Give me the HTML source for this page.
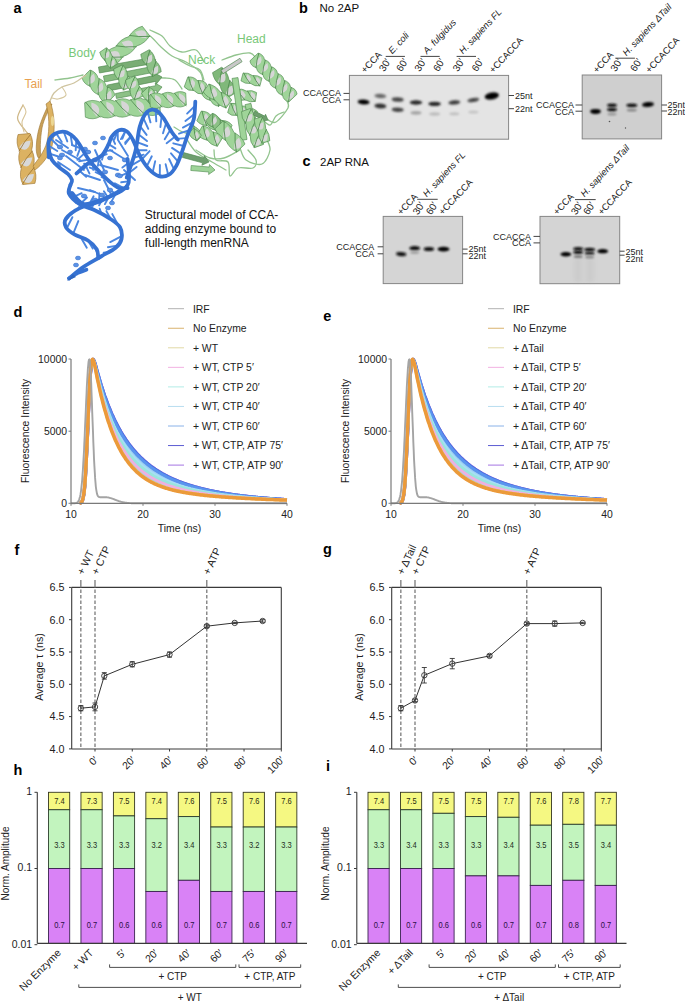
<!DOCTYPE html>
<html><head><meta charset="utf-8"><style>
html,body{margin:0;padding:0;background:#fff;width:685px;height:1001px;overflow:hidden}
svg{display:block;font-family:"Liberation Sans",sans-serif}
</style></head><body>
<svg width="685" height="1001" viewBox="0 0 685 1001">
<rect width="685" height="1001" fill="#fff"/>
<text x="13.50" y="12.70" font-size="14.5" text-anchor="start" fill="#000" font-weight="bold">a</text>
<text x="299.00" y="12.70" font-size="14.5" text-anchor="start" fill="#000" font-weight="bold">b</text>
<text x="302.50" y="166.40" font-size="14.5" text-anchor="start" fill="#000" font-weight="bold">c</text>
<text x="13.50" y="317.00" font-size="14.5" text-anchor="start" fill="#000" font-weight="bold">d</text>
<text x="323.20" y="321.00" font-size="14.5" text-anchor="start" fill="#000" font-weight="bold">e</text>
<text x="14.50" y="555.00" font-size="14.5" text-anchor="start" fill="#000" font-weight="bold">f</text>
<text x="323.00" y="554.40" font-size="14.5" text-anchor="start" fill="#000" font-weight="bold">g</text>
<text x="13.50" y="774.60" font-size="14.5" text-anchor="start" fill="#000" font-weight="bold">h</text>
<text x="326.00" y="771.40" font-size="14.5" text-anchor="start" fill="#000" font-weight="bold">i</text>
<g id="protein"><path d="M140.0,34.0 C141.7,34.3 146.7,34.0 150.0,36.0 C153.3,38.0 156.3,42.7 160.0,46.0 C163.7,49.3 167.7,53.3 172.0,56.0 C176.3,58.7 181.3,59.3 186.0,62.0 C190.7,64.7 197.2,68.7 200.0,72.0 C202.8,75.3 202.5,80.3 203.0,82.0" fill="none" stroke="#92c48e" stroke-width="1.3" stroke-linecap="round" stroke-linejoin="round"/>
<path d="M150.0,30.0 C152.0,31.0 158.7,33.3 162.0,36.0 C165.3,38.7 166.7,43.3 170.0,46.0 C173.3,48.7 177.7,51.3 182.0,52.0 C186.3,52.7 192.3,48.3 196.0,50.0 C199.7,51.7 202.7,60.0 204.0,62.0" fill="none" stroke="#92c48e" stroke-width="1.3" stroke-linecap="round" stroke-linejoin="round"/>
<path d="M150.0,78.0 C152.5,78.0 160.8,77.7 165.0,78.0 C169.2,78.3 172.2,78.2 175.0,80.0 C177.8,81.8 180.8,87.5 182.0,89.0" fill="none" stroke="#92c48e" stroke-width="1.3" stroke-linecap="round" stroke-linejoin="round"/>
<path d="M179.0,60.0 C180.8,61.0 186.5,64.3 190.0,66.0 C193.5,67.7 197.7,67.7 200.0,70.0 C202.3,72.3 203.3,78.3 204.0,80.0" fill="none" stroke="#92c48e" stroke-width="1.3" stroke-linecap="round" stroke-linejoin="round"/>
<path d="M287.0,101.0 C287.2,102.2 289.8,104.5 288.0,108.0 C286.2,111.5 279.3,120.0 276.0,122.0 C272.7,124.0 269.3,120.3 268.0,120.0" fill="none" stroke="#92c48e" stroke-width="1.3" stroke-linecap="round" stroke-linejoin="round"/>
<path d="M214.0,150.0 C214.3,151.7 213.7,158.0 216.0,160.0 C218.3,162.0 225.7,159.3 228.0,162.0 C230.3,164.7 228.3,175.0 230.0,176.0 C231.7,177.0 234.2,169.3 238.0,168.0 C241.8,166.7 250.0,169.3 253.0,168.0 C256.0,166.7 256.8,163.0 256.0,160.0 C255.2,157.0 249.3,151.7 248.0,150.0" fill="none" stroke="#92c48e" stroke-width="1.3" stroke-linecap="round" stroke-linejoin="round"/>
<path d="M196.0,150.0 C198.3,151.3 205.3,156.7 210.0,158.0 C214.7,159.3 219.0,159.3 224.0,158.0 C229.0,156.7 237.3,151.3 240.0,150.0" fill="none" stroke="#92c48e" stroke-width="1.3" stroke-linecap="round" stroke-linejoin="round"/>
<path d="M262.0,119.0 C263.3,120.0 267.7,125.5 270.0,125.0 C272.3,124.5 273.7,118.2 276.0,116.0 C278.3,113.8 282.7,112.7 284.0,112.0" fill="none" stroke="#92c48e" stroke-width="1.3" stroke-linecap="round" stroke-linejoin="round"/>
<path d="M186.0,138.0 C187.7,140.3 191.7,148.0 196.0,152.0 C200.3,156.0 207.0,159.0 212.0,162.0 C217.0,165.0 223.7,168.7 226.0,170.0" fill="none" stroke="#92c48e" stroke-width="1.3" stroke-linecap="round" stroke-linejoin="round"/>
<path d="M222.0,60.0 C224.3,59.2 231.3,56.2 236.0,55.0 C240.7,53.8 246.7,52.5 250.0,53.0 C253.3,53.5 255.0,57.2 256.0,58.0" fill="none" stroke="#92c48e" stroke-width="1.3" stroke-linecap="round" stroke-linejoin="round"/>
<path d="M174.0,127.0 C176.0,128.0 182.3,132.8 186.0,133.0 C189.7,133.2 194.3,128.8 196.0,128.0" fill="none" stroke="#92c48e" stroke-width="1.3" stroke-linecap="round" stroke-linejoin="round"/>
<path d="M55.0,80.0 C57.5,79.7 65.3,78.8 70.0,78.0 C74.7,77.2 80.8,75.5 83.0,75.0" fill="none" stroke="#92c48e" stroke-width="1.3" stroke-linecap="round" stroke-linejoin="round"/>
<path d="M240.0,148.0 C241.0,150.0 242.3,157.3 246.0,160.0 C249.7,162.7 258.0,165.7 262.0,164.0 C266.0,162.3 269.3,154.3 270.0,150.0 C270.7,145.7 266.7,140.0 266.0,138.0" fill="none" stroke="#92c48e" stroke-width="1.3" stroke-linecap="round" stroke-linejoin="round"/>
<g transform="translate(99.0,70.0) rotate(-10.0)">
<path d="M0,-3.0 H50.7 V-6.0 L57.9,0 L50.7,6.0 V3.0 H0 Z" fill="#79ad74" stroke="#4f8a4f" stroke-width="0.6"/>
</g>
<g transform="translate(104.0,79.0) rotate(-11.1)">
<path d="M0,-3.0 H49.9 V-6.0 L57.1,0 L49.9,6.0 V3.0 H0 Z" fill="#86bb80" stroke="#4f8a4f" stroke-width="0.6"/>
</g>
<g transform="translate(108.0,88.0) rotate(-11.5)">
<path d="M0,-3.0 H47.9 V-6.0 L55.1,0 L47.9,6.0 V3.0 H0 Z" fill="#79ad74" stroke="#4f8a4f" stroke-width="0.6"/>
</g>
<g transform="translate(116.0,96.0) rotate(-11.1)">
<path d="M0,-2.5 H40.9 V-5.0 L46.9,0 L40.9,5.0 V2.5 H0 Z" fill="#8cc086" stroke="#4f8a4f" stroke-width="0.6"/>
</g>
<g transform="translate(106.0,62.0) rotate(-37.8)">
<path d="M0,-6.0 Q8.4,-9.4 16.9,-6.0 Q25.3,-9.4 33.7,-6.0 Q42.2,-9.4 50.6,-6.0 L50.6,6.0 Q42.2,9.4 33.7,6.0 Q25.3,9.4 16.9,6.0 Q8.4,9.4 0.0,6.0 Z" fill="#9fd499" stroke="#4f8a4f" stroke-width="0.6"/>
<path d="M7.6,-6.0 Q21.1,-2.2 12.7,6.0 Q5.9,0.0 7.6,-6.0 Z" fill="#d6d6d6"/>
<path d="M0.8,-6.8 Q6.7,0.0 16.9,6.8" fill="none" stroke="#4f8a4f" stroke-width="0.8"/>
<path d="M24.5,-6.0 Q38.0,-2.2 29.5,6.0 Q22.8,0.0 24.5,-6.0 Z" fill="#d6d6d6"/>
<path d="M17.7,-6.8 Q23.6,0.0 33.7,6.8" fill="none" stroke="#4f8a4f" stroke-width="0.8"/>
<path d="M41.3,-6.0 Q54.8,-2.2 46.4,6.0 Q39.6,0.0 41.3,-6.0 Z" fill="#d6d6d6"/>
<path d="M34.6,-6.8 Q40.5,0.0 50.6,6.8" fill="none" stroke="#4f8a4f" stroke-width="0.8"/>
</g>
<g transform="translate(103.0,50.0) rotate(55.5)">
<path d="M0,-4.0 Q4.9,-6.2 9.7,-4.0 Q14.6,-6.2 19.4,-4.0 L19.4,4.0 Q14.6,6.2 9.7,4.0 Q4.9,6.2 0.0,4.0 Z" fill="#9fd499" stroke="#4f8a4f" stroke-width="0.6"/>
<path d="M4.4,-4.0 Q12.1,-1.5 7.3,4.0 Q3.4,0.0 4.4,-4.0 Z" fill="#d6d6d6"/>
<path d="M0.5,-4.5 Q3.9,0.0 9.7,4.5" fill="none" stroke="#4f8a4f" stroke-width="0.8"/>
<path d="M14.1,-4.0 Q21.8,-1.5 17.0,4.0 Q13.1,0.0 14.1,-4.0 Z" fill="#d6d6d6"/>
<path d="M10.2,-4.5 Q13.6,0.0 19.4,4.5" fill="none" stroke="#4f8a4f" stroke-width="0.8"/>
</g>
<g transform="translate(86.0,74.0) rotate(45.0)">
<path d="M0,-5.6 Q5.9,-8.8 11.8,-5.6 Q17.7,-8.8 23.6,-5.6 Q29.5,-8.8 35.4,-5.6 L35.4,5.6 Q29.5,8.8 23.6,5.6 Q17.7,8.8 11.8,5.6 Q5.9,8.8 0.0,5.6 Z" fill="#9fd499" stroke="#4f8a4f" stroke-width="0.6"/>
<path d="M5.3,-5.6 Q14.7,-2.1 8.8,5.6 Q4.1,0.0 5.3,-5.6 Z" fill="#d6d6d6"/>
<path d="M0.6,-6.3 Q4.7,0.0 11.8,6.3" fill="none" stroke="#4f8a4f" stroke-width="0.8"/>
<path d="M17.1,-5.6 Q26.5,-2.1 20.6,5.6 Q15.9,0.0 17.1,-5.6 Z" fill="#d6d6d6"/>
<path d="M12.4,-6.3 Q16.5,0.0 23.6,6.3" fill="none" stroke="#4f8a4f" stroke-width="0.8"/>
<path d="M28.9,-5.6 Q38.3,-2.1 32.4,5.6 Q27.7,0.0 28.9,-5.6 Z" fill="#d6d6d6"/>
<path d="M24.2,-6.3 Q28.3,0.0 35.4,6.3" fill="none" stroke="#4f8a4f" stroke-width="0.8"/>
</g>
<g transform="translate(85.0,110.0) rotate(-3.1)">
<path d="M0,-7.2 Q7.5,-11.2 15.0,-7.2 Q22.5,-11.2 30.0,-7.2 Q37.6,-11.2 45.1,-7.2 Q52.6,-11.2 60.1,-7.2 Q67.6,-11.2 75.1,-7.2 L75.1,7.2 Q67.6,11.2 60.1,7.2 Q52.6,11.2 45.1,7.2 Q37.6,11.2 30.0,7.2 Q22.5,11.2 15.0,7.2 Q7.5,11.2 0.0,7.2 Z" fill="#9fd499" stroke="#4f8a4f" stroke-width="0.6"/>
<path d="M6.8,-7.2 Q18.8,-2.7 11.3,7.2 Q5.3,0.0 6.8,-7.2 Z" fill="#d6d6d6"/>
<path d="M0.8,-8.1 Q6.0,0.0 15.0,8.1" fill="none" stroke="#4f8a4f" stroke-width="0.8"/>
<path d="M21.8,-7.2 Q33.8,-2.7 26.3,7.2 Q20.3,0.0 21.8,-7.2 Z" fill="#d6d6d6"/>
<path d="M15.8,-8.1 Q21.0,0.0 30.0,8.1" fill="none" stroke="#4f8a4f" stroke-width="0.8"/>
<path d="M36.8,-7.2 Q48.8,-2.7 41.3,7.2 Q35.3,0.0 36.8,-7.2 Z" fill="#d6d6d6"/>
<path d="M30.8,-8.1 Q36.1,0.0 45.1,8.1" fill="none" stroke="#4f8a4f" stroke-width="0.8"/>
<path d="M51.8,-7.2 Q63.8,-2.7 56.3,7.2 Q50.3,0.0 51.8,-7.2 Z" fill="#d6d6d6"/>
<path d="M45.8,-8.1 Q51.1,0.0 60.1,8.1" fill="none" stroke="#4f8a4f" stroke-width="0.8"/>
<path d="M66.8,-7.2 Q78.9,-2.7 71.4,7.2 Q65.3,0.0 66.8,-7.2 Z" fill="#d6d6d6"/>
<path d="M60.8,-8.1 Q66.1,0.0 75.1,8.1" fill="none" stroke="#4f8a4f" stroke-width="0.8"/>
</g>
<g transform="translate(118.0,67.0) rotate(64.5)">
<path d="M0,-4.8 Q5.8,-7.5 11.6,-4.8 Q17.4,-7.5 23.3,-4.8 L23.3,4.8 Q17.4,7.5 11.6,4.8 Q5.8,7.5 0.0,4.8 Z" fill="#9fd499" stroke="#4f8a4f" stroke-width="0.6"/>
<path d="M5.2,-4.8 Q14.5,-1.8 8.7,4.8 Q4.1,0.0 5.2,-4.8 Z" fill="#d6d6d6"/>
<path d="M0.6,-5.4 Q4.7,0.0 11.6,5.4" fill="none" stroke="#4f8a4f" stroke-width="0.8"/>
<path d="M16.9,-4.8 Q26.2,-1.8 20.4,4.8 Q15.7,0.0 16.9,-4.8 Z" fill="#d6d6d6"/>
<path d="M12.2,-5.4 Q16.3,0.0 23.3,5.4" fill="none" stroke="#4f8a4f" stroke-width="0.8"/>
</g>
<g transform="translate(130.0,78.0) rotate(65.8)">
<path d="M0,-4.8 Q5.5,-7.5 11.0,-4.8 Q16.4,-7.5 21.9,-4.8 L21.9,4.8 Q16.4,7.5 11.0,4.8 Q5.5,7.5 0.0,4.8 Z" fill="#9fd499" stroke="#4f8a4f" stroke-width="0.6"/>
<path d="M4.9,-4.8 Q13.7,-1.8 8.2,4.8 Q3.8,0.0 4.9,-4.8 Z" fill="#d6d6d6"/>
<path d="M0.5,-5.4 Q4.4,0.0 11.0,5.4" fill="none" stroke="#4f8a4f" stroke-width="0.8"/>
<path d="M15.9,-4.8 Q24.7,-1.8 19.2,4.8 Q14.8,0.0 15.9,-4.8 Z" fill="#d6d6d6"/>
<path d="M11.5,-5.4 Q15.4,0.0 21.9,5.4" fill="none" stroke="#4f8a4f" stroke-width="0.8"/>
</g>
<g transform="translate(145.0,52.0) rotate(61.4)">
<path d="M0,-4.8 Q6.3,-7.5 12.5,-4.8 Q18.8,-7.5 25.1,-4.8 L25.1,4.8 Q18.8,7.5 12.5,4.8 Q6.3,7.5 0.0,4.8 Z" fill="#8cc086" stroke="#4f8a4f" stroke-width="0.6"/>
<path d="M5.6,-4.8 Q15.7,-1.8 9.4,4.8 Q4.4,0.0 5.6,-4.8 Z" fill="#d6d6d6"/>
<path d="M0.6,-5.4 Q5.0,0.0 12.5,5.4" fill="none" stroke="#4f8a4f" stroke-width="0.8"/>
<path d="M18.2,-4.8 Q28.2,-1.8 21.9,4.8 Q16.9,0.0 18.2,-4.8 Z" fill="#d6d6d6"/>
<path d="M13.2,-5.4 Q17.5,0.0 25.1,5.4" fill="none" stroke="#4f8a4f" stroke-width="0.8"/>
</g>
<g transform="translate(145.0,90.0) rotate(46.8)">
<path d="M0,-4.8 Q5.5,-7.5 11.0,-4.8 Q16.4,-7.5 21.9,-4.8 L21.9,4.8 Q16.4,7.5 11.0,4.8 Q5.5,7.5 0.0,4.8 Z" fill="#9fd499" stroke="#4f8a4f" stroke-width="0.6"/>
<path d="M4.9,-4.8 Q13.7,-1.8 8.2,4.8 Q3.8,0.0 4.9,-4.8 Z" fill="#d6d6d6"/>
<path d="M0.5,-5.4 Q4.4,0.0 11.0,5.4" fill="none" stroke="#4f8a4f" stroke-width="0.8"/>
<path d="M15.9,-4.8 Q24.7,-1.8 19.2,4.8 Q14.8,0.0 15.9,-4.8 Z" fill="#d6d6d6"/>
<path d="M11.5,-5.4 Q15.4,0.0 21.9,5.4" fill="none" stroke="#4f8a4f" stroke-width="0.8"/>
</g>
<g transform="translate(150.0,101.0) rotate(-3.2)">
<path d="M0,-6.0 Q6.0,-9.4 12.0,-6.0 Q18.0,-9.4 24.0,-6.0 Q30.0,-9.4 36.1,-6.0 L36.1,6.0 Q30.0,9.4 24.0,6.0 Q18.0,9.4 12.0,6.0 Q6.0,9.4 0.0,6.0 Z" fill="#9fd499" stroke="#4f8a4f" stroke-width="0.6"/>
<path d="M5.4,-6.0 Q15.0,-2.2 9.0,6.0 Q4.2,0.0 5.4,-6.0 Z" fill="#d6d6d6"/>
<path d="M0.6,-6.8 Q4.8,0.0 12.0,6.8" fill="none" stroke="#4f8a4f" stroke-width="0.8"/>
<path d="M17.4,-6.0 Q27.0,-2.2 21.0,6.0 Q16.2,0.0 17.4,-6.0 Z" fill="#d6d6d6"/>
<path d="M12.6,-6.8 Q16.8,0.0 24.0,6.8" fill="none" stroke="#4f8a4f" stroke-width="0.8"/>
<path d="M29.4,-6.0 Q39.1,-2.2 33.1,6.0 Q28.2,0.0 29.4,-6.0 Z" fill="#d6d6d6"/>
<path d="M24.6,-6.8 Q28.8,0.0 36.1,6.8" fill="none" stroke="#4f8a4f" stroke-width="0.8"/>
</g>
<g transform="translate(186.0,82.0) rotate(20.2)">
<path d="M0,-5.2 Q5.1,-8.1 10.1,-5.2 Q15.2,-8.1 20.2,-5.2 L20.2,5.2 Q15.2,8.1 10.1,5.2 Q5.1,8.1 0.0,5.2 Z" fill="#9fd499" stroke="#4f8a4f" stroke-width="0.6"/>
<path d="M4.6,-5.2 Q12.7,-1.9 7.6,5.2 Q3.5,0.0 4.6,-5.2 Z" fill="#d6d6d6"/>
<path d="M0.5,-5.9 Q4.0,0.0 10.1,5.9" fill="none" stroke="#4f8a4f" stroke-width="0.8"/>
<path d="M14.7,-5.2 Q22.8,-1.9 17.7,5.2 Q13.7,0.0 14.7,-5.2 Z" fill="#d6d6d6"/>
<path d="M10.6,-5.9 Q14.2,0.0 20.2,5.9" fill="none" stroke="#4f8a4f" stroke-width="0.8"/>
</g>
<g transform="translate(205.0,90.0) rotate(35.2)">
<path d="M0,-5.2 Q5.2,-8.1 10.4,-5.2 Q15.6,-8.1 20.8,-5.2 L20.8,5.2 Q15.6,8.1 10.4,5.2 Q5.2,8.1 0.0,5.2 Z" fill="#9fd499" stroke="#4f8a4f" stroke-width="0.6"/>
<path d="M4.7,-5.2 Q13.0,-1.9 7.8,5.2 Q3.6,0.0 4.7,-5.2 Z" fill="#d6d6d6"/>
<path d="M0.5,-5.9 Q4.2,0.0 10.4,5.9" fill="none" stroke="#4f8a4f" stroke-width="0.8"/>
<path d="M15.1,-5.2 Q23.4,-1.9 18.2,5.2 Q14.0,0.0 15.1,-5.2 Z" fill="#d6d6d6"/>
<path d="M10.9,-5.9 Q14.6,0.0 20.8,5.9" fill="none" stroke="#4f8a4f" stroke-width="0.8"/>
</g>
<g transform="translate(217.0,70.0) rotate(59.0)">
<path d="M0,-5.2 Q7.3,-8.1 14.6,-5.2 Q21.9,-8.1 29.2,-5.2 L29.2,5.2 Q21.9,8.1 14.6,5.2 Q7.3,8.1 0.0,5.2 Z" fill="#80b87a" stroke="#4f8a4f" stroke-width="0.6"/>
<path d="M6.6,-5.2 Q18.2,-1.9 10.9,5.2 Q5.1,0.0 6.6,-5.2 Z" fill="#d6d6d6"/>
<path d="M0.7,-5.9 Q5.8,0.0 14.6,5.9" fill="none" stroke="#4f8a4f" stroke-width="0.8"/>
<path d="M21.1,-5.2 Q32.8,-1.9 25.5,5.2 Q19.7,0.0 21.1,-5.2 Z" fill="#d6d6d6"/>
<path d="M15.3,-5.9 Q20.4,0.0 29.2,5.9" fill="none" stroke="#4f8a4f" stroke-width="0.8"/>
</g>
<g transform="translate(199.0,116.0) rotate(24.3)">
<path d="M0,-5.2 Q5.7,-8.1 11.3,-5.2 Q17.0,-8.1 22.7,-5.2 Q28.3,-8.1 34.0,-5.2 L34.0,5.2 Q28.3,8.1 22.7,5.2 Q17.0,8.1 11.3,5.2 Q5.7,8.1 0.0,5.2 Z" fill="#9fd499" stroke="#4f8a4f" stroke-width="0.6"/>
<path d="M5.1,-5.2 Q14.2,-1.9 8.5,5.2 Q4.0,0.0 5.1,-5.2 Z" fill="#d6d6d6"/>
<path d="M0.6,-5.9 Q4.5,0.0 11.3,5.9" fill="none" stroke="#4f8a4f" stroke-width="0.8"/>
<path d="M16.4,-5.2 Q25.5,-1.9 19.8,5.2 Q15.3,0.0 16.4,-5.2 Z" fill="#d6d6d6"/>
<path d="M11.9,-5.9 Q15.9,0.0 22.7,5.9" fill="none" stroke="#4f8a4f" stroke-width="0.8"/>
<path d="M27.8,-5.2 Q36.8,-1.9 31.2,5.2 Q26.6,0.0 27.8,-5.2 Z" fill="#d6d6d6"/>
<path d="M23.2,-5.9 Q27.2,0.0 34.0,5.9" fill="none" stroke="#4f8a4f" stroke-width="0.8"/>
</g>
<g transform="translate(190.0,128.0) rotate(45.0)">
<path d="M0,-4.0 Q7.1,-6.2 14.1,-4.0 L14.1,4.0 Q7.1,6.2 0.0,4.0 Z" fill="#9fd499" stroke="#4f8a4f" stroke-width="0.6"/>
<path d="M6.4,-4.0 Q17.7,-1.5 10.6,4.0 Q4.9,0.0 6.4,-4.0 Z" fill="#d6d6d6"/>
<path d="M0.7,-4.5 Q5.7,0.0 14.1,4.5" fill="none" stroke="#4f8a4f" stroke-width="0.8"/>
</g>
<g transform="translate(222.0,72.0) rotate(-32.3)">
<rect x="0" y="-2.0" width="22.5" height="4" fill="#c8c8c8" stroke="#4f8a4f" stroke-width="0.6"/>
</g>
<g transform="translate(242.0,77.0) rotate(14.7)">
<path d="M0,-4.0 Q4.9,-6.2 9.8,-4.0 Q14.7,-6.2 19.6,-4.0 L19.6,4.0 Q14.7,6.2 9.8,4.0 Q4.9,6.2 0.0,4.0 Z" fill="#9fd499" stroke="#4f8a4f" stroke-width="0.6"/>
<path d="M4.4,-4.0 Q12.3,-1.5 7.4,4.0 Q3.4,0.0 4.4,-4.0 Z" fill="#d6d6d6"/>
<path d="M0.5,-4.5 Q3.9,0.0 9.8,4.5" fill="none" stroke="#4f8a4f" stroke-width="0.8"/>
<path d="M14.2,-4.0 Q22.1,-1.5 17.2,4.0 Q13.3,0.0 14.2,-4.0 Z" fill="#d6d6d6"/>
<path d="M10.3,-4.5 Q13.8,0.0 19.6,4.5" fill="none" stroke="#4f8a4f" stroke-width="0.8"/>
</g>
<g transform="translate(236.0,94.0) rotate(8.5)">
<path d="M0,-4.4 Q5.1,-6.9 10.1,-4.4 Q15.2,-6.9 20.2,-4.4 L20.2,4.4 Q15.2,6.9 10.1,4.4 Q5.1,6.9 0.0,4.4 Z" fill="#9fd499" stroke="#4f8a4f" stroke-width="0.6"/>
<path d="M4.6,-4.4 Q12.6,-1.6 7.6,4.4 Q3.5,0.0 4.6,-4.4 Z" fill="#d6d6d6"/>
<path d="M0.5,-5.0 Q4.0,0.0 10.1,5.0" fill="none" stroke="#4f8a4f" stroke-width="0.8"/>
<path d="M14.7,-4.4 Q22.8,-1.6 17.7,4.4 Q13.7,0.0 14.7,-4.4 Z" fill="#d6d6d6"/>
<path d="M10.6,-5.0 Q14.2,0.0 20.2,5.0" fill="none" stroke="#4f8a4f" stroke-width="0.8"/>
</g>
<g transform="translate(229.0,108.0) rotate(16.5)">
<path d="M0,-4.8 Q4.7,-7.5 9.4,-4.8 Q14.1,-7.5 18.8,-4.8 Q23.5,-7.5 28.2,-4.8 L28.2,4.8 Q23.5,7.5 18.8,4.8 Q14.1,7.5 9.4,4.8 Q4.7,7.5 0.0,4.8 Z" fill="#9fd499" stroke="#4f8a4f" stroke-width="0.6"/>
<path d="M4.2,-4.8 Q11.7,-1.8 7.0,4.8 Q3.3,0.0 4.2,-4.8 Z" fill="#d6d6d6"/>
<path d="M0.5,-5.4 Q3.8,0.0 9.4,5.4" fill="none" stroke="#4f8a4f" stroke-width="0.8"/>
<path d="M13.6,-4.8 Q21.1,-1.8 16.4,4.8 Q12.7,0.0 13.6,-4.8 Z" fill="#d6d6d6"/>
<path d="M9.9,-5.4 Q13.1,0.0 18.8,5.4" fill="none" stroke="#4f8a4f" stroke-width="0.8"/>
<path d="M23.0,-4.8 Q30.5,-1.8 25.8,4.8 Q22.1,0.0 23.0,-4.8 Z" fill="#d6d6d6"/>
<path d="M19.2,-5.4 Q22.5,0.0 28.2,5.4" fill="none" stroke="#4f8a4f" stroke-width="0.8"/>
</g>
<g transform="translate(206.0,88.0) rotate(34.8)">
<path d="M0,-4.8 Q7.0,-7.5 14.0,-4.8 Q21.0,-7.5 28.0,-4.8 L28.0,4.8 Q21.0,7.5 14.0,4.8 Q7.0,7.5 0.0,4.8 Z" fill="#9fd499" stroke="#4f8a4f" stroke-width="0.6"/>
<path d="M6.3,-4.8 Q17.5,-1.8 10.5,4.8 Q4.9,0.0 6.3,-4.8 Z" fill="#d6d6d6"/>
<path d="M0.7,-5.4 Q5.6,0.0 14.0,5.4" fill="none" stroke="#4f8a4f" stroke-width="0.8"/>
<path d="M20.3,-4.8 Q31.5,-1.8 24.5,4.8 Q18.9,0.0 20.3,-4.8 Z" fill="#d6d6d6"/>
<path d="M14.7,-5.4 Q19.6,0.0 28.0,5.4" fill="none" stroke="#4f8a4f" stroke-width="0.8"/>
</g>
<g transform="translate(235.0,78.0) rotate(81.7)">
<rect x="0" y="-3.0" width="62.6" height="6" fill="#9fd499" stroke="#4f8a4f" stroke-width="0.6"/>
</g>
<g transform="translate(248.0,104.0) rotate(77.5)">
<rect x="0" y="-3.0" width="36.9" height="6" fill="#9fd499" stroke="#4f8a4f" stroke-width="0.6"/>
</g>
<g transform="translate(209.0,117.0) rotate(40.9)">
<path d="M0,-4.8 Q5.0,-7.5 9.9,-4.8 Q14.9,-7.5 19.8,-4.8 L19.8,4.8 Q14.9,7.5 9.9,4.8 Q5.0,7.5 0.0,4.8 Z" fill="#8cc086" stroke="#4f8a4f" stroke-width="0.6"/>
<path d="M4.5,-4.8 Q12.4,-1.8 7.4,4.8 Q3.5,0.0 4.5,-4.8 Z" fill="#d6d6d6"/>
<path d="M0.5,-5.4 Q4.0,0.0 9.9,5.4" fill="none" stroke="#4f8a4f" stroke-width="0.8"/>
<path d="M14.4,-4.8 Q22.3,-1.8 17.4,4.8 Q13.4,0.0 14.4,-4.8 Z" fill="#d6d6d6"/>
<path d="M10.4,-5.4 Q13.9,0.0 19.8,5.4" fill="none" stroke="#4f8a4f" stroke-width="0.8"/>
</g>
<g transform="translate(219.0,125.0) rotate(46.3)">
<path d="M0,-5.6 Q8.0,-8.8 15.9,-5.6 Q23.9,-8.8 31.8,-5.6 L31.8,5.6 Q23.9,8.8 15.9,5.6 Q8.0,8.8 0.0,5.6 Z" fill="#9fd499" stroke="#4f8a4f" stroke-width="0.6"/>
<path d="M7.2,-5.6 Q19.9,-2.1 11.9,5.6 Q5.6,0.0 7.2,-5.6 Z" fill="#d6d6d6"/>
<path d="M0.8,-6.3 Q6.4,0.0 15.9,6.3" fill="none" stroke="#4f8a4f" stroke-width="0.8"/>
<path d="M23.1,-5.6 Q35.8,-2.1 27.8,5.6 Q21.5,0.0 23.1,-5.6 Z" fill="#d6d6d6"/>
<path d="M16.7,-6.3 Q22.3,0.0 31.8,6.3" fill="none" stroke="#4f8a4f" stroke-width="0.8"/>
</g>
<g transform="translate(246.0,110.0) rotate(70.1)">
<path d="M0,-4.8 Q6.4,-7.5 12.8,-4.8 Q19.1,-7.5 25.5,-4.8 Q31.9,-7.5 38.3,-4.8 L38.3,4.8 Q31.9,7.5 25.5,4.8 Q19.1,7.5 12.8,4.8 Q6.4,7.5 0.0,4.8 Z" fill="#9fd499" stroke="#4f8a4f" stroke-width="0.6"/>
<path d="M5.7,-4.8 Q15.9,-1.8 9.6,4.8 Q4.5,0.0 5.7,-4.8 Z" fill="#d6d6d6"/>
<path d="M0.6,-5.4 Q5.1,0.0 12.8,5.4" fill="none" stroke="#4f8a4f" stroke-width="0.8"/>
<path d="M18.5,-4.8 Q28.7,-1.8 22.3,4.8 Q17.2,0.0 18.5,-4.8 Z" fill="#d6d6d6"/>
<path d="M13.4,-5.4 Q17.9,0.0 25.5,5.4" fill="none" stroke="#4f8a4f" stroke-width="0.8"/>
<path d="M31.3,-4.8 Q41.5,-1.8 35.1,4.8 Q30.0,0.0 31.3,-4.8 Z" fill="#d6d6d6"/>
<path d="M26.2,-5.4 Q30.6,0.0 38.3,5.4" fill="none" stroke="#4f8a4f" stroke-width="0.8"/>
</g>
<g transform="translate(254.0,113.0) rotate(26.6)">
<path d="M0,-2.0 H10.9 V-4.0 L15.7,0 L10.9,4.0 V2.0 H0 Z" fill="#6e9e6e" stroke="#4f8a4f" stroke-width="0.6"/>
</g>
<g transform="translate(183.0,155.0) rotate(15.1)">
<path d="M0,-2.5 H20.9 V-5.0 L26.9,0 L20.9,5.0 V2.5 H0 Z" fill="#6e9e6e" stroke="#4f8a4f" stroke-width="0.6"/>
</g>
<g transform="translate(191.0,168.0) rotate(4.8)">
<path d="M0,-2.5 H18.1 V-5.0 L24.1,0 L18.1,5.0 V2.5 H0 Z" fill="#9fd499" stroke="#4f8a4f" stroke-width="0.6"/>
</g>
<g transform="translate(254.0,57.0) rotate(46.4)">
<path d="M0,-5.6 Q4.7,-8.8 9.4,-5.6 Q14.1,-8.8 18.9,-5.6 Q23.6,-8.8 28.3,-5.6 Q33.0,-8.8 37.7,-5.6 Q42.4,-8.8 47.2,-5.6 Q51.9,-8.8 56.6,-5.6 L56.6,5.6 Q51.9,8.8 47.2,5.6 Q42.4,8.8 37.7,5.6 Q33.0,8.8 28.3,5.6 Q23.6,8.8 18.9,5.6 Q14.1,8.8 9.4,5.6 Q4.7,8.8 0.0,5.6 Z" fill="#9fd499" stroke="#4f8a4f" stroke-width="0.6"/>
<path d="M4.2,-5.6 Q11.8,-2.1 7.1,5.6 Q3.3,0.0 4.2,-5.6 Z" fill="#d6d6d6"/>
<path d="M0.5,-6.3 Q3.8,0.0 9.4,6.3" fill="none" stroke="#4f8a4f" stroke-width="0.8"/>
<path d="M13.7,-5.6 Q21.2,-2.1 16.5,5.6 Q12.7,0.0 13.7,-5.6 Z" fill="#d6d6d6"/>
<path d="M9.9,-6.3 Q13.2,0.0 18.9,6.3" fill="none" stroke="#4f8a4f" stroke-width="0.8"/>
<path d="M23.1,-5.6 Q30.7,-2.1 25.9,5.6 Q22.2,0.0 23.1,-5.6 Z" fill="#d6d6d6"/>
<path d="M19.3,-6.3 Q22.6,0.0 28.3,6.3" fill="none" stroke="#4f8a4f" stroke-width="0.8"/>
<path d="M32.5,-5.6 Q40.1,-2.1 35.4,5.6 Q31.6,0.0 32.5,-5.6 Z" fill="#d6d6d6"/>
<path d="M28.8,-6.3 Q32.1,0.0 37.7,6.3" fill="none" stroke="#4f8a4f" stroke-width="0.8"/>
<path d="M42.0,-5.6 Q49.5,-2.1 44.8,5.6 Q41.0,0.0 42.0,-5.6 Z" fill="#d6d6d6"/>
<path d="M38.2,-6.3 Q41.5,0.0 47.2,6.3" fill="none" stroke="#4f8a4f" stroke-width="0.8"/>
<path d="M51.4,-5.6 Q58.9,-2.1 54.2,5.6 Q50.5,0.0 51.4,-5.6 Z" fill="#d6d6d6"/>
<path d="M47.6,-6.3 Q50.9,0.0 56.6,6.3" fill="none" stroke="#4f8a4f" stroke-width="0.8"/>
</g>
<g transform="translate(200.0,130.0) rotate(31.0)">
<path d="M0,-4.8 Q5.8,-7.5 11.7,-4.8 Q17.5,-7.5 23.3,-4.8 L23.3,4.8 Q17.5,7.5 11.7,4.8 Q5.8,7.5 0.0,4.8 Z" fill="#9fd499" stroke="#4f8a4f" stroke-width="0.6"/>
<path d="M5.2,-4.8 Q14.6,-1.8 8.7,4.8 Q4.1,0.0 5.2,-4.8 Z" fill="#d6d6d6"/>
<path d="M0.6,-5.4 Q4.7,0.0 11.7,5.4" fill="none" stroke="#4f8a4f" stroke-width="0.8"/>
<path d="M16.9,-4.8 Q26.2,-1.8 20.4,4.8 Q15.7,0.0 16.9,-4.8 Z" fill="#d6d6d6"/>
<path d="M12.2,-5.4 Q16.3,0.0 23.3,5.4" fill="none" stroke="#4f8a4f" stroke-width="0.8"/>
</g>
<g transform="translate(258.0,118.0) rotate(71.6)">
<path d="M0,-4.0 Q6.3,-6.2 12.6,-4.0 Q19.0,-6.2 25.3,-4.0 L25.3,4.0 Q19.0,6.2 12.6,4.0 Q6.3,6.2 0.0,4.0 Z" fill="#9fd499" stroke="#4f8a4f" stroke-width="0.6"/>
<path d="M5.7,-4.0 Q15.8,-1.5 9.5,4.0 Q4.4,0.0 5.7,-4.0 Z" fill="#d6d6d6"/>
<path d="M0.6,-4.5 Q5.1,0.0 12.6,4.5" fill="none" stroke="#4f8a4f" stroke-width="0.8"/>
<path d="M18.3,-4.0 Q28.5,-1.5 22.1,4.0 Q17.1,0.0 18.3,-4.0 Z" fill="#d6d6d6"/>
<path d="M13.3,-4.5 Q17.7,0.0 25.3,4.5" fill="none" stroke="#4f8a4f" stroke-width="0.8"/>
</g>
<g transform="translate(191.0,131.0) rotate(41.2)">
<path d="M0,-3.6 Q5.3,-5.6 10.6,-3.6 L10.6,3.6 Q5.3,5.6 0.0,3.6 Z" fill="#9fd499" stroke="#4f8a4f" stroke-width="0.6"/>
<path d="M4.8,-3.6 Q13.3,-1.3 8.0,3.6 Q3.7,0.0 4.8,-3.6 Z" fill="#d6d6d6"/>
<path d="M0.5,-4.0 Q4.3,0.0 10.6,4.0" fill="none" stroke="#4f8a4f" stroke-width="0.8"/>
</g><path d="M86.0,75.0 C84.0,76.3 78.0,81.0 74.0,83.0 C70.0,85.0 65.3,85.3 62.0,87.0 C58.7,88.7 56.0,90.7 54.0,93.0 C52.0,95.3 50.7,99.7 50.0,101.0" fill="none" stroke="#cfc4a0" stroke-width="1.3" stroke-linecap="round" stroke-linejoin="round"/>
<path d="M62.0,87.0 C62.7,88.3 66.7,93.0 66.0,95.0 C65.3,97.0 60.3,98.5 58.0,99.0 C55.7,99.5 53.0,98.2 52.0,98.0" fill="none" stroke="#d6c8a0" stroke-width="1.1" stroke-linecap="round" stroke-linejoin="round"/>
<path d="M23.0,105.0 C22.1,107.2 17.2,114.2 17.6,118.5 C18.0,122.8 23.5,127.9 25.3,130.5 C27.1,133.1 28.1,133.4 28.6,134.0" fill="none" stroke="#cfb888" stroke-width="1.3" stroke-linecap="round" stroke-linejoin="round"/>
<path d="M23.0,105.0 C23.5,106.2 26.2,109.2 26.0,112.0 C25.8,114.8 22.3,118.7 22.0,122.0 C21.7,125.3 23.7,130.3 24.0,132.0" fill="none" stroke="#d8c498" stroke-width="1.1" stroke-linecap="round" stroke-linejoin="round"/>
<path d="M48.4,105 C42,118 37,130 36.3,146 C36,152 37,156 38.5,158 L41,157 C40,150 40,140 42,128 C44,118 49,110 52,104 Z" fill="#c9a058" stroke="#9c7430" stroke-width="0.6"/>
<path d="M50,101 C54,112 56,128 52,146 C49,156 42,165 35,170 L32,167 C38,160 44,152 47,142 C50,128 49,114 46,104 Z" fill="#dcb262" stroke="#9c7430" stroke-width="0.6"/>
<ellipse cx="52.5" cy="121" rx="1.6" ry="5" fill="#f0e0a0" opacity="0.8"/>
<g transform="translate(24.0,134.0) rotate(84.3)">
<path d="M0,-6.0 Q8.4,-9.4 16.7,-6.0 Q25.1,-9.4 33.5,-6.0 Q41.9,-9.4 50.2,-6.0 L50.2,6.0 Q41.9,9.4 33.5,6.0 Q25.1,9.4 16.7,6.0 Q8.4,9.4 0.0,6.0 Z" fill="#dcb262" stroke="#9c7430" stroke-width="0.6"/>
<path d="M7.5,-6.0 Q20.9,-2.2 12.6,6.0 Q5.9,0.0 7.5,-6.0 Z" fill="#d8d8d8"/>
<path d="M0.8,-6.8 Q6.7,0.0 16.7,6.8" fill="none" stroke="#9c7430" stroke-width="0.8"/>
<path d="M24.3,-6.0 Q37.7,-2.2 29.3,6.0 Q22.6,0.0 24.3,-6.0 Z" fill="#d8d8d8"/>
<path d="M17.6,-6.8 Q23.4,0.0 33.5,6.8" fill="none" stroke="#9c7430" stroke-width="0.8"/>
<path d="M41.0,-6.0 Q54.4,-2.2 46.1,6.0 Q39.4,0.0 41.0,-6.0 Z" fill="#d8d8d8"/>
<path d="M34.3,-6.8 Q40.2,0.0 50.2,6.8" fill="none" stroke="#9c7430" stroke-width="0.8"/>
</g><line x1="116.3" y1="192.8" x2="110.7" y2="202.9" stroke="#4a86e0" stroke-width="1.9" stroke-linecap="round"/>
<line x1="108.9" y1="196.7" x2="104.9" y2="204.1" stroke="#4a86e0" stroke-width="1.9" stroke-linecap="round"/>
<line x1="101.6" y1="200.7" x2="99.1" y2="205.3" stroke="#4a86e0" stroke-width="1.9" stroke-linecap="round"/>
<line x1="93.7" y1="203.5" x2="92.8" y2="205.9" stroke="#4a86e0" stroke-width="1.9" stroke-linecap="round"/>
<line x1="85.8" y1="206.2" x2="85.8" y2="206.4" stroke="#4a86e0" stroke-width="1.9" stroke-linecap="round"/>
<line x1="78.1" y1="209.3" x2="79.0" y2="207.1" stroke="#4a86e0" stroke-width="1.9" stroke-linecap="round"/>
<line x1="71.5" y1="214.4" x2="74.9" y2="209.7" stroke="#4a86e0" stroke-width="1.9" stroke-linecap="round"/>
<line x1="66.0" y1="220.1" x2="71.9" y2="212.8" stroke="#4a86e0" stroke-width="1.9" stroke-linecap="round"/>
<line x1="66.9" y1="228.0" x2="72.4" y2="217.2" stroke="#4a86e0" stroke-width="1.9" stroke-linecap="round"/>
<line x1="73.3" y1="233.4" x2="78.3" y2="221.1" stroke="#4a86e0" stroke-width="1.9" stroke-linecap="round"/>
<line x1="80.7" y1="237.2" x2="86.8" y2="247.7" stroke="#4a86e0" stroke-width="1.9" stroke-linecap="round"/>
<line x1="88.2" y1="240.7" x2="92.8" y2="248.5" stroke="#4a86e0" stroke-width="1.9" stroke-linecap="round"/>
<line x1="94.1" y1="246.6" x2="96.8" y2="251.3" stroke="#4a86e0" stroke-width="1.9" stroke-linecap="round"/>
<line x1="97.5" y1="253.9" x2="98.4" y2="255.5" stroke="#4a86e0" stroke-width="1.9" stroke-linecap="round"/>
<line x1="69.6" y1="190.3" x2="73.9" y2="198.4" stroke="#4a86e0" stroke-width="1.9" stroke-linecap="round"/>
<line x1="74.0" y1="198.8" x2="76.3" y2="203.1" stroke="#4a86e0" stroke-width="1.9" stroke-linecap="round"/>
<line x1="82.2" y1="205.2" x2="82.6" y2="206.1" stroke="#4a86e0" stroke-width="1.9" stroke-linecap="round"/>
<line x1="92.1" y1="209.1" x2="91.4" y2="207.1" stroke="#4a86e0" stroke-width="1.9" stroke-linecap="round"/>
<line x1="101.6" y1="214.0" x2="99.7" y2="208.7" stroke="#4a86e0" stroke-width="1.9" stroke-linecap="round"/>
<line x1="110.8" y1="219.3" x2="106.4" y2="211.1" stroke="#4a86e0" stroke-width="1.9" stroke-linecap="round"/>
<line x1="118.8" y1="226.3" x2="112.3" y2="214.1" stroke="#4a86e0" stroke-width="1.9" stroke-linecap="round"/>
<line x1="121.2" y1="236.3" x2="110.2" y2="242.1" stroke="#4a86e0" stroke-width="1.9" stroke-linecap="round"/>
<line x1="117.1" y1="245.6" x2="107.9" y2="247.2" stroke="#4a86e0" stroke-width="1.9" stroke-linecap="round"/>
<line x1="108.8" y1="251.9" x2="103.7" y2="252.8" stroke="#4a86e0" stroke-width="1.9" stroke-linecap="round"/>
<line x1="99.6" y1="257.3" x2="98.9" y2="257.4" stroke="#4a86e0" stroke-width="1.9" stroke-linecap="round"/>
<line x1="90.5" y1="262.7" x2="93.9" y2="260.5" stroke="#4a86e0" stroke-width="1.9" stroke-linecap="round"/>
<line x1="81.5" y1="268.5" x2="89.0" y2="263.7" stroke="#4a86e0" stroke-width="1.9" stroke-linecap="round"/>
<line x1="73.2" y1="275.1" x2="84.4" y2="267.3" stroke="#4a86e0" stroke-width="1.9" stroke-linecap="round"/>
<line x1="48.8" y1="153.4" x2="58.3" y2="156.5" stroke="#4a86e0" stroke-width="1.9" stroke-linecap="round"/>
<line x1="48.8" y1="145.7" x2="57.3" y2="151.0" stroke="#4a86e0" stroke-width="1.9" stroke-linecap="round"/>
<line x1="50.9" y1="138.7" x2="58.1" y2="145.7" stroke="#4a86e0" stroke-width="1.9" stroke-linecap="round"/>
<line x1="56.3" y1="133.6" x2="61.8" y2="142.0" stroke="#4a86e0" stroke-width="1.9" stroke-linecap="round"/>
<line x1="63.8" y1="132.0" x2="67.3" y2="141.4" stroke="#4a86e0" stroke-width="1.9" stroke-linecap="round"/>
<line x1="70.6" y1="135.2" x2="72.2" y2="145.0" stroke="#4a86e0" stroke-width="1.9" stroke-linecap="round"/>
<line x1="76.3" y1="140.3" x2="75.7" y2="150.2" stroke="#4a86e0" stroke-width="1.9" stroke-linecap="round"/>
<line x1="80.8" y1="146.5" x2="77.3" y2="155.9" stroke="#4a86e0" stroke-width="1.9" stroke-linecap="round"/>
<line x1="84.8" y1="153.1" x2="77.4" y2="159.8" stroke="#4a86e0" stroke-width="1.9" stroke-linecap="round"/>
<line x1="88.9" y1="159.6" x2="79.1" y2="161.3" stroke="#4a86e0" stroke-width="1.9" stroke-linecap="round"/>
<line x1="94.0" y1="165.4" x2="84.1" y2="163.7" stroke="#4a86e0" stroke-width="1.9" stroke-linecap="round"/>
<line x1="99.1" y1="171.2" x2="89.8" y2="167.6" stroke="#4a86e0" stroke-width="1.9" stroke-linecap="round"/>
<line x1="104.6" y1="176.7" x2="95.6" y2="172.2" stroke="#4a86e0" stroke-width="1.9" stroke-linecap="round"/>
<line x1="110.3" y1="181.9" x2="101.5" y2="177.0" stroke="#4a86e0" stroke-width="1.9" stroke-linecap="round"/>
<line x1="116.5" y1="186.4" x2="107.9" y2="181.3" stroke="#4a86e0" stroke-width="1.9" stroke-linecap="round"/>
<line x1="123.7" y1="188.0" x2="114.9" y2="183.3" stroke="#4a86e0" stroke-width="1.9" stroke-linecap="round"/>
<line x1="79.5" y1="170.7" x2="86.2" y2="176.8" stroke="#4a86e0" stroke-width="1.9" stroke-linecap="round"/>
<line x1="85.6" y1="165.4" x2="89.5" y2="173.6" stroke="#4a86e0" stroke-width="1.9" stroke-linecap="round"/>
<line x1="92.3" y1="160.9" x2="93.3" y2="169.9" stroke="#4a86e0" stroke-width="1.9" stroke-linecap="round"/>
<line x1="99.3" y1="157.0" x2="97.9" y2="165.9" stroke="#4a86e0" stroke-width="1.9" stroke-linecap="round"/>
<line x1="104.4" y1="151.0" x2="102.0" y2="159.7" stroke="#4a86e0" stroke-width="1.9" stroke-linecap="round"/>
<line x1="108.6" y1="144.1" x2="105.8" y2="152.7" stroke="#4a86e0" stroke-width="1.9" stroke-linecap="round"/>
<line x1="111.7" y1="136.7" x2="108.8" y2="145.2" stroke="#4a86e0" stroke-width="1.9" stroke-linecap="round"/>
<line x1="117.7" y1="131.3" x2="114.2" y2="139.6" stroke="#4a86e0" stroke-width="1.9" stroke-linecap="round"/>
<line x1="125.3" y1="131.3" x2="120.9" y2="139.1" stroke="#4a86e0" stroke-width="1.9" stroke-linecap="round"/>
<line x1="130.7" y1="136.7" x2="125.3" y2="143.9" stroke="#4a86e0" stroke-width="1.9" stroke-linecap="round"/>
<line x1="79.5" y1="170.7" x2="86.6" y2="167.0" stroke="#4a86e0" stroke-width="1.9" stroke-linecap="round"/>
<line x1="85.6" y1="165.4" x2="92.8" y2="162.0" stroke="#4a86e0" stroke-width="1.9" stroke-linecap="round"/>
<line x1="92.3" y1="160.9" x2="99.6" y2="157.8" stroke="#4a86e0" stroke-width="1.9" stroke-linecap="round"/>
<line x1="99.3" y1="157.0" x2="106.8" y2="154.2" stroke="#4a86e0" stroke-width="1.9" stroke-linecap="round"/>
<line x1="104.4" y1="151.0" x2="112.3" y2="150.4" stroke="#4a86e0" stroke-width="1.9" stroke-linecap="round"/>
<line x1="108.6" y1="144.1" x2="115.4" y2="148.4" stroke="#4a86e0" stroke-width="1.9" stroke-linecap="round"/>
<line x1="111.7" y1="136.7" x2="115.1" y2="143.9" stroke="#4a86e0" stroke-width="1.9" stroke-linecap="round"/>
<line x1="117.7" y1="131.3" x2="117.8" y2="139.3" stroke="#4a86e0" stroke-width="1.9" stroke-linecap="round"/>
<line x1="125.3" y1="131.3" x2="122.4" y2="138.7" stroke="#4a86e0" stroke-width="1.9" stroke-linecap="round"/>
<line x1="130.7" y1="136.7" x2="125.2" y2="142.5" stroke="#4a86e0" stroke-width="1.9" stroke-linecap="round"/>
<line x1="128.0" y1="173.7" x2="136.6" y2="166.9" stroke="#4a86e0" stroke-width="1.9" stroke-linecap="round"/>
<line x1="130.6" y1="165.9" x2="140.1" y2="160.4" stroke="#4a86e0" stroke-width="1.9" stroke-linecap="round"/>
<line x1="133.1" y1="158.1" x2="143.6" y2="154.7" stroke="#4a86e0" stroke-width="1.9" stroke-linecap="round"/>
<line x1="135.6" y1="150.3" x2="146.6" y2="150.2" stroke="#4a86e0" stroke-width="1.9" stroke-linecap="round"/>
<line x1="137.0" y1="142.2" x2="147.3" y2="146.0" stroke="#4a86e0" stroke-width="1.9" stroke-linecap="round"/>
<line x1="138.4" y1="134.2" x2="147.0" y2="141.1" stroke="#4a86e0" stroke-width="1.9" stroke-linecap="round"/>
<line x1="140.0" y1="126.1" x2="146.6" y2="134.9" stroke="#4a86e0" stroke-width="1.9" stroke-linecap="round"/>
<line x1="143.7" y1="118.8" x2="148.3" y2="128.8" stroke="#4a86e0" stroke-width="1.9" stroke-linecap="round"/>
<line x1="147.6" y1="111.8" x2="150.5" y2="122.4" stroke="#4a86e0" stroke-width="1.9" stroke-linecap="round"/>
<line x1="155.7" y1="110.4" x2="156.3" y2="121.4" stroke="#4a86e0" stroke-width="1.9" stroke-linecap="round"/>
<line x1="161.6" y1="116.1" x2="160.4" y2="127.0" stroke="#4a86e0" stroke-width="1.9" stroke-linecap="round"/>
<line x1="166.2" y1="122.7" x2="163.0" y2="133.3" stroke="#4a86e0" stroke-width="1.9" stroke-linecap="round"/>
<line x1="170.4" y1="129.8" x2="164.7" y2="139.2" stroke="#4a86e0" stroke-width="1.9" stroke-linecap="round"/>
<line x1="175.2" y1="136.4" x2="166.6" y2="143.2" stroke="#4a86e0" stroke-width="1.9" stroke-linecap="round"/>
<line x1="142.1" y1="159.2" x2="149.6" y2="151.1" stroke="#4a86e0" stroke-width="1.9" stroke-linecap="round"/>
<line x1="146.8" y1="166.2" x2="151.8" y2="156.3" stroke="#4a86e0" stroke-width="1.9" stroke-linecap="round"/>
<line x1="152.8" y1="171.8" x2="155.2" y2="161.1" stroke="#4a86e0" stroke-width="1.9" stroke-linecap="round"/>
<line x1="159.8" y1="176.0" x2="159.9" y2="165.0" stroke="#4a86e0" stroke-width="1.9" stroke-linecap="round"/>
<line x1="168.2" y1="174.8" x2="165.6" y2="164.1" stroke="#4a86e0" stroke-width="1.9" stroke-linecap="round"/>
<line x1="173.8" y1="168.9" x2="169.1" y2="159.0" stroke="#4a86e0" stroke-width="1.9" stroke-linecap="round"/>
<line x1="178.0" y1="161.7" x2="171.0" y2="153.3" stroke="#4a86e0" stroke-width="1.9" stroke-linecap="round"/>
<line x1="181.1" y1="153.9" x2="172.0" y2="147.9" stroke="#4a86e0" stroke-width="1.9" stroke-linecap="round"/>
<line x1="183.9" y1="146.0" x2="173.3" y2="143.3" stroke="#4a86e0" stroke-width="1.9" stroke-linecap="round"/>
<line x1="186.6" y1="138.1" x2="175.6" y2="138.9" stroke="#4a86e0" stroke-width="1.9" stroke-linecap="round"/>
<line x1="189.4" y1="130.2" x2="179.0" y2="133.7" stroke="#4a86e0" stroke-width="1.9" stroke-linecap="round"/>
<line x1="192.5" y1="122.4" x2="182.9" y2="127.6" stroke="#4a86e0" stroke-width="1.9" stroke-linecap="round"/>
<line x1="194.2" y1="114.2" x2="185.4" y2="120.9" stroke="#4a86e0" stroke-width="1.9" stroke-linecap="round"/>
<line x1="194.9" y1="105.9" x2="187.1" y2="113.6" stroke="#4a86e0" stroke-width="1.9" stroke-linecap="round"/>
<line x1="75.3" y1="196.1" x2="81.7" y2="193.2" stroke="#4a86e0" stroke-width="1.9" stroke-linecap="round"/>
<line x1="82.0" y1="202.3" x2="87.0" y2="197.5" stroke="#4a86e0" stroke-width="1.9" stroke-linecap="round"/>
<line x1="90.2" y1="202.4" x2="93.6" y2="196.3" stroke="#4a86e0" stroke-width="1.9" stroke-linecap="round"/>
<line x1="99.1" y1="200.3" x2="99.5" y2="193.3" stroke="#4a86e0" stroke-width="1.9" stroke-linecap="round"/>
<line x1="107.6" y1="197.1" x2="103.9" y2="191.2" stroke="#4a86e0" stroke-width="1.9" stroke-linecap="round"/>
<line x1="116.0" y1="193.6" x2="109.8" y2="190.3" stroke="#4a86e0" stroke-width="1.9" stroke-linecap="round"/>
<line x1="123.4" y1="188.5" x2="116.5" y2="187.5" stroke="#4a86e0" stroke-width="1.9" stroke-linecap="round"/>
<line x1="128.2" y1="181.4" x2="121.2" y2="182.3" stroke="#4a86e0" stroke-width="1.9" stroke-linecap="round"/>
<line x1="128.7" y1="172.4" x2="122.3" y2="175.2" stroke="#4a86e0" stroke-width="1.9" stroke-linecap="round"/>
<line x1="128.0" y1="163.3" x2="122.4" y2="167.6" stroke="#4a86e0" stroke-width="1.9" stroke-linecap="round"/>
<line x1="62.0" y1="150.0" x2="80.0" y2="160.0" stroke="#4a86e0" stroke-width="1.9" stroke-linecap="round"/>
<line x1="66.0" y1="156.0" x2="84.0" y2="170.0" stroke="#4a86e0" stroke-width="1.9" stroke-linecap="round"/>
<line x1="72.0" y1="145.0" x2="90.0" y2="152.0" stroke="#4a86e0" stroke-width="1.9" stroke-linecap="round"/>
<line x1="95.0" y1="150.0" x2="104.0" y2="170.0" stroke="#4a86e0" stroke-width="1.9" stroke-linecap="round"/>
<line x1="100.0" y1="165.0" x2="118.0" y2="170.0" stroke="#4a86e0" stroke-width="1.9" stroke-linecap="round"/>
<line x1="85.0" y1="175.0" x2="100.0" y2="180.0" stroke="#4a86e0" stroke-width="1.9" stroke-linecap="round"/>
<line x1="104.0" y1="180.0" x2="112.0" y2="196.0" stroke="#4a86e0" stroke-width="1.9" stroke-linecap="round"/>
<line x1="110.0" y1="150.0" x2="126.0" y2="160.0" stroke="#4a86e0" stroke-width="1.9" stroke-linecap="round"/>
<line x1="118.0" y1="140.0" x2="128.0" y2="156.0" stroke="#4a86e0" stroke-width="1.9" stroke-linecap="round"/>
<line x1="124.0" y1="170.0" x2="135.0" y2="180.0" stroke="#4a86e0" stroke-width="1.9" stroke-linecap="round"/>
<line x1="78.0" y1="188.0" x2="95.0" y2="192.0" stroke="#4a86e0" stroke-width="1.9" stroke-linecap="round"/>
<line x1="90.0" y1="190.0" x2="104.0" y2="196.0" stroke="#4a86e0" stroke-width="1.9" stroke-linecap="round"/>
<line x1="56.0" y1="140.0" x2="68.0" y2="148.0" stroke="#4a86e0" stroke-width="1.9" stroke-linecap="round"/>
<line x1="58.0" y1="162.0" x2="70.0" y2="170.0" stroke="#4a86e0" stroke-width="1.9" stroke-linecap="round"/>
<ellipse cx="60" cy="147" rx="2.8" ry="2" fill="#5a92e6" stroke="#3a70c8" stroke-width="0.5"/>
<ellipse cx="62" cy="155" rx="2.8" ry="2" fill="#5a92e6" stroke="#3a70c8" stroke-width="0.5"/>
<ellipse cx="88" cy="152" rx="2.8" ry="2" fill="#5a92e6" stroke="#3a70c8" stroke-width="0.5"/>
<ellipse cx="95" cy="160" rx="2.8" ry="2" fill="#5a92e6" stroke="#3a70c8" stroke-width="0.5"/>
<ellipse cx="105" cy="172" rx="2.8" ry="2" fill="#5a92e6" stroke="#3a70c8" stroke-width="0.5"/>
<ellipse cx="118" cy="175" rx="2.8" ry="2" fill="#5a92e6" stroke="#3a70c8" stroke-width="0.5"/>
<ellipse cx="125" cy="160" rx="2.8" ry="2" fill="#5a92e6" stroke="#3a70c8" stroke-width="0.5"/>
<ellipse cx="110" cy="190" rx="2.8" ry="2" fill="#5a92e6" stroke="#3a70c8" stroke-width="0.5"/>
<ellipse cx="95" cy="200" rx="2.8" ry="2" fill="#5a92e6" stroke="#3a70c8" stroke-width="0.5"/>
<ellipse cx="84" cy="196" rx="2.8" ry="2" fill="#5a92e6" stroke="#3a70c8" stroke-width="0.5"/>
<ellipse cx="60" cy="158" rx="2.6" ry="1.9" fill="#5a92e6" stroke="#3a70c8" stroke-width="0.5"/>
<ellipse cx="58" cy="165" rx="2.6" ry="1.9" fill="#5a92e6" stroke="#3a70c8" stroke-width="0.5"/>
<ellipse cx="70" cy="152" rx="2.6" ry="1.9" fill="#5a92e6" stroke="#3a70c8" stroke-width="0.5"/>
<ellipse cx="85" cy="149" rx="2.6" ry="1.9" fill="#5a92e6" stroke="#3a70c8" stroke-width="0.5"/>
<ellipse cx="95" cy="143" rx="2.6" ry="1.9" fill="#5a92e6" stroke="#3a70c8" stroke-width="0.5"/>
<ellipse cx="103" cy="138" rx="2.6" ry="1.9" fill="#5a92e6" stroke="#3a70c8" stroke-width="0.5"/>
<ellipse cx="110" cy="158" rx="2.6" ry="1.9" fill="#5a92e6" stroke="#3a70c8" stroke-width="0.5"/>
<ellipse cx="120" cy="176" rx="2.6" ry="1.9" fill="#5a92e6" stroke="#3a70c8" stroke-width="0.5"/>
<ellipse cx="102" cy="195" rx="2.6" ry="1.9" fill="#5a92e6" stroke="#3a70c8" stroke-width="0.5"/>
<ellipse cx="90" cy="206" rx="2.6" ry="1.9" fill="#5a92e6" stroke="#3a70c8" stroke-width="0.5"/>
<ellipse cx="78" cy="258" rx="2.6" ry="1.9" fill="#5a92e6" stroke="#3a70c8" stroke-width="0.5"/>
<ellipse cx="76" cy="265" rx="2.6" ry="1.9" fill="#5a92e6" stroke="#3a70c8" stroke-width="0.5"/>
<ellipse cx="108" cy="208" rx="2.6" ry="1.9" fill="#5a92e6" stroke="#3a70c8" stroke-width="0.5"/>
<ellipse cx="112" cy="203" rx="2.6" ry="1.9" fill="#5a92e6" stroke="#3a70c8" stroke-width="0.5"/>
<path d="M48.8,157.3 C48.8,154.6 47.8,145.2 48.8,141.3 C49.8,137.4 51.9,135.6 54.6,134.0 C57.3,132.4 61.6,131.3 64.8,131.8 C68.0,132.3 71.2,134.8 73.6,136.9 C76.0,139.0 77.0,140.5 79.4,144.2 C81.8,147.8 85.0,154.4 88.2,158.8 C91.4,163.2 95.0,166.8 98.4,170.5 C101.8,174.2 105.2,177.8 108.6,180.7 C112.0,183.6 115.6,186.8 118.8,188.0 C122.0,189.2 126.1,188.0 127.6,188.0" fill="none" stroke="#3672d2" stroke-width="3.8" stroke-linecap="round" stroke-linejoin="round"/>
<path d="M48.8,150.0 C49.3,151.7 50.1,157.0 52.0,160.0 C53.9,163.0 57.3,165.7 60.0,168.0 C62.7,170.3 66.0,172.0 68.0,174.0 C70.0,176.0 71.6,178.2 72.0,180.0 C72.4,181.8 70.7,184.2 70.4,185.0" fill="none" stroke="#3672d2" stroke-width="3.8" stroke-linecap="round" stroke-linejoin="round"/>
<path d="M76.5,173.4 C78.5,171.7 84.1,166.1 88.2,163.2 C92.3,160.3 97.9,159.1 101.3,155.9 C104.7,152.7 106.9,147.4 108.6,144.2 C110.3,141.0 109.8,139.2 111.5,136.9 C113.2,134.6 116.2,131.2 118.8,130.3 C121.4,129.4 124.6,129.9 127.0,131.5 C129.4,133.1 130.9,136.0 133.0,140.0 C135.1,144.0 137.2,150.9 139.8,155.7 C142.4,160.5 145.4,165.4 148.6,168.8 C151.8,172.2 155.4,175.1 158.8,176.1 C162.2,177.1 166.1,176.4 169.0,174.7 C171.9,173.0 174.1,169.8 176.3,165.9 C178.5,162.0 180.2,156.7 182.2,151.3 C184.1,146.0 186.1,139.2 188.0,133.8 C189.9,128.5 192.6,124.6 193.8,119.2 C195.0,113.8 195.1,104.6 195.3,101.7" fill="none" stroke="#3672d2" stroke-width="3.8" stroke-linecap="round" stroke-linejoin="round"/>
<path d="M126.7,177.6 C128.2,173.2 133.2,159.8 135.4,151.3 C137.6,142.8 137.9,133.1 139.8,126.5 C141.8,119.9 144.4,114.6 147.1,111.9 C149.8,109.2 153.2,109.4 155.9,110.4 C158.6,111.4 160.5,114.0 163.2,117.7 C165.9,121.4 169.5,128.7 171.9,132.3 C174.3,136.0 176.8,138.4 177.8,139.6" fill="none" stroke="#3672d2" stroke-width="3.8" stroke-linecap="round" stroke-linejoin="round"/>
<path d="M72.0,193.0 C74.0,194.8 78.9,202.9 83.8,204.0 C88.7,205.1 95.5,201.6 101.3,199.7 C107.1,197.8 114.4,194.8 118.8,192.4 C123.2,190.0 125.9,187.7 127.6,185.0 C129.3,182.3 129.0,180.7 129.0,176.3 C129.0,171.9 127.8,161.7 127.6,158.8" fill="none" stroke="#3672d2" stroke-width="3.8" stroke-linecap="round" stroke-linejoin="round"/>
<path d="M120.0,190.8 C116.8,192.5 107.8,198.1 101.0,201.0 C94.2,203.9 85.0,205.5 79.2,208.4 C73.4,211.3 68.2,215.4 66.0,218.6 C63.8,221.8 64.5,224.6 66.0,227.3 C67.5,230.0 71.1,232.4 74.8,234.6 C78.5,236.8 84.3,238.1 88.0,240.5 C91.7,242.9 95.0,246.3 96.7,249.2 C98.4,252.1 98.0,256.5 98.2,258.0" fill="none" stroke="#3672d2" stroke-width="3.8" stroke-linecap="round" stroke-linejoin="round"/>
<path d="M70.4,185.0 C70.2,186.5 67.5,190.6 69.0,193.8 C70.5,197.0 75.1,201.3 79.2,204.0 C83.3,206.7 88.7,207.4 93.8,209.8 C98.9,212.2 105.5,215.7 109.9,218.6 C114.3,221.5 118.1,223.9 120.0,227.3 C121.9,230.7 122.2,235.6 121.5,239.0 C120.8,242.4 119.1,244.9 115.7,247.8 C112.3,250.7 106.3,253.3 101.0,256.5 C95.7,259.7 88.9,263.2 83.6,266.8 C78.3,270.4 71.4,276.5 69.0,278.4" fill="none" stroke="#3672d2" stroke-width="3.8" stroke-linecap="round" stroke-linejoin="round"/>
<path d="M69.0,278.4 C70.5,277.5 75.1,274.4 78.0,273.0 C80.9,271.6 85.1,270.2 86.5,269.7" fill="none" stroke="#3672d2" stroke-width="3.6" stroke-linecap="round" stroke-linejoin="round"/>
<path d="M67,281 L73,274 L76,277 Z" fill="#2e66c0"/></g>
<text x="68.50" y="57.00" font-size="12" text-anchor="start" fill="#78c878">Body</text>
<text x="188.00" y="63.50" font-size="12" text-anchor="start" fill="#78c878">Neck</text>
<text x="237.00" y="43.00" font-size="12" text-anchor="start" fill="#78c878">Head</text>
<text x="24.50" y="88.00" font-size="12" text-anchor="start" fill="#e8a050">Tail</text>
<text x="144.80" y="218.70" font-size="12" text-anchor="start" fill="#111">Structural model of CCA-</text>
<text x="144.80" y="232.90" font-size="12" text-anchor="start" fill="#111">adding enzyme bound to</text>
<text x="144.80" y="247.10" font-size="12" text-anchor="start" fill="#111">full-length menRNA</text>
<text x="319.50" y="11.80" font-size="11.5" text-anchor="start" fill="#111">No 2AP</text>
<text x="320.00" y="166.40" font-size="11.5" text-anchor="start" fill="#111">2AP RNA</text>
<g id="gels"><defs><filter id="bl" x="-50%" y="-50%" width="200%" height="200%"><feGaussianBlur stdDeviation="1.1"/></filter><filter id="bl2" x="-50%" y="-50%" width="200%" height="200%"><feGaussianBlur stdDeviation="2.2"/></filter></defs>
<rect x="349.4" y="75.4" width="159.20000000000005" height="63.79999999999998" fill="#e4e4e4" stroke="#858585" stroke-width="1"/>
<ellipse cx="363.6" cy="102" rx="6.0" ry="2.6" fill="#050505" opacity="1" transform="rotate(4 363.6 102)" filter="url(#bl)"/>
<ellipse cx="380.4" cy="96" rx="6.0" ry="2.2" fill="#6a6a6a" opacity="1" transform="rotate(4 380.4 96)" filter="url(#bl)"/>
<ellipse cx="380.4" cy="106" rx="6.0" ry="2.5" fill="#333" opacity="1" transform="rotate(4 380.4 106)" filter="url(#bl)"/>
<ellipse cx="397.7" cy="99.5" rx="6.0" ry="2.3" fill="#4a4a4a" opacity="1" transform="rotate(3 397.7 99.5)" filter="url(#bl)"/>
<ellipse cx="397.7" cy="109.7" rx="6.0" ry="2.3" fill="#444" opacity="1" transform="rotate(3 397.7 109.7)" filter="url(#bl)"/>
<ellipse cx="416" cy="102.5" rx="6.25" ry="2.2" fill="#2a2a2a" opacity="1" transform="rotate(0 416 102.5)" filter="url(#bl)"/>
<ellipse cx="416" cy="112.8" rx="5.5" ry="1.9" fill="#a4a4a4" opacity="1" transform="rotate(0 416 112.8)" filter="url(#bl)"/>
<ellipse cx="434.6" cy="103.9" rx="6.25" ry="2.2" fill="#262626" opacity="1" transform="rotate(0 434.6 103.9)" filter="url(#bl)"/>
<ellipse cx="434.6" cy="114" rx="5.5" ry="1.7" fill="#bcbcbc" opacity="1" transform="rotate(0 434.6 114)" filter="url(#bl)"/>
<ellipse cx="454.3" cy="102.4" rx="6.0" ry="2.1" fill="#3a3a3a" opacity="1" transform="rotate(-5 454.3 102.4)" filter="url(#bl)"/>
<ellipse cx="454.3" cy="113.8" rx="5.0" ry="1.5" fill="#c0c0c0" opacity="1" transform="rotate(0 454.3 113.8)" filter="url(#bl)"/>
<ellipse cx="473.3" cy="100" rx="6.0" ry="2.1" fill="#444" opacity="1" transform="rotate(-9 473.3 100)" filter="url(#bl)"/>
<ellipse cx="473.3" cy="112" rx="5.0" ry="1.5" fill="#c4c4c4" opacity="1" transform="rotate(0 473.3 112)" filter="url(#bl)"/>
<ellipse cx="491.8" cy="96" rx="7.25" ry="3.5" fill="#000" opacity="1" transform="rotate(-10 491.8 96)" filter="url(#bl)"/>
<text x="365.1" y="73.5" font-size="9.3" fill="#222" transform="rotate(-47 365.1 73.5)">+CCA</text>
<text x="384.2" y="72.3" font-size="10" fill="#222" transform="rotate(-58 384.2 72.3)">30′</text>
<text x="401.5" y="72.3" font-size="10" fill="#222" transform="rotate(-58 401.5 72.3)">60′</text>
<text x="419.8" y="72.3" font-size="10" fill="#222" transform="rotate(-58 419.8 72.3)">30′</text>
<text x="438.4" y="72.3" font-size="10" fill="#222" transform="rotate(-58 438.4 72.3)">60′</text>
<text x="458.1" y="72.3" font-size="10" fill="#222" transform="rotate(-58 458.1 72.3)">30′</text>
<text x="477.1" y="72.3" font-size="10" fill="#222" transform="rotate(-58 477.1 72.3)">60′</text>
<text x="493.3" y="73.5" font-size="9.3" fill="#222" transform="rotate(-47 493.3 73.5)">+CCACCA</text>
<line x1="385.7" y1="56.4" x2="404.9" y2="56.4" stroke="#444" stroke-width="1"/>
<text x="392.2" y="54.5" font-size="9.3" fill="#222" font-style="italic" transform="rotate(-47 392.2 54.5)">E. coli</text>
<line x1="420.5" y1="56.4" x2="439.7" y2="56.4" stroke="#444" stroke-width="1"/>
<text x="427.0" y="54.5" font-size="9.3" fill="#222" font-style="italic" transform="rotate(-47 427.0 54.5)">A. fulgidus</text>
<line x1="456.6" y1="56.4" x2="476" y2="56.4" stroke="#444" stroke-width="1"/>
<text x="463.1" y="54.5" font-size="9.3" fill="#222" font-style="italic" transform="rotate(-47 463.1 54.5)">H. sapiens FL</text>
<text x="341.0" y="95.8" font-size="9.0" fill="#222" text-anchor="end">CCACCA</text>
<text x="341.0" y="102.8" font-size="9.0" fill="#222" text-anchor="end">CCA</text>
<line x1="343.5" y1="93.4" x2="349.4" y2="93.4" stroke="#444" stroke-width="1"/>
<line x1="343.5" y1="99.8" x2="349.4" y2="99.8" stroke="#444" stroke-width="1"/>
<line x1="508.6" y1="95.5" x2="514" y2="95.5" stroke="#444" stroke-width="1"/>
<line x1="508.6" y1="108.7" x2="514" y2="108.7" stroke="#444" stroke-width="1"/>
<text x="515.0" y="98.8" font-size="9.0" fill="#222" text-anchor="start">25nt</text>
<text x="515.0" y="112.0" font-size="9.0" fill="#222" text-anchor="start">22nt</text>
<rect x="582.2" y="75" width="79.39999999999998" height="63.900000000000006" fill="#cfcfcf" stroke="#858585" stroke-width="1"/>
<ellipse cx="595.5" cy="111.5" rx="5.25" ry="2.4" fill="#000" opacity="1" transform="rotate(0 595.5 111.5)" filter="url(#bl)"/>
<ellipse cx="612" cy="105.3" rx="5.0" ry="1.8" fill="#111" opacity="1" transform="rotate(0 612 105.3)" filter="url(#bl)"/>
<ellipse cx="612" cy="109.6" rx="5.0" ry="1.8" fill="#111" opacity="1" transform="rotate(0 612 109.6)" filter="url(#bl)"/>
<ellipse cx="612" cy="114" rx="4.5" ry="1.5" fill="#999" opacity="1" transform="rotate(0 612 114)" filter="url(#bl)"/>
<ellipse cx="631.8" cy="105.3" rx="5.5" ry="1.9" fill="#111" opacity="1" transform="rotate(0 631.8 105.3)" filter="url(#bl)"/>
<ellipse cx="631.8" cy="110" rx="5.0" ry="1.5" fill="#888" opacity="1" transform="rotate(0 631.8 110)" filter="url(#bl)"/>
<ellipse cx="648" cy="104.5" rx="6.0" ry="2.5" fill="#000" opacity="1" transform="rotate(-5 648 104.5)" filter="url(#bl)"/>
<circle cx="609.5" cy="121.5" r="0.8" fill="#555"/><circle cx="625.5" cy="128" r="0.7" fill="#555"/>
<text x="597.0" y="73.5" font-size="9.3" fill="#222" transform="rotate(-47 597.0 73.5)">+CCA</text>
<text x="615.8" y="72.3" font-size="10" fill="#222" transform="rotate(-58 615.8 72.3)">30′</text>
<text x="635.6" y="72.3" font-size="10" fill="#222" transform="rotate(-58 635.6 72.3)">60′</text>
<text x="649.5" y="73.5" font-size="9.3" fill="#222" transform="rotate(-47 649.5 73.5)">+CCACCA</text>
<line x1="615.3" y1="58.2" x2="634.9" y2="58.2" stroke="#444" stroke-width="1"/>
<text x="626.5" y="56.5" font-size="9.3" fill="#222" font-style="italic" transform="rotate(-47 626.5 56.5)">H. sapiens ΔTail</text>
<text x="574.0" y="107.8" font-size="9.0" fill="#222" text-anchor="end">CCACCA</text>
<text x="574.0" y="114.8" font-size="9.0" fill="#222" text-anchor="end">CCA</text>
<line x1="575.5" y1="105" x2="582.2" y2="105" stroke="#444" stroke-width="1"/>
<line x1="575.5" y1="111.2" x2="582.2" y2="111.2" stroke="#444" stroke-width="1"/>
<line x1="661.6" y1="105" x2="667" y2="105" stroke="#444" stroke-width="1"/>
<line x1="661.6" y1="111" x2="667" y2="111" stroke="#444" stroke-width="1"/>
<text x="667.5" y="107.8" font-size="9.0" fill="#222" text-anchor="start">25nt</text>
<text x="667.5" y="114.8" font-size="9.0" fill="#222" text-anchor="start">22nt</text>
<rect x="383.2" y="216.4" width="79.40000000000003" height="67.20000000000002" fill="#d5d5d5" stroke="#858585" stroke-width="1"/>
<ellipse cx="401.2" cy="254.1" rx="5.25" ry="2.1" fill="#111" opacity="1" transform="rotate(5 401.2 254.1)" filter="url(#bl)"/>
<ellipse cx="414.7" cy="248.2" rx="5.5" ry="2.1" fill="#111" opacity="1" transform="rotate(0 414.7 248.2)" filter="url(#bl)"/>
<ellipse cx="414.7" cy="252.5" rx="4.5" ry="1.3" fill="#999" opacity="1" transform="rotate(0 414.7 252.5)" filter="url(#bl)"/>
<ellipse cx="428.9" cy="249" rx="5.25" ry="2.0" fill="#111" opacity="1" transform="rotate(0 428.9 249)" filter="url(#bl)"/>
<ellipse cx="443.5" cy="249.1" rx="6.0" ry="2.4" fill="#000" opacity="1" transform="rotate(0 443.5 249.1)" filter="url(#bl)"/>
<text x="401.2" y="215.5" font-size="9.3" fill="#222" transform="rotate(-47 401.2 215.5)">+CCA</text>
<text x="418.1" y="215.6" font-size="10" fill="#222" transform="rotate(-58 418.1 215.6)">30′</text>
<text x="431.2" y="215.6" font-size="10" fill="#222" transform="rotate(-58 431.2 215.6)">60′</text>
<text x="442.8" y="215.5" font-size="9.3" fill="#222" transform="rotate(-47 442.8 215.5)">+CCACCA</text>
<line x1="417.2" y1="199.3" x2="437.7" y2="199.3" stroke="#444" stroke-width="1"/>
<text x="426.8" y="197.5" font-size="9.3" fill="#222" font-style="italic" transform="rotate(-47 426.8 197.5)">H. sapiens FL</text>
<text x="374.2" y="249.6" font-size="9.0" fill="#222" text-anchor="end">CCACCA</text>
<text x="374.2" y="256.9" font-size="9.0" fill="#222" text-anchor="end">CCA</text>
<line x1="377.6" y1="246.8" x2="383.2" y2="246.8" stroke="#444" stroke-width="1"/>
<line x1="377.6" y1="253.8" x2="383.2" y2="253.8" stroke="#444" stroke-width="1"/>
<line x1="462.6" y1="249.1" x2="467.6" y2="249.1" stroke="#444" stroke-width="1"/>
<line x1="462.6" y1="253.8" x2="467.6" y2="253.8" stroke="#444" stroke-width="1"/>
<text x="468.5" y="252.4" font-size="9.0" fill="#222" text-anchor="start">25nt</text>
<text x="468.5" y="259.0" font-size="9.0" fill="#222" text-anchor="start">22nt</text>
<rect x="540" y="216.4" width="79.70000000000005" height="67.29999999999998" fill="#d4d4d4" stroke="#858585" stroke-width="1"/>
<ellipse cx="565.9" cy="254.3" rx="5.5" ry="2.2" fill="#000" opacity="1" transform="rotate(0 565.9 254.3)" filter="url(#bl)"/>
<ellipse cx="578.2" cy="248.7" rx="5.0" ry="1.8" fill="#111" opacity="1" transform="rotate(0 578.2 248.7)" filter="url(#bl)"/>
<ellipse cx="578.2" cy="252.2" rx="5.0" ry="1.8" fill="#111" opacity="1" transform="rotate(0 578.2 252.2)" filter="url(#bl)"/>
<ellipse cx="578.2" cy="256.5" rx="4.5" ry="1.5" fill="#777" opacity="1" transform="rotate(0 578.2 256.5)" filter="url(#bl)"/>
<ellipse cx="589.6" cy="249.6" rx="5.5" ry="1.8" fill="#111" opacity="1" transform="rotate(0 589.6 249.6)" filter="url(#bl)"/>
<ellipse cx="589.6" cy="253.2" rx="5.0" ry="1.6" fill="#222" opacity="1" transform="rotate(0 589.6 253.2)" filter="url(#bl)"/>
<ellipse cx="589.6" cy="257" rx="4.5" ry="1.5" fill="#888" opacity="1" transform="rotate(0 589.6 257)" filter="url(#bl)"/>
<ellipse cx="602.7" cy="251.2" rx="5.5" ry="2.1" fill="#000" opacity="1" transform="rotate(0 602.7 251.2)" filter="url(#bl)"/>
<g filter="url(#bl2)" opacity="0.2"><rect x="574" y="258" width="8" height="24" fill="#aaa"/><rect x="586" y="258" width="8" height="24" fill="#aaa"/></g>
<text x="557.3" y="215.5" font-size="9.3" fill="#222" transform="rotate(-47 557.3 215.5)">+CCA</text>
<text x="576.2" y="215.6" font-size="10" fill="#222" transform="rotate(-58 576.2 215.6)">30′</text>
<text x="588.5" y="215.6" font-size="10" fill="#222" transform="rotate(-58 588.5 215.6)">60′</text>
<text x="601.9" y="215.5" font-size="9.3" fill="#222" transform="rotate(-47 601.9 215.5)">+CCACCA</text>
<line x1="575" y1="199.6" x2="595.7" y2="199.6" stroke="#444" stroke-width="1"/>
<text x="584.4" y="197.5" font-size="9.3" fill="#222" font-style="italic" transform="rotate(-47 584.4 197.5)">H. sapiens ΔTail</text>
<text x="531.0" y="239.6" font-size="9.0" fill="#222" text-anchor="end">CCACCA</text>
<text x="531.0" y="246.0" font-size="9.0" fill="#222" text-anchor="end">CCA</text>
<line x1="533.5" y1="236.4" x2="540" y2="236.4" stroke="#444" stroke-width="1"/>
<line x1="533.5" y1="242.9" x2="540" y2="242.9" stroke="#444" stroke-width="1"/>
<line x1="619.7" y1="251.2" x2="624.6" y2="251.2" stroke="#444" stroke-width="1"/>
<line x1="619.7" y1="255.2" x2="624.6" y2="255.2" stroke="#444" stroke-width="1"/>
<text x="625.5" y="254.5" font-size="9.0" fill="#222" text-anchor="start">25nt</text>
<text x="625.5" y="261.5" font-size="9.0" fill="#222" text-anchor="start">22nt</text></g>
<line x1="168.00" y1="308.70" x2="184.00" y2="308.70" stroke="#b2b2b2" stroke-width="1.0"/>
<text x="192.90" y="312.50" font-size="10.4" text-anchor="start" fill="#222">IRF</text>
<line x1="168.00" y1="328.25" x2="184.00" y2="328.25" stroke="#d9b26e" stroke-width="1.0"/>
<text x="192.90" y="332.05" font-size="10.4" text-anchor="start" fill="#222">No Enzyme</text>
<line x1="168.00" y1="347.80" x2="184.00" y2="347.80" stroke="#e2d9a6" stroke-width="1.0"/>
<text x="192.90" y="351.60" font-size="10.4" text-anchor="start" fill="#222">+ WT</text>
<line x1="168.00" y1="367.35" x2="184.00" y2="367.35" stroke="#f2b2e2" stroke-width="1.0"/>
<text x="192.90" y="371.15" font-size="10.4" text-anchor="start" fill="#222">+ WT, CTP 5′</text>
<line x1="168.00" y1="386.90" x2="184.00" y2="386.90" stroke="#b2ece6" stroke-width="1.0"/>
<text x="192.90" y="390.70" font-size="10.4" text-anchor="start" fill="#222">+ WT, CTP 20′</text>
<line x1="168.00" y1="406.45" x2="184.00" y2="406.45" stroke="#b8def0" stroke-width="1.0"/>
<text x="192.90" y="410.25" font-size="10.4" text-anchor="start" fill="#222">+ WT, CTP 40′</text>
<line x1="168.00" y1="426.00" x2="184.00" y2="426.00" stroke="#8ab2e8" stroke-width="1.0"/>
<text x="192.90" y="429.80" font-size="10.4" text-anchor="start" fill="#222">+ WT, CTP 60′</text>
<line x1="168.00" y1="445.55" x2="184.00" y2="445.55" stroke="#5c5cd2" stroke-width="1.0"/>
<text x="192.90" y="449.35" font-size="10.4" text-anchor="start" fill="#222">+ WT, CTP, ATP 75′</text>
<line x1="168.00" y1="465.10" x2="184.00" y2="465.10" stroke="#a474e2" stroke-width="1.0"/>
<text x="192.90" y="468.90" font-size="10.4" text-anchor="start" fill="#222">+ WT, CTP, ATP 90′</text>
<polygon points="92.6,359.6 93.3,359.4 94.0,360.6 94.8,362.6 95.5,364.9 96.2,367.5 96.9,370.1 97.6,372.8 98.4,375.3 99.1,377.9 99.8,380.3 100.5,382.7 101.2,385.1 102.0,387.4 102.7,389.6 103.4,391.8 104.1,393.9 104.8,396.0 105.6,398.0 106.3,400.0 107.0,401.9 107.7,403.8 108.4,405.6 109.2,407.4 109.9,409.2 110.6,410.9 111.3,412.6 112.0,414.2 112.8,415.8 113.5,417.4 114.2,418.9 114.9,420.4 115.6,421.9 116.4,423.3 117.1,424.7 117.8,426.1 118.5,427.4 119.2,428.7 120.0,430.0 120.7,431.3 121.4,432.5 122.1,433.7 122.8,434.9 123.6,436.0 124.3,437.1 125.0,438.2 125.7,439.3 126.4,440.4 127.2,441.4 127.9,442.4 128.6,443.4 129.3,444.4 130.0,445.3 130.8,446.3 131.5,447.2 132.2,448.1 132.9,448.9 133.6,449.8 134.4,450.6 135.1,451.4 135.8,452.3 136.5,453.0 137.2,453.8 138.0,454.6 138.7,455.3 139.4,456.1 140.1,456.8 140.8,457.5 141.6,458.2 142.3,458.8 143.0,459.5 143.7,460.2 144.4,460.8 145.2,461.4 145.9,462.0 146.6,462.7 147.3,463.2 148.0,463.8 148.8,464.4 149.5,465.0 150.2,465.5 150.9,466.1 151.6,466.6 152.4,467.1 153.1,467.6 153.8,468.1 154.5,468.6 155.2,469.1 156.0,469.6 156.7,470.1 157.4,470.5 158.1,471.0 158.8,471.4 159.6,471.9 160.3,472.3 161.0,472.7 161.7,473.1 162.4,473.6 163.2,474.0 163.9,474.4 164.6,474.7 165.3,475.1 166.0,475.5 166.8,475.9 167.5,476.3 168.2,476.6 168.9,477.0 169.6,477.3 170.4,477.7 171.1,478.0 171.8,478.3 172.5,478.7 173.2,479.0 174.0,479.3 174.7,479.6 175.4,479.9 176.1,480.2 176.8,480.5 177.6,480.8 178.3,481.1 179.0,481.4 179.7,481.7 180.4,481.9 181.2,482.2 181.9,482.5 182.6,482.8 183.3,483.0 184.0,483.3 184.8,483.5 185.5,483.8 186.2,484.0 186.9,484.3 187.6,484.5 188.4,484.7 189.1,485.0 189.8,485.2 190.5,485.4 191.2,485.6 192.0,485.9 192.7,486.1 193.4,486.3 194.1,486.5 194.8,486.7 195.6,486.9 196.3,487.1 197.0,487.3 197.7,487.5 198.4,487.7 199.2,487.9 199.9,488.1 200.6,488.3 201.3,488.5 202.0,488.6 202.8,488.8 203.5,489.0 204.2,489.2 204.9,489.3 205.6,489.5 206.4,489.7 207.1,489.8 207.8,490.0 208.5,490.2 209.2,490.3 210.0,490.5 210.7,490.6 211.4,490.8 212.1,490.9 212.8,491.1 213.6,491.2 214.3,491.4 215.0,491.5 215.7,491.6 216.4,491.8 217.2,491.9 217.9,492.1 218.6,492.2 219.3,492.3 220.0,492.5 220.8,492.6 221.5,492.7 222.2,492.8 222.9,493.0 223.6,493.1 224.4,493.2 225.1,493.3 225.8,493.4 226.5,493.6 227.2,493.7 228.0,493.8 228.7,493.9 229.4,494.0 230.1,494.1 230.8,494.2 231.6,494.3 232.3,494.4 233.0,494.5 233.7,494.6 234.4,494.7 235.2,494.8 235.9,494.9 236.6,495.0 237.3,495.1 238.0,495.2 238.8,495.3 239.5,495.4 240.2,495.5 240.9,495.6 241.6,495.7 242.4,495.8 243.1,495.9 243.8,495.9 244.5,496.0 245.2,496.1 246.0,496.2 246.7,496.3 247.4,496.4 248.1,496.4 248.8,496.5 249.6,496.6 250.3,496.7 251.0,496.8 251.7,496.8 252.4,496.9 253.2,497.0 253.9,497.1 254.6,497.1 255.3,497.2 256.0,497.3 256.8,497.3 257.5,497.4 258.2,497.5 258.9,497.5 259.6,497.6 260.4,497.7 261.1,497.7 261.8,497.8 262.5,497.9 263.2,497.9 264.0,498.0 264.7,498.0 265.4,498.1 266.1,498.2 266.8,498.2 267.6,498.3 268.3,498.3 269.0,498.4 269.7,498.5 270.4,498.5 271.2,498.6 271.9,498.6 272.6,498.7 273.3,498.7 274.0,498.8 274.8,498.8 275.5,498.9 276.2,498.9 276.9,499.0 277.6,499.0 278.4,499.1 279.1,499.1 279.8,499.2 280.5,499.2 281.2,499.3 282.0,499.3 282.7,499.4 283.4,499.4 284.1,499.5 284.8,499.5 285.6,499.5 286.3,499.6 287.0,499.6 287.0,500.1 286.3,500.1 285.6,500.1 284.8,500.0 284.1,500.0 283.4,500.0 282.7,500.0 282.0,499.9 281.2,499.9 280.5,499.9 279.8,499.9 279.1,499.8 278.4,499.8 277.6,499.8 276.9,499.8 276.2,499.7 275.5,499.7 274.8,499.7 274.0,499.7 273.3,499.6 272.6,499.6 271.9,499.6 271.2,499.6 270.4,499.5 269.7,499.5 269.0,499.5 268.3,499.4 267.6,499.4 266.8,499.4 266.1,499.4 265.4,499.3 264.7,499.3 264.0,499.3 263.2,499.2 262.5,499.2 261.8,499.2 261.1,499.1 260.4,499.1 259.6,499.1 258.9,499.0 258.2,499.0 257.5,499.0 256.8,498.9 256.0,498.9 255.3,498.9 254.6,498.8 253.9,498.8 253.2,498.8 252.4,498.7 251.7,498.7 251.0,498.7 250.3,498.6 249.6,498.6 248.8,498.6 248.1,498.5 247.4,498.5 246.7,498.5 246.0,498.4 245.2,498.4 244.5,498.3 243.8,498.3 243.1,498.3 242.4,498.2 241.6,498.2 240.9,498.1 240.2,498.1 239.5,498.1 238.8,498.0 238.0,498.0 237.3,497.9 236.6,497.9 235.9,497.8 235.2,497.8 234.4,497.8 233.7,497.7 233.0,497.7 232.3,497.6 231.6,497.6 230.8,497.5 230.1,497.5 229.4,497.4 228.7,497.4 228.0,497.3 227.2,497.3 226.5,497.2 225.8,497.2 225.1,497.1 224.4,497.1 223.6,497.0 222.9,497.0 222.2,496.9 221.5,496.9 220.8,496.8 220.0,496.7 219.3,496.7 218.6,496.6 217.9,496.6 217.2,496.5 216.4,496.4 215.7,496.4 215.0,496.3 214.3,496.3 213.6,496.2 212.8,496.1 212.1,496.1 211.4,496.0 210.7,495.9 210.0,495.9 209.2,495.8 208.5,495.7 207.8,495.7 207.1,495.6 206.4,495.5 205.6,495.4 204.9,495.4 204.2,495.3 203.5,495.2 202.8,495.1 202.0,495.0 201.3,495.0 200.6,494.9 199.9,494.8 199.2,494.7 198.4,494.6 197.7,494.5 197.0,494.4 196.3,494.3 195.6,494.2 194.8,494.1 194.1,494.0 193.4,493.9 192.7,493.8 192.0,493.7 191.2,493.6 190.5,493.5 189.8,493.4 189.1,493.3 188.4,493.2 187.6,493.1 186.9,493.0 186.2,492.8 185.5,492.7 184.8,492.6 184.0,492.5 183.3,492.3 182.6,492.2 181.9,492.1 181.2,491.9 180.4,491.8 179.7,491.6 179.0,491.5 178.3,491.3 177.6,491.2 176.8,491.0 176.1,490.9 175.4,490.7 174.7,490.5 174.0,490.4 173.2,490.2 172.5,490.0 171.8,489.8 171.1,489.6 170.4,489.4 169.6,489.3 168.9,489.0 168.2,488.8 167.5,488.6 166.8,488.4 166.0,488.2 165.3,488.0 164.6,487.7 163.9,487.5 163.2,487.2 162.4,487.0 161.7,486.7 161.0,486.5 160.3,486.2 159.6,485.9 158.8,485.6 158.1,485.4 157.4,485.1 156.7,484.7 156.0,484.4 155.2,484.1 154.5,483.8 153.8,483.4 153.1,483.1 152.4,482.7 151.6,482.4 150.9,482.0 150.2,481.6 149.5,481.2 148.8,480.8 148.0,480.3 147.3,479.9 146.6,479.5 145.9,479.0 145.2,478.5 144.4,478.0 143.7,477.5 143.0,477.0 142.3,476.5 141.6,476.0 140.8,475.4 140.1,474.8 139.4,474.2 138.7,473.6 138.0,473.0 137.2,472.4 136.5,471.7 135.8,471.0 135.1,470.3 134.4,469.6 133.6,468.8 132.9,468.1 132.2,467.3 131.5,466.5 130.8,465.6 130.0,464.8 129.3,463.9 128.6,463.0 127.9,462.0 127.2,461.0 126.4,460.0 125.7,459.0 125.0,457.9 124.3,456.8 123.6,455.7 122.8,454.5 122.1,453.3 121.4,452.1 120.7,450.8 120.0,449.5 119.2,448.2 118.5,446.8 117.8,445.3 117.1,443.8 116.4,442.3 115.6,440.7 114.9,439.1 114.2,437.4 113.5,435.7 112.8,433.9 112.0,432.0 111.3,430.1 110.6,428.2 109.9,426.1 109.2,424.0 108.4,421.9 107.7,419.7 107.0,417.4 106.3,415.0 105.6,412.6 104.8,410.0 104.1,407.4 103.4,404.7 102.7,402.0 102.0,399.1 101.2,396.2 100.5,393.1 99.8,390.0 99.1,386.7 98.4,383.4 97.6,379.9 96.9,376.4 96.2,372.8 95.5,369.2 94.8,365.7 94.0,362.7 93.3,360.3 92.6,359.3" fill="#9fd0f2"/>
<polyline points="79.6,503.2 80.4,503.0 81.1,502.7 81.8,501.9 82.5,500.5 83.2,497.9 84.0,493.6 84.7,487.0 85.4,477.7 86.1,465.4 86.8,450.5 87.6,433.8 88.3,416.5 89.0,400.1 89.7,385.8 90.4,374.5 91.2,366.5 91.9,361.7 92.6,359.6 93.3,359.4 94.0,360.6 94.8,362.6 95.5,364.9 96.2,367.5 96.9,370.1 97.6,372.8 98.4,375.3 99.1,377.9 99.8,380.3 100.5,382.7 101.2,385.1 102.0,387.4 102.7,389.6 103.4,391.8 104.1,393.9 104.8,396.0 105.6,398.0 106.3,400.0 107.0,401.9 107.7,403.8 108.4,405.6 109.2,407.4 109.9,409.2 110.6,410.9 111.3,412.6 112.0,414.2 112.8,415.8 113.5,417.4 114.2,418.9 114.9,420.4 115.6,421.9 116.4,423.3 117.1,424.7 117.8,426.1 118.5,427.4 119.2,428.7 120.0,430.0 120.7,431.3 121.4,432.5 122.1,433.7 122.8,434.9 123.6,436.0 124.3,437.1 125.0,438.2 125.7,439.3 126.4,440.4 127.2,441.4 127.9,442.4 128.6,443.4 129.3,444.4 130.0,445.3 130.8,446.3 131.5,447.2 132.2,448.1 132.9,448.9 133.6,449.8 134.4,450.6 135.1,451.4 135.8,452.3 136.5,453.0 137.2,453.8 138.0,454.6 138.7,455.3 139.4,456.1 140.1,456.8 140.8,457.5 141.6,458.2 142.3,458.8 143.0,459.5 143.7,460.2 144.4,460.8 145.2,461.4 145.9,462.0 146.6,462.7 147.3,463.2 148.0,463.8 148.8,464.4 149.5,465.0 150.2,465.5 150.9,466.1 151.6,466.6 152.4,467.1 153.1,467.6 153.8,468.1 154.5,468.6 155.2,469.1 156.0,469.6 156.7,470.1 157.4,470.5 158.1,471.0 158.8,471.4 159.6,471.9 160.3,472.3 161.0,472.7 161.7,473.1 162.4,473.6 163.2,474.0 163.9,474.4 164.6,474.7 165.3,475.1 166.0,475.5 166.8,475.9 167.5,476.3 168.2,476.6 168.9,477.0 169.6,477.3 170.4,477.7 171.1,478.0 171.8,478.3 172.5,478.7 173.2,479.0 174.0,479.3 174.7,479.6 175.4,479.9 176.1,480.2 176.8,480.5 177.6,480.8 178.3,481.1 179.0,481.4 179.7,481.7 180.4,481.9 181.2,482.2 181.9,482.5 182.6,482.8 183.3,483.0 184.0,483.3 184.8,483.5 185.5,483.8 186.2,484.0 186.9,484.3 187.6,484.5 188.4,484.7 189.1,485.0 189.8,485.2 190.5,485.4 191.2,485.6 192.0,485.9 192.7,486.1 193.4,486.3 194.1,486.5 194.8,486.7 195.6,486.9 196.3,487.1 197.0,487.3 197.7,487.5 198.4,487.7 199.2,487.9 199.9,488.1 200.6,488.3 201.3,488.5 202.0,488.6 202.8,488.8 203.5,489.0 204.2,489.2 204.9,489.3 205.6,489.5 206.4,489.7 207.1,489.8 207.8,490.0 208.5,490.2 209.2,490.3 210.0,490.5 210.7,490.6 211.4,490.8 212.1,490.9 212.8,491.1 213.6,491.2 214.3,491.4 215.0,491.5 215.7,491.6 216.4,491.8 217.2,491.9 217.9,492.1 218.6,492.2 219.3,492.3 220.0,492.5 220.8,492.6 221.5,492.7 222.2,492.8 222.9,493.0 223.6,493.1 224.4,493.2 225.1,493.3 225.8,493.4 226.5,493.6 227.2,493.7 228.0,493.8 228.7,493.9 229.4,494.0 230.1,494.1 230.8,494.2 231.6,494.3 232.3,494.4 233.0,494.5 233.7,494.6 234.4,494.7 235.2,494.8 235.9,494.9 236.6,495.0 237.3,495.1 238.0,495.2 238.8,495.3 239.5,495.4 240.2,495.5 240.9,495.6 241.6,495.7 242.4,495.8 243.1,495.9 243.8,495.9 244.5,496.0 245.2,496.1 246.0,496.2 246.7,496.3 247.4,496.4 248.1,496.4 248.8,496.5 249.6,496.6 250.3,496.7 251.0,496.8 251.7,496.8 252.4,496.9 253.2,497.0 253.9,497.1 254.6,497.1 255.3,497.2 256.0,497.3 256.8,497.3 257.5,497.4 258.2,497.5 258.9,497.5 259.6,497.6 260.4,497.7 261.1,497.7 261.8,497.8 262.5,497.9 263.2,497.9 264.0,498.0 264.7,498.0 265.4,498.1 266.1,498.2 266.8,498.2 267.6,498.3 268.3,498.3 269.0,498.4 269.7,498.5 270.4,498.5 271.2,498.6 271.9,498.6 272.6,498.7 273.3,498.7 274.0,498.8 274.8,498.8 275.5,498.9 276.2,498.9 276.9,499.0 277.6,499.0 278.4,499.1 279.1,499.1 279.8,499.2 280.5,499.2 281.2,499.3 282.0,499.3 282.7,499.4 283.4,499.4 284.1,499.5 284.8,499.5 285.6,499.5 286.3,499.6 287.0,499.6" fill="none" stroke="#a468d8" stroke-width="3.2" stroke-linejoin="round"/>
<polyline points="79.6,503.2 80.4,503.0 81.1,502.7 81.8,501.9 82.5,500.5 83.2,497.9 84.0,493.6 84.7,487.0 85.4,477.7 86.1,465.4 86.8,450.5 87.6,433.7 88.3,416.4 89.0,400.0 89.7,385.7 90.4,374.4 91.2,366.5 91.9,361.7 92.6,359.6 93.3,359.4 94.0,360.6 94.8,362.6 95.5,365.0 96.2,367.6 96.9,370.2 97.6,372.8 98.4,375.4 99.1,377.9 99.8,380.4 100.5,382.8 101.2,385.2 102.0,387.5 102.7,389.7 103.4,391.9 104.1,394.0 104.8,396.1 105.6,398.1 106.3,400.1 107.0,402.1 107.7,404.0 108.4,405.8 109.2,407.6 109.9,409.4 110.6,411.1 111.3,412.8 112.0,414.4 112.8,416.0 113.5,417.6 114.2,419.1 114.9,420.6 115.6,422.1 116.4,423.5 117.1,424.9 117.8,426.3 118.5,427.6 119.2,428.9 120.0,430.2 120.7,431.5 121.4,432.7 122.1,433.9 122.8,435.1 123.6,436.2 124.3,437.3 125.0,438.4 125.7,439.5 126.4,440.6 127.2,441.6 127.9,442.6 128.6,443.6 129.3,444.6 130.0,445.5 130.8,446.4 131.5,447.4 132.2,448.2 132.9,449.1 133.6,450.0 134.4,450.8 135.1,451.6 135.8,452.4 136.5,453.2 137.2,454.0 138.0,454.8 138.7,455.5 139.4,456.2 140.1,457.0 140.8,457.7 141.6,458.3 142.3,459.0 143.0,459.7 143.7,460.3 144.4,461.0 145.2,461.6 145.9,462.2 146.6,462.8 147.3,463.4 148.0,464.0 148.8,464.6 149.5,465.1 150.2,465.7 150.9,466.2 151.6,466.7 152.4,467.3 153.1,467.8 153.8,468.3 154.5,468.8 155.2,469.3 156.0,469.7 156.7,470.2 157.4,470.7 158.1,471.1 158.8,471.6 159.6,472.0 160.3,472.4 161.0,472.9 161.7,473.3 162.4,473.7 163.2,474.1 163.9,474.5 164.6,474.9 165.3,475.3 166.0,475.6 166.8,476.0 167.5,476.4 168.2,476.7 168.9,477.1 169.6,477.4 170.4,477.8 171.1,478.1 171.8,478.4 172.5,478.8 173.2,479.1 174.0,479.4 174.7,479.7 175.4,480.0 176.1,480.3 176.8,480.6 177.6,480.9 178.3,481.2 179.0,481.5 179.7,481.8 180.4,482.0 181.2,482.3 181.9,482.6 182.6,482.8 183.3,483.1 184.0,483.4 184.8,483.6 185.5,483.9 186.2,484.1 186.9,484.3 187.6,484.6 188.4,484.8 189.1,485.1 189.8,485.3 190.5,485.5 191.2,485.7 192.0,485.9 192.7,486.2 193.4,486.4 194.1,486.6 194.8,486.8 195.6,487.0 196.3,487.2 197.0,487.4 197.7,487.6 198.4,487.8 199.2,488.0 199.9,488.2 200.6,488.3 201.3,488.5 202.0,488.7 202.8,488.9 203.5,489.1 204.2,489.2 204.9,489.4 205.6,489.6 206.4,489.7 207.1,489.9 207.8,490.1 208.5,490.2 209.2,490.4 210.0,490.5 210.7,490.7 211.4,490.8 212.1,491.0 212.8,491.1 213.6,491.3 214.3,491.4 215.0,491.6 215.7,491.7 216.4,491.8 217.2,492.0 217.9,492.1 218.6,492.2 219.3,492.4 220.0,492.5 220.8,492.6 221.5,492.8 222.2,492.9 222.9,493.0 223.6,493.1 224.4,493.2 225.1,493.4 225.8,493.5 226.5,493.6 227.2,493.7 228.0,493.8 228.7,493.9 229.4,494.0 230.1,494.1 230.8,494.3 231.6,494.4 232.3,494.5 233.0,494.6 233.7,494.7 234.4,494.8 235.2,494.9 235.9,495.0 236.6,495.1 237.3,495.2 238.0,495.3 238.8,495.3 239.5,495.4 240.2,495.5 240.9,495.6 241.6,495.7 242.4,495.8 243.1,495.9 243.8,496.0 244.5,496.1 245.2,496.1 246.0,496.2 246.7,496.3 247.4,496.4 248.1,496.5 248.8,496.5 249.6,496.6 250.3,496.7 251.0,496.8 251.7,496.9 252.4,496.9 253.2,497.0 253.9,497.1 254.6,497.1 255.3,497.2 256.0,497.3 256.8,497.4 257.5,497.4 258.2,497.5 258.9,497.6 259.6,497.6 260.4,497.7 261.1,497.8 261.8,497.8 262.5,497.9 263.2,497.9 264.0,498.0 264.7,498.1 265.4,498.1 266.1,498.2 266.8,498.2 267.6,498.3 268.3,498.4 269.0,498.4 269.7,498.5 270.4,498.5 271.2,498.6 271.9,498.6 272.6,498.7 273.3,498.7 274.0,498.8 274.8,498.8 275.5,498.9 276.2,498.9 276.9,499.0 277.6,499.0 278.4,499.1 279.1,499.1 279.8,499.2 280.5,499.2 281.2,499.3 282.0,499.3 282.7,499.4 283.4,499.4 284.1,499.5 284.8,499.5 285.6,499.5 286.3,499.6 287.0,499.6" fill="none" stroke="#4a6ee0" stroke-width="3.2" stroke-linejoin="round"/>
<polyline points="79.6,503.2 80.4,503.0 81.1,502.7 81.8,501.9 82.5,500.5 83.2,497.9 84.0,493.6 84.7,486.9 85.4,477.5 86.1,465.2 86.8,450.2 87.6,433.5 88.3,416.2 89.0,399.7 89.7,385.5 90.4,374.2 91.2,366.3 91.9,361.6 92.6,359.6 93.3,359.5 94.0,360.7 94.8,362.8 95.5,365.2 96.2,367.9 96.9,370.6 97.6,373.3 98.4,375.9 99.1,378.5 99.8,381.0 100.5,383.4 101.2,385.8 102.0,388.2 102.7,390.5 103.4,392.7 104.1,394.8 104.8,397.0 105.6,399.0 106.3,401.0 107.0,403.0 107.7,404.9 108.4,406.8 109.2,408.6 109.9,410.4 110.6,412.1 111.3,413.8 112.0,415.5 112.8,417.1 113.5,418.7 114.2,420.2 114.9,421.7 115.6,423.2 116.4,424.7 117.1,426.1 117.8,427.4 118.5,428.8 119.2,430.1 120.0,431.4 120.7,432.6 121.4,433.9 122.1,435.1 122.8,436.2 123.6,437.4 124.3,438.5 125.0,439.6 125.7,440.7 126.4,441.7 127.2,442.8 127.9,443.8 128.6,444.8 129.3,445.7 130.0,446.7 130.8,447.6 131.5,448.5 132.2,449.4 132.9,450.3 133.6,451.1 134.4,452.0 135.1,452.8 135.8,453.6 136.5,454.4 137.2,455.1 138.0,455.9 138.7,456.6 139.4,457.3 140.1,458.0 140.8,458.7 141.6,459.4 142.3,460.1 143.0,460.7 143.7,461.4 144.4,462.0 145.2,462.6 145.9,463.2 146.6,463.8 147.3,464.4 148.0,465.0 148.8,465.5 149.5,466.1 150.2,466.6 150.9,467.2 151.6,467.7 152.4,468.2 153.1,468.7 153.8,469.2 154.5,469.7 155.2,470.2 156.0,470.6 156.7,471.1 157.4,471.5 158.1,472.0 158.8,472.4 159.6,472.9 160.3,473.3 161.0,473.7 161.7,474.1 162.4,474.5 163.2,474.9 163.9,475.3 164.6,475.7 165.3,476.0 166.0,476.4 166.8,476.8 167.5,477.1 168.2,477.5 168.9,477.8 169.6,478.2 170.4,478.5 171.1,478.8 171.8,479.1 172.5,479.5 173.2,479.8 174.0,480.1 174.7,480.4 175.4,480.7 176.1,481.0 176.8,481.3 177.6,481.5 178.3,481.8 179.0,482.1 179.7,482.4 180.4,482.6 181.2,482.9 181.9,483.2 182.6,483.4 183.3,483.7 184.0,483.9 184.8,484.2 185.5,484.4 186.2,484.6 186.9,484.9 187.6,485.1 188.4,485.3 189.1,485.6 189.8,485.8 190.5,486.0 191.2,486.2 192.0,486.4 192.7,486.6 193.4,486.8 194.1,487.0 194.8,487.2 195.6,487.4 196.3,487.6 197.0,487.8 197.7,488.0 198.4,488.2 199.2,488.4 199.9,488.6 200.6,488.7 201.3,488.9 202.0,489.1 202.8,489.3 203.5,489.4 204.2,489.6 204.9,489.8 205.6,489.9 206.4,490.1 207.1,490.2 207.8,490.4 208.5,490.5 209.2,490.7 210.0,490.8 210.7,491.0 211.4,491.1 212.1,491.3 212.8,491.4 213.6,491.6 214.3,491.7 215.0,491.8 215.7,492.0 216.4,492.1 217.2,492.2 217.9,492.4 218.6,492.5 219.3,492.6 220.0,492.8 220.8,492.9 221.5,493.0 222.2,493.1 222.9,493.2 223.6,493.4 224.4,493.5 225.1,493.6 225.8,493.7 226.5,493.8 227.2,493.9 228.0,494.0 228.7,494.1 229.4,494.2 230.1,494.3 230.8,494.5 231.6,494.6 232.3,494.7 233.0,494.8 233.7,494.9 234.4,495.0 235.2,495.0 235.9,495.1 236.6,495.2 237.3,495.3 238.0,495.4 238.8,495.5 239.5,495.6 240.2,495.7 240.9,495.8 241.6,495.9 242.4,495.9 243.1,496.0 243.8,496.1 244.5,496.2 245.2,496.3 246.0,496.4 246.7,496.4 247.4,496.5 248.1,496.6 248.8,496.7 249.6,496.7 250.3,496.8 251.0,496.9 251.7,497.0 252.4,497.0 253.2,497.1 253.9,497.2 254.6,497.2 255.3,497.3 256.0,497.4 256.8,497.4 257.5,497.5 258.2,497.6 258.9,497.6 259.6,497.7 260.4,497.8 261.1,497.8 261.8,497.9 262.5,498.0 263.2,498.0 264.0,498.1 264.7,498.1 265.4,498.2 266.1,498.3 266.8,498.3 267.6,498.4 268.3,498.4 269.0,498.5 269.7,498.5 270.4,498.6 271.2,498.6 271.9,498.7 272.6,498.7 273.3,498.8 274.0,498.8 274.8,498.9 275.5,498.9 276.2,499.0 276.9,499.0 277.6,499.1 278.4,499.1 279.1,499.2 279.8,499.2 280.5,499.3 281.2,499.3 282.0,499.4 282.7,499.4 283.4,499.4 284.1,499.5 284.8,499.5 285.6,499.6 286.3,499.6 287.0,499.7" fill="none" stroke="#5a94ee" stroke-width="3.0" stroke-linejoin="round"/>
<polyline points="79.6,503.2 80.4,503.0 81.1,502.7 81.8,501.9 82.5,500.4 83.2,497.7 84.0,493.2 84.7,486.5 85.4,476.9 86.1,464.3 86.8,449.1 87.6,432.2 88.3,414.8 89.0,398.4 89.7,384.2 90.4,373.2 91.2,365.6 91.9,361.2 92.6,359.5 93.3,359.8 94.0,361.4 94.8,363.8 95.5,366.6 96.2,369.5 96.9,372.5 97.6,375.5 98.4,378.4 99.1,381.2 99.8,384.0 100.5,386.7 101.2,389.3 102.0,391.8 102.7,394.3 103.4,396.7 104.1,399.0 104.8,401.3 105.6,403.5 106.3,405.7 107.0,407.8 107.7,409.8 108.4,411.8 109.2,413.7 109.9,415.6 110.6,417.5 111.3,419.3 112.0,421.0 112.8,422.7 113.5,424.3 114.2,426.0 114.9,427.5 115.6,429.0 116.4,430.5 117.1,432.0 117.8,433.4 118.5,434.8 119.2,436.1 120.0,437.4 120.7,438.7 121.4,439.9 122.1,441.2 122.8,442.3 123.6,443.5 124.3,444.6 125.0,445.7 125.7,446.8 126.4,447.8 127.2,448.9 127.9,449.9 128.6,450.8 129.3,451.8 130.0,452.7 130.8,453.6 131.5,454.5 132.2,455.4 132.9,456.2 133.6,457.0 134.4,457.8 135.1,458.6 135.8,459.4 136.5,460.1 137.2,460.9 138.0,461.6 138.7,462.3 139.4,463.0 140.1,463.6 140.8,464.3 141.6,464.9 142.3,465.6 143.0,466.2 143.7,466.8 144.4,467.4 145.2,467.9 145.9,468.5 146.6,469.0 147.3,469.6 148.0,470.1 148.8,470.6 149.5,471.1 150.2,471.6 150.9,472.1 151.6,472.6 152.4,473.0 153.1,473.5 153.8,473.9 154.5,474.4 155.2,474.8 156.0,475.2 156.7,475.6 157.4,476.0 158.1,476.4 158.8,476.8 159.6,477.2 160.3,477.6 161.0,478.0 161.7,478.3 162.4,478.7 163.2,479.0 163.9,479.3 164.6,479.7 165.3,480.0 166.0,480.3 166.8,480.6 167.5,481.0 168.2,481.3 168.9,481.6 169.6,481.9 170.4,482.1 171.1,482.4 171.8,482.7 172.5,483.0 173.2,483.2 174.0,483.5 174.7,483.8 175.4,484.0 176.1,484.3 176.8,484.5 177.6,484.8 178.3,485.0 179.0,485.2 179.7,485.5 180.4,485.7 181.2,485.9 181.9,486.1 182.6,486.3 183.3,486.6 184.0,486.8 184.8,487.0 185.5,487.2 186.2,487.4 186.9,487.6 187.6,487.8 188.4,488.0 189.1,488.1 189.8,488.3 190.5,488.5 191.2,488.7 192.0,488.9 192.7,489.0 193.4,489.2 194.1,489.4 194.8,489.5 195.6,489.7 196.3,489.9 197.0,490.0 197.7,490.2 198.4,490.3 199.2,490.5 199.9,490.6 200.6,490.8 201.3,490.9 202.0,491.1 202.8,491.2 203.5,491.3 204.2,491.5 204.9,491.6 205.6,491.8 206.4,491.9 207.1,492.0 207.8,492.1 208.5,492.3 209.2,492.4 210.0,492.5 210.7,492.6 211.4,492.8 212.1,492.9 212.8,493.0 213.6,493.1 214.3,493.2 215.0,493.3 215.7,493.4 216.4,493.6 217.2,493.7 217.9,493.8 218.6,493.9 219.3,494.0 220.0,494.1 220.8,494.2 221.5,494.3 222.2,494.4 222.9,494.5 223.6,494.6 224.4,494.7 225.1,494.8 225.8,494.9 226.5,494.9 227.2,495.0 228.0,495.1 228.7,495.2 229.4,495.3 230.1,495.4 230.8,495.5 231.6,495.6 232.3,495.6 233.0,495.7 233.7,495.8 234.4,495.9 235.2,496.0 235.9,496.0 236.6,496.1 237.3,496.2 238.0,496.3 238.8,496.3 239.5,496.4 240.2,496.5 240.9,496.6 241.6,496.6 242.4,496.7 243.1,496.8 243.8,496.8 244.5,496.9 245.2,497.0 246.0,497.0 246.7,497.1 247.4,497.2 248.1,497.2 248.8,497.3 249.6,497.4 250.3,497.4 251.0,497.5 251.7,497.5 252.4,497.6 253.2,497.7 253.9,497.7 254.6,497.8 255.3,497.8 256.0,497.9 256.8,497.9 257.5,498.0 258.2,498.1 258.9,498.1 259.6,498.2 260.4,498.2 261.1,498.3 261.8,498.3 262.5,498.4 263.2,498.4 264.0,498.5 264.7,498.5 265.4,498.6 266.1,498.6 266.8,498.7 267.6,498.7 268.3,498.8 269.0,498.8 269.7,498.9 270.4,498.9 271.2,498.9 271.9,499.0 272.6,499.0 273.3,499.1 274.0,499.1 274.8,499.2 275.5,499.2 276.2,499.2 276.9,499.3 277.6,499.3 278.4,499.4 279.1,499.4 279.8,499.4 280.5,499.5 281.2,499.5 282.0,499.6 282.7,499.6 283.4,499.6 284.1,499.7 284.8,499.7 285.6,499.7 286.3,499.8 287.0,499.8" fill="none" stroke="#a8def6" stroke-width="2.6" stroke-linejoin="round"/>
<polyline points="79.6,503.2 80.4,503.0 81.1,502.6 81.8,501.9 82.5,500.3 83.2,497.6 84.0,493.1 84.7,486.3 85.4,476.6 86.1,463.9 86.8,448.7 87.6,431.7 88.3,414.2 89.0,397.8 89.7,383.7 90.4,372.7 91.2,365.3 91.9,361.0 92.6,359.4 93.3,359.9 94.0,361.6 94.8,364.2 95.5,367.1 96.2,370.2 96.9,373.3 97.6,376.4 98.4,379.4 99.1,382.3 99.8,385.1 100.5,387.9 101.2,390.6 102.0,393.2 102.7,395.8 103.4,398.3 104.1,400.7 104.8,403.0 105.6,405.3 106.3,407.5 107.0,409.6 107.7,411.7 108.4,413.8 109.2,415.7 109.9,417.7 110.6,419.5 111.3,421.4 112.0,423.1 112.8,424.9 113.5,426.5 114.2,428.2 114.9,429.8 115.6,431.3 116.4,432.8 117.1,434.3 117.8,435.7 118.5,437.1 119.2,438.4 120.0,439.8 120.7,441.1 121.4,442.3 122.1,443.5 122.8,444.7 123.6,445.9 124.3,447.0 125.0,448.1 125.7,449.2 126.4,450.2 127.2,451.2 127.9,452.2 128.6,453.2 129.3,454.1 130.0,455.0 130.8,455.9 131.5,456.8 132.2,457.7 132.9,458.5 133.6,459.3 134.4,460.1 135.1,460.9 135.8,461.6 136.5,462.4 137.2,463.1 138.0,463.8 138.7,464.5 139.4,465.1 140.1,465.8 140.8,466.4 141.6,467.1 142.3,467.7 143.0,468.3 143.7,468.9 144.4,469.4 145.2,470.0 145.9,470.5 146.6,471.1 147.3,471.6 148.0,472.1 148.8,472.6 149.5,473.1 150.2,473.5 150.9,474.0 151.6,474.5 152.4,474.9 153.1,475.4 153.8,475.8 154.5,476.2 155.2,476.6 156.0,477.0 156.7,477.4 157.4,477.8 158.1,478.2 158.8,478.5 159.6,478.9 160.3,479.3 161.0,479.6 161.7,479.9 162.4,480.3 163.2,480.6 163.9,480.9 164.6,481.2 165.3,481.5 166.0,481.9 166.8,482.1 167.5,482.4 168.2,482.7 168.9,483.0 169.6,483.3 170.4,483.6 171.1,483.8 171.8,484.1 172.5,484.3 173.2,484.6 174.0,484.8 174.7,485.1 175.4,485.3 176.1,485.5 176.8,485.8 177.6,486.0 178.3,486.2 179.0,486.4 179.7,486.7 180.4,486.9 181.2,487.1 181.9,487.3 182.6,487.5 183.3,487.7 184.0,487.9 184.8,488.1 185.5,488.2 186.2,488.4 186.9,488.6 187.6,488.8 188.4,489.0 189.1,489.1 189.8,489.3 190.5,489.5 191.2,489.6 192.0,489.8 192.7,490.0 193.4,490.1 194.1,490.3 194.8,490.4 195.6,490.6 196.3,490.7 197.0,490.9 197.7,491.0 198.4,491.2 199.2,491.3 199.9,491.4 200.6,491.6 201.3,491.7 202.0,491.8 202.8,492.0 203.5,492.1 204.2,492.2 204.9,492.3 205.6,492.5 206.4,492.6 207.1,492.7 207.8,492.8 208.5,492.9 209.2,493.1 210.0,493.2 210.7,493.3 211.4,493.4 212.1,493.5 212.8,493.6 213.6,493.7 214.3,493.8 215.0,493.9 215.7,494.0 216.4,494.1 217.2,494.2 217.9,494.3 218.6,494.4 219.3,494.5 220.0,494.6 220.8,494.7 221.5,494.8 222.2,494.9 222.9,495.0 223.6,495.0 224.4,495.1 225.1,495.2 225.8,495.3 226.5,495.4 227.2,495.5 228.0,495.6 228.7,495.6 229.4,495.7 230.1,495.8 230.8,495.9 231.6,495.9 232.3,496.0 233.0,496.1 233.7,496.2 234.4,496.2 235.2,496.3 235.9,496.4 236.6,496.5 237.3,496.5 238.0,496.6 238.8,496.7 239.5,496.7 240.2,496.8 240.9,496.9 241.6,496.9 242.4,497.0 243.1,497.1 243.8,497.1 244.5,497.2 245.2,497.2 246.0,497.3 246.7,497.4 247.4,497.4 248.1,497.5 248.8,497.5 249.6,497.6 250.3,497.7 251.0,497.7 251.7,497.8 252.4,497.8 253.2,497.9 253.9,497.9 254.6,498.0 255.3,498.0 256.0,498.1 256.8,498.1 257.5,498.2 258.2,498.2 258.9,498.3 259.6,498.3 260.4,498.4 261.1,498.4 261.8,498.5 262.5,498.5 263.2,498.6 264.0,498.6 264.7,498.7 265.4,498.7 266.1,498.8 266.8,498.8 267.6,498.8 268.3,498.9 269.0,498.9 269.7,499.0 270.4,499.0 271.2,499.1 271.9,499.1 272.6,499.1 273.3,499.2 274.0,499.2 274.8,499.3 275.5,499.3 276.2,499.3 276.9,499.4 277.6,499.4 278.4,499.5 279.1,499.5 279.8,499.5 280.5,499.6 281.2,499.6 282.0,499.6 282.7,499.7 283.4,499.7 284.1,499.7 284.8,499.8 285.6,499.8 286.3,499.8 287.0,499.9" fill="none" stroke="#98e6dc" stroke-width="2.6" stroke-linejoin="round"/>
<polyline points="79.6,503.2 80.4,503.0 81.1,502.6 81.8,501.8 82.5,500.3 83.2,497.5 84.0,492.9 84.7,486.0 85.4,476.2 86.1,463.4 86.8,448.0 87.6,430.8 88.3,413.3 89.0,396.9 89.7,382.9 90.4,372.1 91.2,364.7 91.9,360.7 92.6,359.4 93.3,360.1 94.0,362.0 94.8,364.8 95.5,367.9 96.2,371.2 96.9,374.5 97.6,377.8 98.4,381.0 99.1,384.1 99.8,387.1 100.5,390.0 101.2,392.8 102.0,395.6 102.7,398.3 103.4,400.8 104.1,403.4 104.8,405.8 105.6,408.2 106.3,410.5 107.0,412.7 107.7,414.9 108.4,417.0 109.2,419.1 109.9,421.1 110.6,423.0 111.3,424.9 112.0,426.7 112.8,428.5 113.5,430.2 114.2,431.9 114.9,433.5 115.6,435.1 116.4,436.6 117.1,438.1 117.8,439.5 118.5,441.0 119.2,442.3 120.0,443.7 120.7,445.0 121.4,446.2 122.1,447.4 122.8,448.6 123.6,449.8 124.3,450.9 125.0,452.0 125.7,453.1 126.4,454.1 127.2,455.1 127.9,456.1 128.6,457.1 129.3,458.0 130.0,458.9 130.8,459.8 131.5,460.7 132.2,461.5 132.9,462.3 133.6,463.1 134.4,463.9 135.1,464.6 135.8,465.4 136.5,466.1 137.2,466.8 138.0,467.5 138.7,468.1 139.4,468.8 140.1,469.4 140.8,470.0 141.6,470.6 142.3,471.2 143.0,471.8 143.7,472.3 144.4,472.9 145.2,473.4 145.9,473.9 146.6,474.4 147.3,474.9 148.0,475.4 148.8,475.9 149.5,476.3 150.2,476.8 150.9,477.2 151.6,477.6 152.4,478.0 153.1,478.4 153.8,478.8 154.5,479.2 155.2,479.6 156.0,480.0 156.7,480.3 157.4,480.7 158.1,481.0 158.8,481.4 159.6,481.7 160.3,482.0 161.0,482.4 161.7,482.7 162.4,483.0 163.2,483.3 163.9,483.6 164.6,483.8 165.3,484.1 166.0,484.4 166.8,484.7 167.5,484.9 168.2,485.2 168.9,485.4 169.6,485.7 170.4,485.9 171.1,486.1 171.8,486.4 172.5,486.6 173.2,486.8 174.0,487.0 174.7,487.3 175.4,487.5 176.1,487.7 176.8,487.9 177.6,488.1 178.3,488.3 179.0,488.5 179.7,488.7 180.4,488.8 181.2,489.0 181.9,489.2 182.6,489.4 183.3,489.5 184.0,489.7 184.8,489.9 185.5,490.0 186.2,490.2 186.9,490.4 187.6,490.5 188.4,490.7 189.1,490.8 189.8,491.0 190.5,491.1 191.2,491.2 192.0,491.4 192.7,491.5 193.4,491.7 194.1,491.8 194.8,491.9 195.6,492.0 196.3,492.2 197.0,492.3 197.7,492.4 198.4,492.5 199.2,492.7 199.9,492.8 200.6,492.9 201.3,493.0 202.0,493.1 202.8,493.2 203.5,493.3 204.2,493.4 204.9,493.5 205.6,493.7 206.4,493.8 207.1,493.9 207.8,494.0 208.5,494.1 209.2,494.2 210.0,494.2 210.7,494.3 211.4,494.4 212.1,494.5 212.8,494.6 213.6,494.7 214.3,494.8 215.0,494.9 215.7,495.0 216.4,495.0 217.2,495.1 217.9,495.2 218.6,495.3 219.3,495.4 220.0,495.5 220.8,495.5 221.5,495.6 222.2,495.7 222.9,495.8 223.6,495.8 224.4,495.9 225.1,496.0 225.8,496.1 226.5,496.1 227.2,496.2 228.0,496.3 228.7,496.3 229.4,496.4 230.1,496.5 230.8,496.5 231.6,496.6 232.3,496.7 233.0,496.7 233.7,496.8 234.4,496.8 235.2,496.9 235.9,497.0 236.6,497.0 237.3,497.1 238.0,497.1 238.8,497.2 239.5,497.3 240.2,497.3 240.9,497.4 241.6,497.4 242.4,497.5 243.1,497.5 243.8,497.6 244.5,497.6 245.2,497.7 246.0,497.7 246.7,497.8 247.4,497.9 248.1,497.9 248.8,498.0 249.6,498.0 250.3,498.0 251.0,498.1 251.7,498.1 252.4,498.2 253.2,498.2 253.9,498.3 254.6,498.3 255.3,498.4 256.0,498.4 256.8,498.5 257.5,498.5 258.2,498.6 258.9,498.6 259.6,498.6 260.4,498.7 261.1,498.7 261.8,498.8 262.5,498.8 263.2,498.8 264.0,498.9 264.7,498.9 265.4,499.0 266.1,499.0 266.8,499.0 267.6,499.1 268.3,499.1 269.0,499.1 269.7,499.2 270.4,499.2 271.2,499.3 271.9,499.3 272.6,499.3 273.3,499.4 274.0,499.4 274.8,499.4 275.5,499.5 276.2,499.5 276.9,499.5 277.6,499.6 278.4,499.6 279.1,499.6 279.8,499.7 280.5,499.7 281.2,499.7 282.0,499.8 282.7,499.8 283.4,499.8 284.1,499.8 284.8,499.9 285.6,499.9 286.3,499.9 287.0,500.0" fill="none" stroke="#eeb0e0" stroke-width="2.6" stroke-linejoin="round"/>
<polyline points="79.6,503.2 80.4,503.0 81.1,502.6 81.8,501.8 82.5,500.2 83.2,497.3 84.0,492.7 84.7,485.6 85.4,475.6 86.1,462.6 86.8,447.1 87.6,429.8 88.3,412.2 89.0,395.8 89.7,381.8 90.4,371.2 91.2,364.1 91.9,360.4 92.6,359.3 93.3,360.3 94.0,362.6 94.8,365.6 95.5,369.0 96.2,372.5 96.9,376.1 97.6,379.6 98.4,383.0 99.1,386.3 99.8,389.5 100.5,392.6 101.2,395.6 102.0,398.5 102.7,401.4 103.4,404.1 104.1,406.8 104.8,409.3 105.6,411.8 106.3,414.2 107.0,416.6 107.7,418.9 108.4,421.1 109.2,423.2 109.9,425.3 110.6,427.3 111.3,429.2 112.0,431.1 112.8,433.0 113.5,434.7 114.2,436.5 114.9,438.1 115.6,439.8 116.4,441.3 117.1,442.9 117.8,444.4 118.5,445.8 119.2,447.2 120.0,448.5 120.7,449.8 121.4,451.1 122.1,452.4 122.8,453.6 123.6,454.7 124.3,455.9 125.0,456.9 125.7,458.0 126.4,459.0 127.2,460.1 127.9,461.0 128.6,462.0 129.3,462.9 130.0,463.8 130.8,464.7 131.5,465.5 132.2,466.3 132.9,467.1 133.6,467.9 134.4,468.6 135.1,469.4 135.8,470.1 136.5,470.8 137.2,471.4 138.0,472.1 138.7,472.7 139.4,473.3 140.1,473.9 140.8,474.5 141.6,475.1 142.3,475.6 143.0,476.2 143.7,476.7 144.4,477.2 145.2,477.7 145.9,478.2 146.6,478.6 147.3,479.1 148.0,479.5 148.8,480.0 149.5,480.4 150.2,480.8 150.9,481.2 151.6,481.6 152.4,481.9 153.1,482.3 153.8,482.7 154.5,483.0 155.2,483.4 156.0,483.7 156.7,484.0 157.4,484.3 158.1,484.6 158.8,484.9 159.6,485.2 160.3,485.5 161.0,485.8 161.7,486.1 162.4,486.3 163.2,486.6 163.9,486.8 164.6,487.1 165.3,487.3 166.0,487.6 166.8,487.8 167.5,488.0 168.2,488.2 168.9,488.4 169.6,488.7 170.4,488.9 171.1,489.1 171.8,489.3 172.5,489.4 173.2,489.6 174.0,489.8 174.7,490.0 175.4,490.2 176.1,490.3 176.8,490.5 177.6,490.7 178.3,490.8 179.0,491.0 179.7,491.1 180.4,491.3 181.2,491.4 181.9,491.6 182.6,491.7 183.3,491.9 184.0,492.0 184.8,492.1 185.5,492.3 186.2,492.4 186.9,492.5 187.6,492.7 188.4,492.8 189.1,492.9 189.8,493.0 190.5,493.1 191.2,493.2 192.0,493.3 192.7,493.5 193.4,493.6 194.1,493.7 194.8,493.8 195.6,493.9 196.3,494.0 197.0,494.1 197.7,494.2 198.4,494.3 199.2,494.4 199.9,494.4 200.6,494.5 201.3,494.6 202.0,494.7 202.8,494.8 203.5,494.9 204.2,495.0 204.9,495.1 205.6,495.1 206.4,495.2 207.1,495.3 207.8,495.4 208.5,495.4 209.2,495.5 210.0,495.6 210.7,495.7 211.4,495.7 212.1,495.8 212.8,495.9 213.6,495.9 214.3,496.0 215.0,496.1 215.7,496.1 216.4,496.2 217.2,496.3 217.9,496.3 218.6,496.4 219.3,496.5 220.0,496.5 220.8,496.6 221.5,496.6 222.2,496.7 222.9,496.8 223.6,496.8 224.4,496.9 225.1,496.9 225.8,497.0 226.5,497.0 227.2,497.1 228.0,497.1 228.7,497.2 229.4,497.3 230.1,497.3 230.8,497.4 231.6,497.4 232.3,497.5 233.0,497.5 233.7,497.6 234.4,497.6 235.2,497.6 235.9,497.7 236.6,497.7 237.3,497.8 238.0,497.8 238.8,497.9 239.5,497.9 240.2,498.0 240.9,498.0 241.6,498.1 242.4,498.1 243.1,498.1 243.8,498.2 244.5,498.2 245.2,498.3 246.0,498.3 246.7,498.3 247.4,498.4 248.1,498.4 248.8,498.5 249.6,498.5 250.3,498.5 251.0,498.6 251.7,498.6 252.4,498.7 253.2,498.7 253.9,498.7 254.6,498.8 255.3,498.8 256.0,498.8 256.8,498.9 257.5,498.9 258.2,498.9 258.9,499.0 259.6,499.0 260.4,499.0 261.1,499.1 261.8,499.1 262.5,499.1 263.2,499.2 264.0,499.2 264.7,499.2 265.4,499.3 266.1,499.3 266.8,499.3 267.6,499.4 268.3,499.4 269.0,499.4 269.7,499.4 270.4,499.5 271.2,499.5 271.9,499.5 272.6,499.6 273.3,499.6 274.0,499.6 274.8,499.6 275.5,499.7 276.2,499.7 276.9,499.7 277.6,499.8 278.4,499.8 279.1,499.8 279.8,499.8 280.5,499.9 281.2,499.9 282.0,499.9 282.7,499.9 283.4,500.0 284.1,500.0 284.8,500.0 285.6,500.0 286.3,500.1 287.0,500.1" fill="none" stroke="#ecc478" stroke-width="3.0" stroke-linejoin="round"/>
<polyline points="79.6,503.2 80.4,503.0 81.1,502.6 81.8,501.8 82.5,500.2 83.2,497.3 84.0,492.6 84.7,485.5 85.4,475.5 86.1,462.5 86.8,446.9 87.6,429.6 88.3,412.0 89.0,395.6 89.7,381.6 90.4,371.0 91.2,364.0 91.9,360.3 92.6,359.3 93.3,360.3 94.0,362.7 94.8,365.7 95.5,369.2 96.2,372.8 96.9,376.4 97.6,379.9 98.4,383.4 99.1,386.7 99.8,390.0 100.5,393.1 101.2,396.2 102.0,399.1 102.7,402.0 103.4,404.7 104.1,407.4 104.8,410.0 105.6,412.6 106.3,415.0 107.0,417.4 107.7,419.7 108.4,421.9 109.2,424.0 109.9,426.1 110.6,428.2 111.3,430.1 112.0,432.0 112.8,433.9 113.5,435.7 114.2,437.4 114.9,439.1 115.6,440.7 116.4,442.3 117.1,443.8 117.8,445.3 118.5,446.8 119.2,448.2 120.0,449.5 120.7,450.8 121.4,452.1 122.1,453.3 122.8,454.5 123.6,455.7 124.3,456.8 125.0,457.9 125.7,459.0 126.4,460.0 127.2,461.0 127.9,462.0 128.6,463.0 129.3,463.9 130.0,464.8 130.8,465.6 131.5,466.5 132.2,467.3 132.9,468.1 133.6,468.8 134.4,469.6 135.1,470.3 135.8,471.0 136.5,471.7 137.2,472.4 138.0,473.0 138.7,473.6 139.4,474.2 140.1,474.8 140.8,475.4 141.6,476.0 142.3,476.5 143.0,477.0 143.7,477.5 144.4,478.0 145.2,478.5 145.9,479.0 146.6,479.5 147.3,479.9 148.0,480.3 148.8,480.8 149.5,481.2 150.2,481.6 150.9,482.0 151.6,482.4 152.4,482.7 153.1,483.1 153.8,483.4 154.5,483.8 155.2,484.1 156.0,484.4 156.7,484.7 157.4,485.1 158.1,485.4 158.8,485.6 159.6,485.9 160.3,486.2 161.0,486.5 161.7,486.7 162.4,487.0 163.2,487.2 163.9,487.5 164.6,487.7 165.3,488.0 166.0,488.2 166.8,488.4 167.5,488.6 168.2,488.8 168.9,489.0 169.6,489.3 170.4,489.4 171.1,489.6 171.8,489.8 172.5,490.0 173.2,490.2 174.0,490.4 174.7,490.5 175.4,490.7 176.1,490.9 176.8,491.0 177.6,491.2 178.3,491.3 179.0,491.5 179.7,491.6 180.4,491.8 181.2,491.9 181.9,492.1 182.6,492.2 183.3,492.3 184.0,492.5 184.8,492.6 185.5,492.7 186.2,492.8 186.9,493.0 187.6,493.1 188.4,493.2 189.1,493.3 189.8,493.4 190.5,493.5 191.2,493.6 192.0,493.7 192.7,493.8 193.4,493.9 194.1,494.0 194.8,494.1 195.6,494.2 196.3,494.3 197.0,494.4 197.7,494.5 198.4,494.6 199.2,494.7 199.9,494.8 200.6,494.9 201.3,495.0 202.0,495.0 202.8,495.1 203.5,495.2 204.2,495.3 204.9,495.4 205.6,495.4 206.4,495.5 207.1,495.6 207.8,495.7 208.5,495.7 209.2,495.8 210.0,495.9 210.7,495.9 211.4,496.0 212.1,496.1 212.8,496.1 213.6,496.2 214.3,496.3 215.0,496.3 215.7,496.4 216.4,496.4 217.2,496.5 217.9,496.6 218.6,496.6 219.3,496.7 220.0,496.7 220.8,496.8 221.5,496.9 222.2,496.9 222.9,497.0 223.6,497.0 224.4,497.1 225.1,497.1 225.8,497.2 226.5,497.2 227.2,497.3 228.0,497.3 228.7,497.4 229.4,497.4 230.1,497.5 230.8,497.5 231.6,497.6 232.3,497.6 233.0,497.7 233.7,497.7 234.4,497.8 235.2,497.8 235.9,497.8 236.6,497.9 237.3,497.9 238.0,498.0 238.8,498.0 239.5,498.1 240.2,498.1 240.9,498.1 241.6,498.2 242.4,498.2 243.1,498.3 243.8,498.3 244.5,498.3 245.2,498.4 246.0,498.4 246.7,498.5 247.4,498.5 248.1,498.5 248.8,498.6 249.6,498.6 250.3,498.6 251.0,498.7 251.7,498.7 252.4,498.7 253.2,498.8 253.9,498.8 254.6,498.8 255.3,498.9 256.0,498.9 256.8,498.9 257.5,499.0 258.2,499.0 258.9,499.0 259.6,499.1 260.4,499.1 261.1,499.1 261.8,499.2 262.5,499.2 263.2,499.2 264.0,499.3 264.7,499.3 265.4,499.3 266.1,499.4 266.8,499.4 267.6,499.4 268.3,499.4 269.0,499.5 269.7,499.5 270.4,499.5 271.2,499.6 271.9,499.6 272.6,499.6 273.3,499.6 274.0,499.7 274.8,499.7 275.5,499.7 276.2,499.7 276.9,499.8 277.6,499.8 278.4,499.8 279.1,499.8 279.8,499.9 280.5,499.9 281.2,499.9 282.0,499.9 282.7,500.0 283.4,500.0 284.1,500.0 284.8,500.0 285.6,500.1 286.3,500.1 287.0,500.1" fill="none" stroke="#eb9a3a" stroke-width="3.5" stroke-linejoin="round"/>
<polyline points="71.0,503.3 71.4,503.3 71.7,503.3 72.1,503.3 72.4,503.3 72.8,503.3 73.2,503.3 73.5,503.3 73.9,503.3 74.2,503.3 74.6,503.2 75.0,503.2 75.3,503.2 75.7,503.1 76.0,503.0 76.4,502.9 76.8,502.8 77.1,502.6 77.5,502.3 77.8,502.0 78.2,501.5 78.6,500.9 78.9,500.2 79.3,499.3 79.6,498.1 80.0,496.7 80.4,494.9 80.7,492.8 81.1,490.3 81.4,487.3 81.8,483.8 82.2,479.8 82.5,475.2 82.9,470.0 83.2,464.2 83.6,457.9 84.0,451.0 84.3,443.6 84.7,435.8 85.0,427.7 85.4,419.3 85.8,410.9 86.1,402.6 86.5,394.6 86.8,387.0 87.2,380.0 87.6,373.9 87.9,368.6 88.3,364.4 88.6,361.4 89.0,359.7 89.4,359.3 89.7,360.7 90.1,363.9 90.4,368.9 90.8,375.5 91.2,383.3 91.5,392.2 91.9,401.8 92.2,411.8 92.6,421.9 93.0,431.9 93.3,441.4 93.7,450.4 94.0,458.6 94.4,465.9 94.8,472.4 95.1,477.9 95.5,482.6 95.8,486.3 96.2,489.3 96.6,491.6 96.9,493.4 97.3,494.6 97.6,495.5 98.0,496.1 98.4,496.5 98.7,496.8 99.1,497.0 99.4,497.1 99.8,497.2 100.2,497.2 100.5,497.3 100.9,497.3 101.2,497.3 101.6,497.3 102.0,497.3 102.3,497.3 102.7,497.3 103.0,497.3 103.4,497.3 103.8,497.3 104.1,497.3 104.5,497.3 104.8,497.3 105.2,497.3 105.6,497.3 105.9,497.3 106.3,497.3 106.6,497.3 107.0,497.3 107.4,497.4 107.7,497.4 108.1,497.5 108.4,497.5 108.8,497.6 109.2,497.7 109.5,497.8 109.9,497.9 110.2,498.0 110.6,498.1 111.0,498.2 111.3,498.3 111.7,498.4 112.0,498.5 112.4,498.7 112.8,498.8 113.1,498.9 113.5,499.1 113.8,499.2 114.2,499.4 114.6,499.5 114.9,499.6 115.3,499.8 115.6,499.9 116.0,500.1 116.4,500.2 116.7,500.3 117.1,500.5 117.4,500.6 117.8,500.7 118.2,500.9 118.5,501.0 118.9,501.1 119.2,501.2 119.6,501.3 120.0,501.4 120.3,501.6 120.7,501.7 121.0,501.8 121.4,501.9 121.8,501.9 122.1,502.0 122.5,502.1 122.8,502.2 123.2,502.3 123.6,502.3 123.9,502.4 124.3,502.5 124.6,502.5 125.0,502.6 125.4,502.7 125.7,502.7 126.1,502.8 126.4,502.8 126.8,502.8 127.2,502.9 127.5,502.9 127.9,502.9 128.2,503.0 128.6,503.0 129.0,503.0 129.3,503.1 129.7,503.1 130.0,503.1 130.4,503.1 130.8,503.1 131.1,503.2 131.5,503.2 131.8,503.2 132.2,503.2 132.6,503.2 132.9,503.2 133.3,503.2 133.6,503.2 134.0,503.2 134.4,503.2 134.7,503.3 135.1,503.3 135.4,503.3 135.8,503.3 136.2,503.3 136.5,503.3 136.9,503.3 137.2,503.3 137.6,503.3 138.0,503.3 138.3,503.3 138.7,503.3 139.0,503.3 139.4,503.3 139.8,503.3 140.1,503.3 140.5,503.3 140.8,503.3 141.2,503.3 141.6,503.3 141.9,503.3 142.3,503.3 142.6,503.3 143.0,503.3 143.4,503.3 143.7,503.3 144.1,503.3 144.4,503.3 144.8,503.3 145.2,503.3 145.5,503.3 145.9,503.3 146.2,503.3 146.6,503.3 147.0,503.3 147.3,503.3 147.7,503.3 148.0,503.3 148.4,503.3 148.8,503.3 149.1,503.3 149.5,503.3 149.8,503.3 150.2,503.3 150.6,503.3 150.9,503.3 151.3,503.3 151.6,503.3 152.0,503.3 152.4,503.3 152.7,503.3 153.1,503.3 153.4,503.3 153.8,503.3 154.2,503.3 154.5,503.3 154.9,503.3 155.2,503.3 155.6,503.3 156.0,503.3 156.3,503.3 156.7,503.3 157.0,503.3 157.4,503.3 157.8,503.3 158.1,503.3 158.5,503.3 158.8,503.3 159.2,503.3 159.6,503.3 159.9,503.3 160.3,503.3 160.6,503.3 161.0,503.3 161.4,503.3 161.7,503.3 162.1,503.3 162.4,503.3 162.8,503.3 163.2,503.3 163.5,503.3 163.9,503.3 164.2,503.3 164.6,503.3 165.0,503.3 165.3,503.3 165.7,503.3 166.0,503.3 166.4,503.3 166.8,503.3 167.1,503.3 167.5,503.3 167.8,503.3 168.2,503.3 168.6,503.3 168.9,503.3 169.3,503.3 169.6,503.3 170.0,503.3 170.4,503.3 170.7,503.3 171.1,503.3 171.4,503.3 171.8,503.3 172.2,503.3 172.5,503.3 172.9,503.3 173.2,503.3 173.6,503.3 174.0,503.3 174.3,503.3 174.7,503.3 175.0,503.3 175.4,503.3 175.8,503.3 176.1,503.3 176.5,503.3 176.8,503.3 177.2,503.3 177.6,503.3 177.9,503.3 178.3,503.3 178.6,503.3 179.0,503.3 179.4,503.3 179.7,503.3 180.1,503.3 180.4,503.3 180.8,503.3 181.2,503.3 181.5,503.3 181.9,503.3 182.2,503.3 182.6,503.3 183.0,503.3 183.3,503.3 183.7,503.3 184.0,503.3 184.4,503.3 184.8,503.3 185.1,503.3 185.5,503.3 185.8,503.3 186.2,503.3 186.6,503.3 186.9,503.3 187.3,503.3 187.6,503.3 188.0,503.3 188.4,503.3 188.7,503.3 189.1,503.3 189.4,503.3 189.8,503.3 190.2,503.3 190.5,503.3 190.9,503.3 191.2,503.3 191.6,503.3 192.0,503.3 192.3,503.3 192.7,503.3 193.0,503.3 193.4,503.3 193.8,503.3 194.1,503.3 194.5,503.3 194.8,503.3 195.2,503.3 195.6,503.3 195.9,503.3 196.3,503.3 196.6,503.3 197.0,503.3 197.4,503.3 197.7,503.3 198.1,503.3 198.4,503.3 198.8,503.3 199.2,503.3 199.5,503.3 199.9,503.3 200.2,503.3 200.6,503.3 201.0,503.3 201.3,503.3 201.7,503.3 202.0,503.3 202.4,503.3 202.8,503.3 203.1,503.3 203.5,503.3 203.8,503.3 204.2,503.3 204.6,503.3 204.9,503.3 205.3,503.3 205.6,503.3 206.0,503.3 206.4,503.3 206.7,503.3 207.1,503.3 207.4,503.3 207.8,503.3 208.2,503.3 208.5,503.3 208.9,503.3 209.2,503.3 209.6,503.3 210.0,503.3 210.3,503.3 210.7,503.3 211.0,503.3 211.4,503.3 211.8,503.3 212.1,503.3 212.5,503.3 212.8,503.3 213.2,503.3 213.6,503.3 213.9,503.3 214.3,503.3 214.6,503.3 215.0,503.3 215.4,503.3 215.7,503.3 216.1,503.3 216.4,503.3 216.8,503.3 217.2,503.3 217.5,503.3 217.9,503.3 218.2,503.3 218.6,503.3 219.0,503.3 219.3,503.3 219.7,503.3 220.0,503.3 220.4,503.3 220.8,503.3 221.1,503.3 221.5,503.3 221.8,503.3 222.2,503.3 222.6,503.3 222.9,503.3 223.3,503.3 223.6,503.3 224.0,503.3 224.4,503.3 224.7,503.3 225.1,503.3 225.4,503.3 225.8,503.3 226.2,503.3 226.5,503.3 226.9,503.3 227.2,503.3 227.6,503.3 228.0,503.3 228.3,503.3 228.7,503.3 229.0,503.3 229.4,503.3 229.8,503.3 230.1,503.3 230.5,503.3 230.8,503.3 231.2,503.3 231.6,503.3 231.9,503.3 232.3,503.3 232.6,503.3 233.0,503.3 233.4,503.3 233.7,503.3 234.1,503.3 234.4,503.3 234.8,503.3 235.2,503.3 235.5,503.3 235.9,503.3 236.2,503.3 236.6,503.3 237.0,503.3 237.3,503.3 237.7,503.3 238.0,503.3 238.4,503.3 238.8,503.3 239.1,503.3 239.5,503.3 239.8,503.3 240.2,503.3 240.6,503.3 240.9,503.3 241.3,503.3 241.6,503.3 242.0,503.3 242.4,503.3 242.7,503.3 243.1,503.3 243.4,503.3 243.8,503.3 244.2,503.3 244.5,503.3 244.9,503.3 245.2,503.3 245.6,503.3 246.0,503.3 246.3,503.3 246.7,503.3 247.0,503.3 247.4,503.3 247.8,503.3 248.1,503.3 248.5,503.3 248.8,503.3 249.2,503.3 249.6,503.3 249.9,503.3 250.3,503.3 250.6,503.3 251.0,503.3 251.4,503.3 251.7,503.3 252.1,503.3 252.4,503.3 252.8,503.3 253.2,503.3 253.5,503.3 253.9,503.3 254.2,503.3 254.6,503.3 255.0,503.3 255.3,503.3 255.7,503.3 256.0,503.3 256.4,503.3 256.8,503.3 257.1,503.3 257.5,503.3 257.8,503.3 258.2,503.3 258.6,503.3 258.9,503.3 259.3,503.3 259.6,503.3 260.0,503.3 260.4,503.3 260.7,503.3 261.1,503.3 261.4,503.3 261.8,503.3 262.2,503.3 262.5,503.3 262.9,503.3 263.2,503.3 263.6,503.3 264.0,503.3 264.3,503.3 264.7,503.3 265.0,503.3 265.4,503.3 265.8,503.3 266.1,503.3 266.5,503.3 266.8,503.3 267.2,503.3 267.6,503.3 267.9,503.3 268.3,503.3 268.6,503.3 269.0,503.3 269.4,503.3 269.7,503.3 270.1,503.3 270.4,503.3 270.8,503.3 271.2,503.3 271.5,503.3 271.9,503.3 272.2,503.3 272.6,503.3 273.0,503.3 273.3,503.3 273.7,503.3 274.0,503.3 274.4,503.3 274.8,503.3 275.1,503.3 275.5,503.3 275.8,503.3 276.2,503.3 276.6,503.3 276.9,503.3 277.3,503.3 277.6,503.3 278.0,503.3 278.4,503.3 278.7,503.3 279.1,503.3 279.4,503.3 279.8,503.3 280.2,503.3 280.5,503.3 280.9,503.3 281.2,503.3 281.6,503.3 282.0,503.3 282.3,503.3 282.7,503.3 283.0,503.3 283.4,503.3 283.8,503.3 284.1,503.3 284.5,503.3 284.8,503.3 285.2,503.3 285.6,503.3 285.9,503.3 286.3,503.3 286.6,503.3 287.0,503.3" fill="none" stroke="#a4a4a4" stroke-width="1.9" stroke-linejoin="round"/>
<line x1="71.00" y1="359.00" x2="71.00" y2="503.30" stroke="#7a7a7a" stroke-width="1.2"/>
<line x1="71.00" y1="503.30" x2="287.00" y2="503.30" stroke="#7a7a7a" stroke-width="1.2"/>
<line x1="68.50" y1="359.00" x2="71.00" y2="359.00" stroke="#7a7a7a" stroke-width="1"/>
<text x="67.00" y="362.80" font-size="10.4" text-anchor="end" fill="#222">10000</text>
<line x1="68.50" y1="431.20" x2="71.00" y2="431.20" stroke="#7a7a7a" stroke-width="1"/>
<text x="67.00" y="435.00" font-size="10.4" text-anchor="end" fill="#222">5000</text>
<line x1="68.50" y1="503.30" x2="71.00" y2="503.30" stroke="#7a7a7a" stroke-width="1"/>
<text x="67.00" y="507.10" font-size="10.4" text-anchor="end" fill="#222">0</text>
<line x1="71.00" y1="503.30" x2="71.00" y2="505.80" stroke="#7a7a7a" stroke-width="1"/>
<text x="71.00" y="517.80" font-size="10.4" text-anchor="middle" fill="#222">10</text>
<line x1="143.00" y1="503.30" x2="143.00" y2="505.80" stroke="#7a7a7a" stroke-width="1"/>
<text x="143.00" y="517.80" font-size="10.4" text-anchor="middle" fill="#222">20</text>
<line x1="215.00" y1="503.30" x2="215.00" y2="505.80" stroke="#7a7a7a" stroke-width="1"/>
<text x="215.00" y="517.80" font-size="10.4" text-anchor="middle" fill="#222">30</text>
<line x1="287.00" y1="503.30" x2="287.00" y2="505.80" stroke="#7a7a7a" stroke-width="1"/>
<text x="287.00" y="517.80" font-size="10.4" text-anchor="middle" fill="#222">40</text>
<text x="179.50" y="532.40" font-size="10.4" text-anchor="middle" fill="#222">Time (ns)</text>
<text x="29.00" y="431.00" font-size="10.4" text-anchor="middle" fill="#222" transform="rotate(-90 29.00 431.00)">Fluorescence Intensity</text>
<line x1="488.00" y1="308.70" x2="504.00" y2="308.70" stroke="#b2b2b2" stroke-width="1.0"/>
<text x="512.90" y="312.50" font-size="10.4" text-anchor="start" fill="#222">IRF</text>
<line x1="488.00" y1="328.25" x2="504.00" y2="328.25" stroke="#d9b26e" stroke-width="1.0"/>
<text x="512.90" y="332.05" font-size="10.4" text-anchor="start" fill="#222">No Enzyme</text>
<line x1="488.00" y1="347.80" x2="504.00" y2="347.80" stroke="#e2d9a6" stroke-width="1.0"/>
<text x="512.90" y="351.60" font-size="10.4" text-anchor="start" fill="#222">+ ΔTail</text>
<line x1="488.00" y1="367.35" x2="504.00" y2="367.35" stroke="#f2b2e2" stroke-width="1.0"/>
<text x="512.90" y="371.15" font-size="10.4" text-anchor="start" fill="#222">+ ΔTail, CTP 5′</text>
<line x1="488.00" y1="386.90" x2="504.00" y2="386.90" stroke="#b2ece6" stroke-width="1.0"/>
<text x="512.90" y="390.70" font-size="10.4" text-anchor="start" fill="#222">+ ΔTail, CTP 20′</text>
<line x1="488.00" y1="406.45" x2="504.00" y2="406.45" stroke="#b8def0" stroke-width="1.0"/>
<text x="512.90" y="410.25" font-size="10.4" text-anchor="start" fill="#222">+ ΔTail, CTP 40′</text>
<line x1="488.00" y1="426.00" x2="504.00" y2="426.00" stroke="#8ab2e8" stroke-width="1.0"/>
<text x="512.90" y="429.80" font-size="10.4" text-anchor="start" fill="#222">+ ΔTail, CTP 60′</text>
<line x1="488.00" y1="445.55" x2="504.00" y2="445.55" stroke="#5c5cd2" stroke-width="1.0"/>
<text x="512.90" y="449.35" font-size="10.4" text-anchor="start" fill="#222">+ ΔTail, CTP, ATP 75′</text>
<line x1="488.00" y1="465.10" x2="504.00" y2="465.10" stroke="#a474e2" stroke-width="1.0"/>
<text x="512.90" y="468.90" font-size="10.4" text-anchor="start" fill="#222">+ ΔTail, CTP, ATP 90′</text>
<polygon points="412.6,359.6 413.3,359.4 414.0,360.6 414.8,362.6 415.5,364.9 416.2,367.5 416.9,370.1 417.6,372.8 418.4,375.3 419.1,377.9 419.8,380.3 420.5,382.7 421.2,385.1 422.0,387.4 422.7,389.6 423.4,391.8 424.1,393.9 424.8,396.0 425.6,398.0 426.3,400.0 427.0,401.9 427.7,403.8 428.4,405.6 429.2,407.4 429.9,409.2 430.6,410.9 431.3,412.6 432.0,414.2 432.8,415.8 433.5,417.4 434.2,418.9 434.9,420.4 435.6,421.9 436.4,423.3 437.1,424.7 437.8,426.1 438.5,427.4 439.2,428.7 440.0,430.0 440.7,431.3 441.4,432.5 442.1,433.7 442.8,434.9 443.6,436.0 444.3,437.1 445.0,438.2 445.7,439.3 446.4,440.4 447.2,441.4 447.9,442.4 448.6,443.4 449.3,444.4 450.0,445.3 450.8,446.3 451.5,447.2 452.2,448.1 452.9,448.9 453.6,449.8 454.4,450.6 455.1,451.4 455.8,452.3 456.5,453.0 457.2,453.8 458.0,454.6 458.7,455.3 459.4,456.1 460.1,456.8 460.8,457.5 461.6,458.2 462.3,458.8 463.0,459.5 463.7,460.2 464.4,460.8 465.2,461.4 465.9,462.0 466.6,462.7 467.3,463.2 468.0,463.8 468.8,464.4 469.5,465.0 470.2,465.5 470.9,466.1 471.6,466.6 472.4,467.1 473.1,467.6 473.8,468.1 474.5,468.6 475.2,469.1 476.0,469.6 476.7,470.1 477.4,470.5 478.1,471.0 478.8,471.4 479.6,471.9 480.3,472.3 481.0,472.7 481.7,473.1 482.4,473.6 483.2,474.0 483.9,474.4 484.6,474.7 485.3,475.1 486.0,475.5 486.8,475.9 487.5,476.3 488.2,476.6 488.9,477.0 489.6,477.3 490.4,477.7 491.1,478.0 491.8,478.3 492.5,478.7 493.2,479.0 494.0,479.3 494.7,479.6 495.4,479.9 496.1,480.2 496.8,480.5 497.6,480.8 498.3,481.1 499.0,481.4 499.7,481.7 500.4,481.9 501.2,482.2 501.9,482.5 502.6,482.8 503.3,483.0 504.0,483.3 504.8,483.5 505.5,483.8 506.2,484.0 506.9,484.3 507.6,484.5 508.4,484.7 509.1,485.0 509.8,485.2 510.5,485.4 511.2,485.6 512.0,485.9 512.7,486.1 513.4,486.3 514.1,486.5 514.8,486.7 515.6,486.9 516.3,487.1 517.0,487.3 517.7,487.5 518.4,487.7 519.2,487.9 519.9,488.1 520.6,488.3 521.3,488.5 522.0,488.6 522.8,488.8 523.5,489.0 524.2,489.2 524.9,489.3 525.6,489.5 526.4,489.7 527.1,489.8 527.8,490.0 528.5,490.2 529.2,490.3 530.0,490.5 530.7,490.6 531.4,490.8 532.1,490.9 532.8,491.1 533.6,491.2 534.3,491.4 535.0,491.5 535.7,491.6 536.4,491.8 537.2,491.9 537.9,492.1 538.6,492.2 539.3,492.3 540.0,492.5 540.8,492.6 541.5,492.7 542.2,492.8 542.9,493.0 543.6,493.1 544.4,493.2 545.1,493.3 545.8,493.4 546.5,493.6 547.2,493.7 548.0,493.8 548.7,493.9 549.4,494.0 550.1,494.1 550.8,494.2 551.6,494.3 552.3,494.4 553.0,494.5 553.7,494.6 554.4,494.7 555.2,494.8 555.9,494.9 556.6,495.0 557.3,495.1 558.0,495.2 558.8,495.3 559.5,495.4 560.2,495.5 560.9,495.6 561.6,495.7 562.4,495.8 563.1,495.9 563.8,495.9 564.5,496.0 565.2,496.1 566.0,496.2 566.7,496.3 567.4,496.4 568.1,496.4 568.8,496.5 569.6,496.6 570.3,496.7 571.0,496.8 571.7,496.8 572.4,496.9 573.2,497.0 573.9,497.1 574.6,497.1 575.3,497.2 576.0,497.3 576.8,497.3 577.5,497.4 578.2,497.5 578.9,497.5 579.6,497.6 580.4,497.7 581.1,497.7 581.8,497.8 582.5,497.9 583.2,497.9 584.0,498.0 584.7,498.0 585.4,498.1 586.1,498.2 586.8,498.2 587.6,498.3 588.3,498.3 589.0,498.4 589.7,498.5 590.4,498.5 591.2,498.6 591.9,498.6 592.6,498.7 593.3,498.7 594.0,498.8 594.8,498.8 595.5,498.9 596.2,498.9 596.9,499.0 597.6,499.0 598.4,499.1 599.1,499.1 599.8,499.2 600.5,499.2 601.2,499.3 602.0,499.3 602.7,499.4 603.4,499.4 604.1,499.5 604.8,499.5 605.6,499.5 606.3,499.6 607.0,499.6 607.0,500.1 606.3,500.1 605.6,500.1 604.8,500.0 604.1,500.0 603.4,500.0 602.7,500.0 602.0,499.9 601.2,499.9 600.5,499.9 599.8,499.9 599.1,499.8 598.4,499.8 597.6,499.8 596.9,499.8 596.2,499.7 595.5,499.7 594.8,499.7 594.0,499.7 593.3,499.6 592.6,499.6 591.9,499.6 591.2,499.6 590.4,499.5 589.7,499.5 589.0,499.5 588.3,499.4 587.6,499.4 586.8,499.4 586.1,499.4 585.4,499.3 584.7,499.3 584.0,499.3 583.2,499.2 582.5,499.2 581.8,499.2 581.1,499.1 580.4,499.1 579.6,499.1 578.9,499.0 578.2,499.0 577.5,499.0 576.8,498.9 576.0,498.9 575.3,498.9 574.6,498.8 573.9,498.8 573.2,498.8 572.4,498.7 571.7,498.7 571.0,498.7 570.3,498.6 569.6,498.6 568.8,498.6 568.1,498.5 567.4,498.5 566.7,498.5 566.0,498.4 565.2,498.4 564.5,498.3 563.8,498.3 563.1,498.3 562.4,498.2 561.6,498.2 560.9,498.1 560.2,498.1 559.5,498.1 558.8,498.0 558.0,498.0 557.3,497.9 556.6,497.9 555.9,497.8 555.2,497.8 554.4,497.8 553.7,497.7 553.0,497.7 552.3,497.6 551.6,497.6 550.8,497.5 550.1,497.5 549.4,497.4 548.7,497.4 548.0,497.3 547.2,497.3 546.5,497.2 545.8,497.2 545.1,497.1 544.4,497.1 543.6,497.0 542.9,497.0 542.2,496.9 541.5,496.9 540.8,496.8 540.0,496.7 539.3,496.7 538.6,496.6 537.9,496.6 537.2,496.5 536.4,496.4 535.7,496.4 535.0,496.3 534.3,496.3 533.6,496.2 532.8,496.1 532.1,496.1 531.4,496.0 530.7,495.9 530.0,495.9 529.2,495.8 528.5,495.7 527.8,495.7 527.1,495.6 526.4,495.5 525.6,495.4 524.9,495.4 524.2,495.3 523.5,495.2 522.8,495.1 522.0,495.0 521.3,495.0 520.6,494.9 519.9,494.8 519.2,494.7 518.4,494.6 517.7,494.5 517.0,494.4 516.3,494.3 515.6,494.2 514.8,494.1 514.1,494.0 513.4,493.9 512.7,493.8 512.0,493.7 511.2,493.6 510.5,493.5 509.8,493.4 509.1,493.3 508.4,493.2 507.6,493.1 506.9,493.0 506.2,492.8 505.5,492.7 504.8,492.6 504.0,492.5 503.3,492.3 502.6,492.2 501.9,492.1 501.2,491.9 500.4,491.8 499.7,491.6 499.0,491.5 498.3,491.3 497.6,491.2 496.8,491.0 496.1,490.9 495.4,490.7 494.7,490.5 494.0,490.4 493.2,490.2 492.5,490.0 491.8,489.8 491.1,489.6 490.4,489.4 489.6,489.3 488.9,489.0 488.2,488.8 487.5,488.6 486.8,488.4 486.0,488.2 485.3,488.0 484.6,487.7 483.9,487.5 483.2,487.2 482.4,487.0 481.7,486.7 481.0,486.5 480.3,486.2 479.6,485.9 478.8,485.6 478.1,485.4 477.4,485.1 476.7,484.7 476.0,484.4 475.2,484.1 474.5,483.8 473.8,483.4 473.1,483.1 472.4,482.7 471.6,482.4 470.9,482.0 470.2,481.6 469.5,481.2 468.8,480.8 468.0,480.3 467.3,479.9 466.6,479.5 465.9,479.0 465.2,478.5 464.4,478.0 463.7,477.5 463.0,477.0 462.3,476.5 461.6,476.0 460.8,475.4 460.1,474.8 459.4,474.2 458.7,473.6 458.0,473.0 457.2,472.4 456.5,471.7 455.8,471.0 455.1,470.3 454.4,469.6 453.6,468.8 452.9,468.1 452.2,467.3 451.5,466.5 450.8,465.6 450.0,464.8 449.3,463.9 448.6,463.0 447.9,462.0 447.2,461.0 446.4,460.0 445.7,459.0 445.0,457.9 444.3,456.8 443.6,455.7 442.8,454.5 442.1,453.3 441.4,452.1 440.7,450.8 440.0,449.5 439.2,448.2 438.5,446.8 437.8,445.3 437.1,443.8 436.4,442.3 435.6,440.7 434.9,439.1 434.2,437.4 433.5,435.7 432.8,433.9 432.0,432.0 431.3,430.1 430.6,428.2 429.9,426.1 429.2,424.0 428.4,421.9 427.7,419.7 427.0,417.4 426.3,415.0 425.6,412.6 424.8,410.0 424.1,407.4 423.4,404.7 422.7,402.0 422.0,399.1 421.2,396.2 420.5,393.1 419.8,390.0 419.1,386.7 418.4,383.4 417.6,379.9 416.9,376.4 416.2,372.8 415.5,369.2 414.8,365.7 414.0,362.7 413.3,360.3 412.6,359.3" fill="#9fd0f2"/>
<polyline points="399.6,503.2 400.4,503.0 401.1,502.7 401.8,501.9 402.5,500.5 403.2,497.9 404.0,493.6 404.7,487.0 405.4,477.7 406.1,465.4 406.8,450.5 407.6,433.8 408.3,416.5 409.0,400.1 409.7,385.8 410.4,374.5 411.2,366.5 411.9,361.7 412.6,359.6 413.3,359.4 414.0,360.6 414.8,362.6 415.5,364.9 416.2,367.5 416.9,370.1 417.6,372.8 418.4,375.3 419.1,377.9 419.8,380.3 420.5,382.7 421.2,385.1 422.0,387.4 422.7,389.6 423.4,391.8 424.1,393.9 424.8,396.0 425.6,398.0 426.3,400.0 427.0,401.9 427.7,403.8 428.4,405.6 429.2,407.4 429.9,409.2 430.6,410.9 431.3,412.6 432.0,414.2 432.8,415.8 433.5,417.4 434.2,418.9 434.9,420.4 435.6,421.9 436.4,423.3 437.1,424.7 437.8,426.1 438.5,427.4 439.2,428.7 440.0,430.0 440.7,431.3 441.4,432.5 442.1,433.7 442.8,434.9 443.6,436.0 444.3,437.1 445.0,438.2 445.7,439.3 446.4,440.4 447.2,441.4 447.9,442.4 448.6,443.4 449.3,444.4 450.0,445.3 450.8,446.3 451.5,447.2 452.2,448.1 452.9,448.9 453.6,449.8 454.4,450.6 455.1,451.4 455.8,452.3 456.5,453.0 457.2,453.8 458.0,454.6 458.7,455.3 459.4,456.1 460.1,456.8 460.8,457.5 461.6,458.2 462.3,458.8 463.0,459.5 463.7,460.2 464.4,460.8 465.2,461.4 465.9,462.0 466.6,462.7 467.3,463.2 468.0,463.8 468.8,464.4 469.5,465.0 470.2,465.5 470.9,466.1 471.6,466.6 472.4,467.1 473.1,467.6 473.8,468.1 474.5,468.6 475.2,469.1 476.0,469.6 476.7,470.1 477.4,470.5 478.1,471.0 478.8,471.4 479.6,471.9 480.3,472.3 481.0,472.7 481.7,473.1 482.4,473.6 483.2,474.0 483.9,474.4 484.6,474.7 485.3,475.1 486.0,475.5 486.8,475.9 487.5,476.3 488.2,476.6 488.9,477.0 489.6,477.3 490.4,477.7 491.1,478.0 491.8,478.3 492.5,478.7 493.2,479.0 494.0,479.3 494.7,479.6 495.4,479.9 496.1,480.2 496.8,480.5 497.6,480.8 498.3,481.1 499.0,481.4 499.7,481.7 500.4,481.9 501.2,482.2 501.9,482.5 502.6,482.8 503.3,483.0 504.0,483.3 504.8,483.5 505.5,483.8 506.2,484.0 506.9,484.3 507.6,484.5 508.4,484.7 509.1,485.0 509.8,485.2 510.5,485.4 511.2,485.6 512.0,485.9 512.7,486.1 513.4,486.3 514.1,486.5 514.8,486.7 515.6,486.9 516.3,487.1 517.0,487.3 517.7,487.5 518.4,487.7 519.2,487.9 519.9,488.1 520.6,488.3 521.3,488.5 522.0,488.6 522.8,488.8 523.5,489.0 524.2,489.2 524.9,489.3 525.6,489.5 526.4,489.7 527.1,489.8 527.8,490.0 528.5,490.2 529.2,490.3 530.0,490.5 530.7,490.6 531.4,490.8 532.1,490.9 532.8,491.1 533.6,491.2 534.3,491.4 535.0,491.5 535.7,491.6 536.4,491.8 537.2,491.9 537.9,492.1 538.6,492.2 539.3,492.3 540.0,492.5 540.8,492.6 541.5,492.7 542.2,492.8 542.9,493.0 543.6,493.1 544.4,493.2 545.1,493.3 545.8,493.4 546.5,493.6 547.2,493.7 548.0,493.8 548.7,493.9 549.4,494.0 550.1,494.1 550.8,494.2 551.6,494.3 552.3,494.4 553.0,494.5 553.7,494.6 554.4,494.7 555.2,494.8 555.9,494.9 556.6,495.0 557.3,495.1 558.0,495.2 558.8,495.3 559.5,495.4 560.2,495.5 560.9,495.6 561.6,495.7 562.4,495.8 563.1,495.9 563.8,495.9 564.5,496.0 565.2,496.1 566.0,496.2 566.7,496.3 567.4,496.4 568.1,496.4 568.8,496.5 569.6,496.6 570.3,496.7 571.0,496.8 571.7,496.8 572.4,496.9 573.2,497.0 573.9,497.1 574.6,497.1 575.3,497.2 576.0,497.3 576.8,497.3 577.5,497.4 578.2,497.5 578.9,497.5 579.6,497.6 580.4,497.7 581.1,497.7 581.8,497.8 582.5,497.9 583.2,497.9 584.0,498.0 584.7,498.0 585.4,498.1 586.1,498.2 586.8,498.2 587.6,498.3 588.3,498.3 589.0,498.4 589.7,498.5 590.4,498.5 591.2,498.6 591.9,498.6 592.6,498.7 593.3,498.7 594.0,498.8 594.8,498.8 595.5,498.9 596.2,498.9 596.9,499.0 597.6,499.0 598.4,499.1 599.1,499.1 599.8,499.2 600.5,499.2 601.2,499.3 602.0,499.3 602.7,499.4 603.4,499.4 604.1,499.5 604.8,499.5 605.6,499.5 606.3,499.6 607.0,499.6" fill="none" stroke="#a468d8" stroke-width="3.2" stroke-linejoin="round"/>
<polyline points="399.6,503.2 400.4,503.0 401.1,502.7 401.8,501.9 402.5,500.5 403.2,497.9 404.0,493.6 404.7,487.0 405.4,477.7 406.1,465.4 406.8,450.5 407.6,433.7 408.3,416.4 409.0,400.0 409.7,385.7 410.4,374.4 411.2,366.5 411.9,361.7 412.6,359.6 413.3,359.4 414.0,360.6 414.8,362.6 415.5,365.0 416.2,367.6 416.9,370.2 417.6,372.8 418.4,375.4 419.1,377.9 419.8,380.4 420.5,382.8 421.2,385.2 422.0,387.5 422.7,389.7 423.4,391.9 424.1,394.0 424.8,396.1 425.6,398.1 426.3,400.1 427.0,402.1 427.7,404.0 428.4,405.8 429.2,407.6 429.9,409.4 430.6,411.1 431.3,412.8 432.0,414.4 432.8,416.0 433.5,417.6 434.2,419.1 434.9,420.6 435.6,422.1 436.4,423.5 437.1,424.9 437.8,426.3 438.5,427.6 439.2,428.9 440.0,430.2 440.7,431.5 441.4,432.7 442.1,433.9 442.8,435.1 443.6,436.2 444.3,437.3 445.0,438.4 445.7,439.5 446.4,440.6 447.2,441.6 447.9,442.6 448.6,443.6 449.3,444.6 450.0,445.5 450.8,446.4 451.5,447.4 452.2,448.2 452.9,449.1 453.6,450.0 454.4,450.8 455.1,451.6 455.8,452.4 456.5,453.2 457.2,454.0 458.0,454.8 458.7,455.5 459.4,456.2 460.1,457.0 460.8,457.7 461.6,458.3 462.3,459.0 463.0,459.7 463.7,460.3 464.4,461.0 465.2,461.6 465.9,462.2 466.6,462.8 467.3,463.4 468.0,464.0 468.8,464.6 469.5,465.1 470.2,465.7 470.9,466.2 471.6,466.7 472.4,467.3 473.1,467.8 473.8,468.3 474.5,468.8 475.2,469.3 476.0,469.7 476.7,470.2 477.4,470.7 478.1,471.1 478.8,471.6 479.6,472.0 480.3,472.4 481.0,472.9 481.7,473.3 482.4,473.7 483.2,474.1 483.9,474.5 484.6,474.9 485.3,475.3 486.0,475.6 486.8,476.0 487.5,476.4 488.2,476.7 488.9,477.1 489.6,477.4 490.4,477.8 491.1,478.1 491.8,478.4 492.5,478.8 493.2,479.1 494.0,479.4 494.7,479.7 495.4,480.0 496.1,480.3 496.8,480.6 497.6,480.9 498.3,481.2 499.0,481.5 499.7,481.8 500.4,482.0 501.2,482.3 501.9,482.6 502.6,482.8 503.3,483.1 504.0,483.4 504.8,483.6 505.5,483.9 506.2,484.1 506.9,484.3 507.6,484.6 508.4,484.8 509.1,485.1 509.8,485.3 510.5,485.5 511.2,485.7 512.0,485.9 512.7,486.2 513.4,486.4 514.1,486.6 514.8,486.8 515.6,487.0 516.3,487.2 517.0,487.4 517.7,487.6 518.4,487.8 519.2,488.0 519.9,488.2 520.6,488.3 521.3,488.5 522.0,488.7 522.8,488.9 523.5,489.1 524.2,489.2 524.9,489.4 525.6,489.6 526.4,489.7 527.1,489.9 527.8,490.1 528.5,490.2 529.2,490.4 530.0,490.5 530.7,490.7 531.4,490.8 532.1,491.0 532.8,491.1 533.6,491.3 534.3,491.4 535.0,491.6 535.7,491.7 536.4,491.8 537.2,492.0 537.9,492.1 538.6,492.2 539.3,492.4 540.0,492.5 540.8,492.6 541.5,492.8 542.2,492.9 542.9,493.0 543.6,493.1 544.4,493.2 545.1,493.4 545.8,493.5 546.5,493.6 547.2,493.7 548.0,493.8 548.7,493.9 549.4,494.0 550.1,494.1 550.8,494.3 551.6,494.4 552.3,494.5 553.0,494.6 553.7,494.7 554.4,494.8 555.2,494.9 555.9,495.0 556.6,495.1 557.3,495.2 558.0,495.3 558.8,495.3 559.5,495.4 560.2,495.5 560.9,495.6 561.6,495.7 562.4,495.8 563.1,495.9 563.8,496.0 564.5,496.1 565.2,496.1 566.0,496.2 566.7,496.3 567.4,496.4 568.1,496.5 568.8,496.5 569.6,496.6 570.3,496.7 571.0,496.8 571.7,496.9 572.4,496.9 573.2,497.0 573.9,497.1 574.6,497.1 575.3,497.2 576.0,497.3 576.8,497.4 577.5,497.4 578.2,497.5 578.9,497.6 579.6,497.6 580.4,497.7 581.1,497.8 581.8,497.8 582.5,497.9 583.2,497.9 584.0,498.0 584.7,498.1 585.4,498.1 586.1,498.2 586.8,498.2 587.6,498.3 588.3,498.4 589.0,498.4 589.7,498.5 590.4,498.5 591.2,498.6 591.9,498.6 592.6,498.7 593.3,498.7 594.0,498.8 594.8,498.8 595.5,498.9 596.2,498.9 596.9,499.0 597.6,499.0 598.4,499.1 599.1,499.1 599.8,499.2 600.5,499.2 601.2,499.3 602.0,499.3 602.7,499.4 603.4,499.4 604.1,499.5 604.8,499.5 605.6,499.5 606.3,499.6 607.0,499.6" fill="none" stroke="#4a6ee0" stroke-width="3.2" stroke-linejoin="round"/>
<polyline points="399.6,503.2 400.4,503.0 401.1,502.7 401.8,501.9 402.5,500.5 403.2,497.9 404.0,493.6 404.7,486.9 405.4,477.5 406.1,465.2 406.8,450.2 407.6,433.5 408.3,416.2 409.0,399.7 409.7,385.5 410.4,374.2 411.2,366.3 411.9,361.6 412.6,359.6 413.3,359.5 414.0,360.7 414.8,362.8 415.5,365.2 416.2,367.9 416.9,370.6 417.6,373.3 418.4,375.9 419.1,378.5 419.8,381.0 420.5,383.4 421.2,385.8 422.0,388.2 422.7,390.5 423.4,392.7 424.1,394.8 424.8,397.0 425.6,399.0 426.3,401.0 427.0,403.0 427.7,404.9 428.4,406.8 429.2,408.6 429.9,410.4 430.6,412.1 431.3,413.8 432.0,415.5 432.8,417.1 433.5,418.7 434.2,420.2 434.9,421.7 435.6,423.2 436.4,424.7 437.1,426.1 437.8,427.4 438.5,428.8 439.2,430.1 440.0,431.4 440.7,432.6 441.4,433.9 442.1,435.1 442.8,436.2 443.6,437.4 444.3,438.5 445.0,439.6 445.7,440.7 446.4,441.7 447.2,442.8 447.9,443.8 448.6,444.8 449.3,445.7 450.0,446.7 450.8,447.6 451.5,448.5 452.2,449.4 452.9,450.3 453.6,451.1 454.4,452.0 455.1,452.8 455.8,453.6 456.5,454.4 457.2,455.1 458.0,455.9 458.7,456.6 459.4,457.3 460.1,458.0 460.8,458.7 461.6,459.4 462.3,460.1 463.0,460.7 463.7,461.4 464.4,462.0 465.2,462.6 465.9,463.2 466.6,463.8 467.3,464.4 468.0,465.0 468.8,465.5 469.5,466.1 470.2,466.6 470.9,467.2 471.6,467.7 472.4,468.2 473.1,468.7 473.8,469.2 474.5,469.7 475.2,470.2 476.0,470.6 476.7,471.1 477.4,471.5 478.1,472.0 478.8,472.4 479.6,472.9 480.3,473.3 481.0,473.7 481.7,474.1 482.4,474.5 483.2,474.9 483.9,475.3 484.6,475.7 485.3,476.0 486.0,476.4 486.8,476.8 487.5,477.1 488.2,477.5 488.9,477.8 489.6,478.2 490.4,478.5 491.1,478.8 491.8,479.1 492.5,479.5 493.2,479.8 494.0,480.1 494.7,480.4 495.4,480.7 496.1,481.0 496.8,481.3 497.6,481.5 498.3,481.8 499.0,482.1 499.7,482.4 500.4,482.6 501.2,482.9 501.9,483.2 502.6,483.4 503.3,483.7 504.0,483.9 504.8,484.2 505.5,484.4 506.2,484.6 506.9,484.9 507.6,485.1 508.4,485.3 509.1,485.6 509.8,485.8 510.5,486.0 511.2,486.2 512.0,486.4 512.7,486.6 513.4,486.8 514.1,487.0 514.8,487.2 515.6,487.4 516.3,487.6 517.0,487.8 517.7,488.0 518.4,488.2 519.2,488.4 519.9,488.6 520.6,488.7 521.3,488.9 522.0,489.1 522.8,489.3 523.5,489.4 524.2,489.6 524.9,489.8 525.6,489.9 526.4,490.1 527.1,490.2 527.8,490.4 528.5,490.5 529.2,490.7 530.0,490.8 530.7,491.0 531.4,491.1 532.1,491.3 532.8,491.4 533.6,491.6 534.3,491.7 535.0,491.8 535.7,492.0 536.4,492.1 537.2,492.2 537.9,492.4 538.6,492.5 539.3,492.6 540.0,492.8 540.8,492.9 541.5,493.0 542.2,493.1 542.9,493.2 543.6,493.4 544.4,493.5 545.1,493.6 545.8,493.7 546.5,493.8 547.2,493.9 548.0,494.0 548.7,494.1 549.4,494.2 550.1,494.3 550.8,494.5 551.6,494.6 552.3,494.7 553.0,494.8 553.7,494.9 554.4,495.0 555.2,495.0 555.9,495.1 556.6,495.2 557.3,495.3 558.0,495.4 558.8,495.5 559.5,495.6 560.2,495.7 560.9,495.8 561.6,495.9 562.4,495.9 563.1,496.0 563.8,496.1 564.5,496.2 565.2,496.3 566.0,496.4 566.7,496.4 567.4,496.5 568.1,496.6 568.8,496.7 569.6,496.7 570.3,496.8 571.0,496.9 571.7,497.0 572.4,497.0 573.2,497.1 573.9,497.2 574.6,497.2 575.3,497.3 576.0,497.4 576.8,497.4 577.5,497.5 578.2,497.6 578.9,497.6 579.6,497.7 580.4,497.8 581.1,497.8 581.8,497.9 582.5,498.0 583.2,498.0 584.0,498.1 584.7,498.1 585.4,498.2 586.1,498.3 586.8,498.3 587.6,498.4 588.3,498.4 589.0,498.5 589.7,498.5 590.4,498.6 591.2,498.6 591.9,498.7 592.6,498.7 593.3,498.8 594.0,498.8 594.8,498.9 595.5,498.9 596.2,499.0 596.9,499.0 597.6,499.1 598.4,499.1 599.1,499.2 599.8,499.2 600.5,499.3 601.2,499.3 602.0,499.4 602.7,499.4 603.4,499.4 604.1,499.5 604.8,499.5 605.6,499.6 606.3,499.6 607.0,499.7" fill="none" stroke="#5a94ee" stroke-width="3.0" stroke-linejoin="round"/>
<polyline points="399.6,503.2 400.4,503.0 401.1,502.7 401.8,501.9 402.5,500.4 403.2,497.7 404.0,493.2 404.7,486.5 405.4,476.9 406.1,464.3 406.8,449.1 407.6,432.2 408.3,414.8 409.0,398.4 409.7,384.2 410.4,373.2 411.2,365.6 411.9,361.2 412.6,359.5 413.3,359.8 414.0,361.4 414.8,363.8 415.5,366.6 416.2,369.5 416.9,372.5 417.6,375.5 418.4,378.4 419.1,381.2 419.8,384.0 420.5,386.7 421.2,389.3 422.0,391.8 422.7,394.3 423.4,396.7 424.1,399.0 424.8,401.3 425.6,403.5 426.3,405.7 427.0,407.8 427.7,409.8 428.4,411.8 429.2,413.7 429.9,415.6 430.6,417.5 431.3,419.3 432.0,421.0 432.8,422.7 433.5,424.3 434.2,426.0 434.9,427.5 435.6,429.0 436.4,430.5 437.1,432.0 437.8,433.4 438.5,434.8 439.2,436.1 440.0,437.4 440.7,438.7 441.4,439.9 442.1,441.2 442.8,442.3 443.6,443.5 444.3,444.6 445.0,445.7 445.7,446.8 446.4,447.8 447.2,448.9 447.9,449.9 448.6,450.8 449.3,451.8 450.0,452.7 450.8,453.6 451.5,454.5 452.2,455.4 452.9,456.2 453.6,457.0 454.4,457.8 455.1,458.6 455.8,459.4 456.5,460.1 457.2,460.9 458.0,461.6 458.7,462.3 459.4,463.0 460.1,463.6 460.8,464.3 461.6,464.9 462.3,465.6 463.0,466.2 463.7,466.8 464.4,467.4 465.2,467.9 465.9,468.5 466.6,469.0 467.3,469.6 468.0,470.1 468.8,470.6 469.5,471.1 470.2,471.6 470.9,472.1 471.6,472.6 472.4,473.0 473.1,473.5 473.8,473.9 474.5,474.4 475.2,474.8 476.0,475.2 476.7,475.6 477.4,476.0 478.1,476.4 478.8,476.8 479.6,477.2 480.3,477.6 481.0,478.0 481.7,478.3 482.4,478.7 483.2,479.0 483.9,479.3 484.6,479.7 485.3,480.0 486.0,480.3 486.8,480.6 487.5,481.0 488.2,481.3 488.9,481.6 489.6,481.9 490.4,482.1 491.1,482.4 491.8,482.7 492.5,483.0 493.2,483.2 494.0,483.5 494.7,483.8 495.4,484.0 496.1,484.3 496.8,484.5 497.6,484.8 498.3,485.0 499.0,485.2 499.7,485.5 500.4,485.7 501.2,485.9 501.9,486.1 502.6,486.3 503.3,486.6 504.0,486.8 504.8,487.0 505.5,487.2 506.2,487.4 506.9,487.6 507.6,487.8 508.4,488.0 509.1,488.1 509.8,488.3 510.5,488.5 511.2,488.7 512.0,488.9 512.7,489.0 513.4,489.2 514.1,489.4 514.8,489.5 515.6,489.7 516.3,489.9 517.0,490.0 517.7,490.2 518.4,490.3 519.2,490.5 519.9,490.6 520.6,490.8 521.3,490.9 522.0,491.1 522.8,491.2 523.5,491.3 524.2,491.5 524.9,491.6 525.6,491.8 526.4,491.9 527.1,492.0 527.8,492.1 528.5,492.3 529.2,492.4 530.0,492.5 530.7,492.6 531.4,492.8 532.1,492.9 532.8,493.0 533.6,493.1 534.3,493.2 535.0,493.3 535.7,493.4 536.4,493.6 537.2,493.7 537.9,493.8 538.6,493.9 539.3,494.0 540.0,494.1 540.8,494.2 541.5,494.3 542.2,494.4 542.9,494.5 543.6,494.6 544.4,494.7 545.1,494.8 545.8,494.9 546.5,494.9 547.2,495.0 548.0,495.1 548.7,495.2 549.4,495.3 550.1,495.4 550.8,495.5 551.6,495.6 552.3,495.6 553.0,495.7 553.7,495.8 554.4,495.9 555.2,496.0 555.9,496.0 556.6,496.1 557.3,496.2 558.0,496.3 558.8,496.3 559.5,496.4 560.2,496.5 560.9,496.6 561.6,496.6 562.4,496.7 563.1,496.8 563.8,496.8 564.5,496.9 565.2,497.0 566.0,497.0 566.7,497.1 567.4,497.2 568.1,497.2 568.8,497.3 569.6,497.4 570.3,497.4 571.0,497.5 571.7,497.5 572.4,497.6 573.2,497.7 573.9,497.7 574.6,497.8 575.3,497.8 576.0,497.9 576.8,497.9 577.5,498.0 578.2,498.1 578.9,498.1 579.6,498.2 580.4,498.2 581.1,498.3 581.8,498.3 582.5,498.4 583.2,498.4 584.0,498.5 584.7,498.5 585.4,498.6 586.1,498.6 586.8,498.7 587.6,498.7 588.3,498.8 589.0,498.8 589.7,498.9 590.4,498.9 591.2,498.9 591.9,499.0 592.6,499.0 593.3,499.1 594.0,499.1 594.8,499.2 595.5,499.2 596.2,499.2 596.9,499.3 597.6,499.3 598.4,499.4 599.1,499.4 599.8,499.4 600.5,499.5 601.2,499.5 602.0,499.6 602.7,499.6 603.4,499.6 604.1,499.7 604.8,499.7 605.6,499.7 606.3,499.8 607.0,499.8" fill="none" stroke="#a8def6" stroke-width="2.6" stroke-linejoin="round"/>
<polyline points="399.6,503.2 400.4,503.0 401.1,502.6 401.8,501.9 402.5,500.3 403.2,497.6 404.0,493.1 404.7,486.3 405.4,476.6 406.1,463.9 406.8,448.7 407.6,431.7 408.3,414.2 409.0,397.8 409.7,383.7 410.4,372.7 411.2,365.3 411.9,361.0 412.6,359.4 413.3,359.9 414.0,361.6 414.8,364.2 415.5,367.1 416.2,370.2 416.9,373.3 417.6,376.4 418.4,379.4 419.1,382.3 419.8,385.1 420.5,387.9 421.2,390.6 422.0,393.2 422.7,395.8 423.4,398.3 424.1,400.7 424.8,403.0 425.6,405.3 426.3,407.5 427.0,409.6 427.7,411.7 428.4,413.8 429.2,415.7 429.9,417.7 430.6,419.5 431.3,421.4 432.0,423.1 432.8,424.9 433.5,426.5 434.2,428.2 434.9,429.8 435.6,431.3 436.4,432.8 437.1,434.3 437.8,435.7 438.5,437.1 439.2,438.4 440.0,439.8 440.7,441.1 441.4,442.3 442.1,443.5 442.8,444.7 443.6,445.9 444.3,447.0 445.0,448.1 445.7,449.2 446.4,450.2 447.2,451.2 447.9,452.2 448.6,453.2 449.3,454.1 450.0,455.0 450.8,455.9 451.5,456.8 452.2,457.7 452.9,458.5 453.6,459.3 454.4,460.1 455.1,460.9 455.8,461.6 456.5,462.4 457.2,463.1 458.0,463.8 458.7,464.5 459.4,465.1 460.1,465.8 460.8,466.4 461.6,467.1 462.3,467.7 463.0,468.3 463.7,468.9 464.4,469.4 465.2,470.0 465.9,470.5 466.6,471.1 467.3,471.6 468.0,472.1 468.8,472.6 469.5,473.1 470.2,473.5 470.9,474.0 471.6,474.5 472.4,474.9 473.1,475.4 473.8,475.8 474.5,476.2 475.2,476.6 476.0,477.0 476.7,477.4 477.4,477.8 478.1,478.2 478.8,478.5 479.6,478.9 480.3,479.3 481.0,479.6 481.7,479.9 482.4,480.3 483.2,480.6 483.9,480.9 484.6,481.2 485.3,481.5 486.0,481.9 486.8,482.1 487.5,482.4 488.2,482.7 488.9,483.0 489.6,483.3 490.4,483.6 491.1,483.8 491.8,484.1 492.5,484.3 493.2,484.6 494.0,484.8 494.7,485.1 495.4,485.3 496.1,485.5 496.8,485.8 497.6,486.0 498.3,486.2 499.0,486.4 499.7,486.7 500.4,486.9 501.2,487.1 501.9,487.3 502.6,487.5 503.3,487.7 504.0,487.9 504.8,488.1 505.5,488.2 506.2,488.4 506.9,488.6 507.6,488.8 508.4,489.0 509.1,489.1 509.8,489.3 510.5,489.5 511.2,489.6 512.0,489.8 512.7,490.0 513.4,490.1 514.1,490.3 514.8,490.4 515.6,490.6 516.3,490.7 517.0,490.9 517.7,491.0 518.4,491.2 519.2,491.3 519.9,491.4 520.6,491.6 521.3,491.7 522.0,491.8 522.8,492.0 523.5,492.1 524.2,492.2 524.9,492.3 525.6,492.5 526.4,492.6 527.1,492.7 527.8,492.8 528.5,492.9 529.2,493.1 530.0,493.2 530.7,493.3 531.4,493.4 532.1,493.5 532.8,493.6 533.6,493.7 534.3,493.8 535.0,493.9 535.7,494.0 536.4,494.1 537.2,494.2 537.9,494.3 538.6,494.4 539.3,494.5 540.0,494.6 540.8,494.7 541.5,494.8 542.2,494.9 542.9,495.0 543.6,495.0 544.4,495.1 545.1,495.2 545.8,495.3 546.5,495.4 547.2,495.5 548.0,495.6 548.7,495.6 549.4,495.7 550.1,495.8 550.8,495.9 551.6,495.9 552.3,496.0 553.0,496.1 553.7,496.2 554.4,496.2 555.2,496.3 555.9,496.4 556.6,496.5 557.3,496.5 558.0,496.6 558.8,496.7 559.5,496.7 560.2,496.8 560.9,496.9 561.6,496.9 562.4,497.0 563.1,497.1 563.8,497.1 564.5,497.2 565.2,497.2 566.0,497.3 566.7,497.4 567.4,497.4 568.1,497.5 568.8,497.5 569.6,497.6 570.3,497.7 571.0,497.7 571.7,497.8 572.4,497.8 573.2,497.9 573.9,497.9 574.6,498.0 575.3,498.0 576.0,498.1 576.8,498.1 577.5,498.2 578.2,498.2 578.9,498.3 579.6,498.3 580.4,498.4 581.1,498.4 581.8,498.5 582.5,498.5 583.2,498.6 584.0,498.6 584.7,498.7 585.4,498.7 586.1,498.8 586.8,498.8 587.6,498.8 588.3,498.9 589.0,498.9 589.7,499.0 590.4,499.0 591.2,499.1 591.9,499.1 592.6,499.1 593.3,499.2 594.0,499.2 594.8,499.3 595.5,499.3 596.2,499.3 596.9,499.4 597.6,499.4 598.4,499.5 599.1,499.5 599.8,499.5 600.5,499.6 601.2,499.6 602.0,499.6 602.7,499.7 603.4,499.7 604.1,499.7 604.8,499.8 605.6,499.8 606.3,499.8 607.0,499.9" fill="none" stroke="#98e6dc" stroke-width="2.6" stroke-linejoin="round"/>
<polyline points="399.6,503.2 400.4,503.0 401.1,502.6 401.8,501.8 402.5,500.3 403.2,497.5 404.0,492.9 404.7,486.0 405.4,476.2 406.1,463.4 406.8,448.0 407.6,430.8 408.3,413.3 409.0,396.9 409.7,382.9 410.4,372.1 411.2,364.7 411.9,360.7 412.6,359.4 413.3,360.1 414.0,362.0 414.8,364.8 415.5,367.9 416.2,371.2 416.9,374.5 417.6,377.8 418.4,381.0 419.1,384.1 419.8,387.1 420.5,390.0 421.2,392.8 422.0,395.6 422.7,398.3 423.4,400.8 424.1,403.4 424.8,405.8 425.6,408.2 426.3,410.5 427.0,412.7 427.7,414.9 428.4,417.0 429.2,419.1 429.9,421.1 430.6,423.0 431.3,424.9 432.0,426.7 432.8,428.5 433.5,430.2 434.2,431.9 434.9,433.5 435.6,435.1 436.4,436.6 437.1,438.1 437.8,439.5 438.5,441.0 439.2,442.3 440.0,443.7 440.7,445.0 441.4,446.2 442.1,447.4 442.8,448.6 443.6,449.8 444.3,450.9 445.0,452.0 445.7,453.1 446.4,454.1 447.2,455.1 447.9,456.1 448.6,457.1 449.3,458.0 450.0,458.9 450.8,459.8 451.5,460.7 452.2,461.5 452.9,462.3 453.6,463.1 454.4,463.9 455.1,464.6 455.8,465.4 456.5,466.1 457.2,466.8 458.0,467.5 458.7,468.1 459.4,468.8 460.1,469.4 460.8,470.0 461.6,470.6 462.3,471.2 463.0,471.8 463.7,472.3 464.4,472.9 465.2,473.4 465.9,473.9 466.6,474.4 467.3,474.9 468.0,475.4 468.8,475.9 469.5,476.3 470.2,476.8 470.9,477.2 471.6,477.6 472.4,478.0 473.1,478.4 473.8,478.8 474.5,479.2 475.2,479.6 476.0,480.0 476.7,480.3 477.4,480.7 478.1,481.0 478.8,481.4 479.6,481.7 480.3,482.0 481.0,482.4 481.7,482.7 482.4,483.0 483.2,483.3 483.9,483.6 484.6,483.8 485.3,484.1 486.0,484.4 486.8,484.7 487.5,484.9 488.2,485.2 488.9,485.4 489.6,485.7 490.4,485.9 491.1,486.1 491.8,486.4 492.5,486.6 493.2,486.8 494.0,487.0 494.7,487.3 495.4,487.5 496.1,487.7 496.8,487.9 497.6,488.1 498.3,488.3 499.0,488.5 499.7,488.7 500.4,488.8 501.2,489.0 501.9,489.2 502.6,489.4 503.3,489.5 504.0,489.7 504.8,489.9 505.5,490.0 506.2,490.2 506.9,490.4 507.6,490.5 508.4,490.7 509.1,490.8 509.8,491.0 510.5,491.1 511.2,491.2 512.0,491.4 512.7,491.5 513.4,491.7 514.1,491.8 514.8,491.9 515.6,492.0 516.3,492.2 517.0,492.3 517.7,492.4 518.4,492.5 519.2,492.7 519.9,492.8 520.6,492.9 521.3,493.0 522.0,493.1 522.8,493.2 523.5,493.3 524.2,493.4 524.9,493.5 525.6,493.7 526.4,493.8 527.1,493.9 527.8,494.0 528.5,494.1 529.2,494.2 530.0,494.2 530.7,494.3 531.4,494.4 532.1,494.5 532.8,494.6 533.6,494.7 534.3,494.8 535.0,494.9 535.7,495.0 536.4,495.0 537.2,495.1 537.9,495.2 538.6,495.3 539.3,495.4 540.0,495.5 540.8,495.5 541.5,495.6 542.2,495.7 542.9,495.8 543.6,495.8 544.4,495.9 545.1,496.0 545.8,496.1 546.5,496.1 547.2,496.2 548.0,496.3 548.7,496.3 549.4,496.4 550.1,496.5 550.8,496.5 551.6,496.6 552.3,496.7 553.0,496.7 553.7,496.8 554.4,496.8 555.2,496.9 555.9,497.0 556.6,497.0 557.3,497.1 558.0,497.1 558.8,497.2 559.5,497.3 560.2,497.3 560.9,497.4 561.6,497.4 562.4,497.5 563.1,497.5 563.8,497.6 564.5,497.6 565.2,497.7 566.0,497.7 566.7,497.8 567.4,497.9 568.1,497.9 568.8,498.0 569.6,498.0 570.3,498.0 571.0,498.1 571.7,498.1 572.4,498.2 573.2,498.2 573.9,498.3 574.6,498.3 575.3,498.4 576.0,498.4 576.8,498.5 577.5,498.5 578.2,498.6 578.9,498.6 579.6,498.6 580.4,498.7 581.1,498.7 581.8,498.8 582.5,498.8 583.2,498.8 584.0,498.9 584.7,498.9 585.4,499.0 586.1,499.0 586.8,499.0 587.6,499.1 588.3,499.1 589.0,499.1 589.7,499.2 590.4,499.2 591.2,499.3 591.9,499.3 592.6,499.3 593.3,499.4 594.0,499.4 594.8,499.4 595.5,499.5 596.2,499.5 596.9,499.5 597.6,499.6 598.4,499.6 599.1,499.6 599.8,499.7 600.5,499.7 601.2,499.7 602.0,499.8 602.7,499.8 603.4,499.8 604.1,499.8 604.8,499.9 605.6,499.9 606.3,499.9 607.0,500.0" fill="none" stroke="#eeb0e0" stroke-width="2.6" stroke-linejoin="round"/>
<polyline points="399.6,503.2 400.4,503.0 401.1,502.6 401.8,501.8 402.5,500.2 403.2,497.3 404.0,492.7 404.7,485.6 405.4,475.6 406.1,462.6 406.8,447.1 407.6,429.8 408.3,412.2 409.0,395.8 409.7,381.8 410.4,371.2 411.2,364.1 411.9,360.4 412.6,359.3 413.3,360.3 414.0,362.6 414.8,365.6 415.5,369.0 416.2,372.5 416.9,376.1 417.6,379.6 418.4,383.0 419.1,386.3 419.8,389.5 420.5,392.6 421.2,395.6 422.0,398.5 422.7,401.4 423.4,404.1 424.1,406.8 424.8,409.3 425.6,411.8 426.3,414.2 427.0,416.6 427.7,418.9 428.4,421.1 429.2,423.2 429.9,425.3 430.6,427.3 431.3,429.2 432.0,431.1 432.8,433.0 433.5,434.7 434.2,436.5 434.9,438.1 435.6,439.8 436.4,441.3 437.1,442.9 437.8,444.4 438.5,445.8 439.2,447.2 440.0,448.5 440.7,449.8 441.4,451.1 442.1,452.4 442.8,453.6 443.6,454.7 444.3,455.9 445.0,456.9 445.7,458.0 446.4,459.0 447.2,460.1 447.9,461.0 448.6,462.0 449.3,462.9 450.0,463.8 450.8,464.7 451.5,465.5 452.2,466.3 452.9,467.1 453.6,467.9 454.4,468.6 455.1,469.4 455.8,470.1 456.5,470.8 457.2,471.4 458.0,472.1 458.7,472.7 459.4,473.3 460.1,473.9 460.8,474.5 461.6,475.1 462.3,475.6 463.0,476.2 463.7,476.7 464.4,477.2 465.2,477.7 465.9,478.2 466.6,478.6 467.3,479.1 468.0,479.5 468.8,480.0 469.5,480.4 470.2,480.8 470.9,481.2 471.6,481.6 472.4,481.9 473.1,482.3 473.8,482.7 474.5,483.0 475.2,483.4 476.0,483.7 476.7,484.0 477.4,484.3 478.1,484.6 478.8,484.9 479.6,485.2 480.3,485.5 481.0,485.8 481.7,486.1 482.4,486.3 483.2,486.6 483.9,486.8 484.6,487.1 485.3,487.3 486.0,487.6 486.8,487.8 487.5,488.0 488.2,488.2 488.9,488.4 489.6,488.7 490.4,488.9 491.1,489.1 491.8,489.3 492.5,489.4 493.2,489.6 494.0,489.8 494.7,490.0 495.4,490.2 496.1,490.3 496.8,490.5 497.6,490.7 498.3,490.8 499.0,491.0 499.7,491.1 500.4,491.3 501.2,491.4 501.9,491.6 502.6,491.7 503.3,491.9 504.0,492.0 504.8,492.1 505.5,492.3 506.2,492.4 506.9,492.5 507.6,492.7 508.4,492.8 509.1,492.9 509.8,493.0 510.5,493.1 511.2,493.2 512.0,493.3 512.7,493.5 513.4,493.6 514.1,493.7 514.8,493.8 515.6,493.9 516.3,494.0 517.0,494.1 517.7,494.2 518.4,494.3 519.2,494.4 519.9,494.4 520.6,494.5 521.3,494.6 522.0,494.7 522.8,494.8 523.5,494.9 524.2,495.0 524.9,495.1 525.6,495.1 526.4,495.2 527.1,495.3 527.8,495.4 528.5,495.4 529.2,495.5 530.0,495.6 530.7,495.7 531.4,495.7 532.1,495.8 532.8,495.9 533.6,495.9 534.3,496.0 535.0,496.1 535.7,496.1 536.4,496.2 537.2,496.3 537.9,496.3 538.6,496.4 539.3,496.5 540.0,496.5 540.8,496.6 541.5,496.6 542.2,496.7 542.9,496.8 543.6,496.8 544.4,496.9 545.1,496.9 545.8,497.0 546.5,497.0 547.2,497.1 548.0,497.1 548.7,497.2 549.4,497.3 550.1,497.3 550.8,497.4 551.6,497.4 552.3,497.5 553.0,497.5 553.7,497.6 554.4,497.6 555.2,497.6 555.9,497.7 556.6,497.7 557.3,497.8 558.0,497.8 558.8,497.9 559.5,497.9 560.2,498.0 560.9,498.0 561.6,498.1 562.4,498.1 563.1,498.1 563.8,498.2 564.5,498.2 565.2,498.3 566.0,498.3 566.7,498.3 567.4,498.4 568.1,498.4 568.8,498.5 569.6,498.5 570.3,498.5 571.0,498.6 571.7,498.6 572.4,498.7 573.2,498.7 573.9,498.7 574.6,498.8 575.3,498.8 576.0,498.8 576.8,498.9 577.5,498.9 578.2,498.9 578.9,499.0 579.6,499.0 580.4,499.0 581.1,499.1 581.8,499.1 582.5,499.1 583.2,499.2 584.0,499.2 584.7,499.2 585.4,499.3 586.1,499.3 586.8,499.3 587.6,499.4 588.3,499.4 589.0,499.4 589.7,499.4 590.4,499.5 591.2,499.5 591.9,499.5 592.6,499.6 593.3,499.6 594.0,499.6 594.8,499.6 595.5,499.7 596.2,499.7 596.9,499.7 597.6,499.8 598.4,499.8 599.1,499.8 599.8,499.8 600.5,499.9 601.2,499.9 602.0,499.9 602.7,499.9 603.4,500.0 604.1,500.0 604.8,500.0 605.6,500.0 606.3,500.1 607.0,500.1" fill="none" stroke="#ecc478" stroke-width="3.0" stroke-linejoin="round"/>
<polyline points="399.6,503.2 400.4,503.0 401.1,502.6 401.8,501.8 402.5,500.2 403.2,497.3 404.0,492.6 404.7,485.5 405.4,475.5 406.1,462.5 406.8,446.9 407.6,429.6 408.3,412.0 409.0,395.6 409.7,381.6 410.4,371.0 411.2,364.0 411.9,360.3 412.6,359.3 413.3,360.3 414.0,362.7 414.8,365.7 415.5,369.2 416.2,372.8 416.9,376.4 417.6,379.9 418.4,383.4 419.1,386.7 419.8,390.0 420.5,393.1 421.2,396.2 422.0,399.1 422.7,402.0 423.4,404.7 424.1,407.4 424.8,410.0 425.6,412.6 426.3,415.0 427.0,417.4 427.7,419.7 428.4,421.9 429.2,424.0 429.9,426.1 430.6,428.2 431.3,430.1 432.0,432.0 432.8,433.9 433.5,435.7 434.2,437.4 434.9,439.1 435.6,440.7 436.4,442.3 437.1,443.8 437.8,445.3 438.5,446.8 439.2,448.2 440.0,449.5 440.7,450.8 441.4,452.1 442.1,453.3 442.8,454.5 443.6,455.7 444.3,456.8 445.0,457.9 445.7,459.0 446.4,460.0 447.2,461.0 447.9,462.0 448.6,463.0 449.3,463.9 450.0,464.8 450.8,465.6 451.5,466.5 452.2,467.3 452.9,468.1 453.6,468.8 454.4,469.6 455.1,470.3 455.8,471.0 456.5,471.7 457.2,472.4 458.0,473.0 458.7,473.6 459.4,474.2 460.1,474.8 460.8,475.4 461.6,476.0 462.3,476.5 463.0,477.0 463.7,477.5 464.4,478.0 465.2,478.5 465.9,479.0 466.6,479.5 467.3,479.9 468.0,480.3 468.8,480.8 469.5,481.2 470.2,481.6 470.9,482.0 471.6,482.4 472.4,482.7 473.1,483.1 473.8,483.4 474.5,483.8 475.2,484.1 476.0,484.4 476.7,484.7 477.4,485.1 478.1,485.4 478.8,485.6 479.6,485.9 480.3,486.2 481.0,486.5 481.7,486.7 482.4,487.0 483.2,487.2 483.9,487.5 484.6,487.7 485.3,488.0 486.0,488.2 486.8,488.4 487.5,488.6 488.2,488.8 488.9,489.0 489.6,489.3 490.4,489.4 491.1,489.6 491.8,489.8 492.5,490.0 493.2,490.2 494.0,490.4 494.7,490.5 495.4,490.7 496.1,490.9 496.8,491.0 497.6,491.2 498.3,491.3 499.0,491.5 499.7,491.6 500.4,491.8 501.2,491.9 501.9,492.1 502.6,492.2 503.3,492.3 504.0,492.5 504.8,492.6 505.5,492.7 506.2,492.8 506.9,493.0 507.6,493.1 508.4,493.2 509.1,493.3 509.8,493.4 510.5,493.5 511.2,493.6 512.0,493.7 512.7,493.8 513.4,493.9 514.1,494.0 514.8,494.1 515.6,494.2 516.3,494.3 517.0,494.4 517.7,494.5 518.4,494.6 519.2,494.7 519.9,494.8 520.6,494.9 521.3,495.0 522.0,495.0 522.8,495.1 523.5,495.2 524.2,495.3 524.9,495.4 525.6,495.4 526.4,495.5 527.1,495.6 527.8,495.7 528.5,495.7 529.2,495.8 530.0,495.9 530.7,495.9 531.4,496.0 532.1,496.1 532.8,496.1 533.6,496.2 534.3,496.3 535.0,496.3 535.7,496.4 536.4,496.4 537.2,496.5 537.9,496.6 538.6,496.6 539.3,496.7 540.0,496.7 540.8,496.8 541.5,496.9 542.2,496.9 542.9,497.0 543.6,497.0 544.4,497.1 545.1,497.1 545.8,497.2 546.5,497.2 547.2,497.3 548.0,497.3 548.7,497.4 549.4,497.4 550.1,497.5 550.8,497.5 551.6,497.6 552.3,497.6 553.0,497.7 553.7,497.7 554.4,497.8 555.2,497.8 555.9,497.8 556.6,497.9 557.3,497.9 558.0,498.0 558.8,498.0 559.5,498.1 560.2,498.1 560.9,498.1 561.6,498.2 562.4,498.2 563.1,498.3 563.8,498.3 564.5,498.3 565.2,498.4 566.0,498.4 566.7,498.5 567.4,498.5 568.1,498.5 568.8,498.6 569.6,498.6 570.3,498.6 571.0,498.7 571.7,498.7 572.4,498.7 573.2,498.8 573.9,498.8 574.6,498.8 575.3,498.9 576.0,498.9 576.8,498.9 577.5,499.0 578.2,499.0 578.9,499.0 579.6,499.1 580.4,499.1 581.1,499.1 581.8,499.2 582.5,499.2 583.2,499.2 584.0,499.3 584.7,499.3 585.4,499.3 586.1,499.4 586.8,499.4 587.6,499.4 588.3,499.4 589.0,499.5 589.7,499.5 590.4,499.5 591.2,499.6 591.9,499.6 592.6,499.6 593.3,499.6 594.0,499.7 594.8,499.7 595.5,499.7 596.2,499.7 596.9,499.8 597.6,499.8 598.4,499.8 599.1,499.8 599.8,499.9 600.5,499.9 601.2,499.9 602.0,499.9 602.7,500.0 603.4,500.0 604.1,500.0 604.8,500.0 605.6,500.1 606.3,500.1 607.0,500.1" fill="none" stroke="#eb9a3a" stroke-width="3.5" stroke-linejoin="round"/>
<polyline points="391.0,503.3 391.4,503.3 391.7,503.3 392.1,503.3 392.4,503.3 392.8,503.3 393.2,503.3 393.5,503.3 393.9,503.3 394.2,503.3 394.6,503.2 395.0,503.2 395.3,503.2 395.7,503.1 396.0,503.0 396.4,502.9 396.8,502.8 397.1,502.6 397.5,502.3 397.8,502.0 398.2,501.5 398.6,500.9 398.9,500.2 399.3,499.3 399.6,498.1 400.0,496.7 400.4,494.9 400.7,492.8 401.1,490.3 401.4,487.3 401.8,483.8 402.2,479.8 402.5,475.2 402.9,470.0 403.2,464.2 403.6,457.9 404.0,451.0 404.3,443.6 404.7,435.8 405.0,427.7 405.4,419.3 405.8,410.9 406.1,402.6 406.5,394.6 406.8,387.0 407.2,380.0 407.6,373.9 407.9,368.6 408.3,364.4 408.6,361.4 409.0,359.7 409.4,359.3 409.7,360.7 410.1,363.9 410.4,368.9 410.8,375.5 411.2,383.3 411.5,392.2 411.9,401.8 412.2,411.8 412.6,421.9 413.0,431.9 413.3,441.4 413.7,450.4 414.0,458.6 414.4,465.9 414.8,472.4 415.1,477.9 415.5,482.6 415.8,486.3 416.2,489.3 416.6,491.6 416.9,493.4 417.3,494.6 417.6,495.5 418.0,496.1 418.4,496.5 418.7,496.8 419.1,497.0 419.4,497.1 419.8,497.2 420.2,497.2 420.5,497.3 420.9,497.3 421.2,497.3 421.6,497.3 422.0,497.3 422.3,497.3 422.7,497.3 423.0,497.3 423.4,497.3 423.8,497.3 424.1,497.3 424.5,497.3 424.8,497.3 425.2,497.3 425.6,497.3 425.9,497.3 426.3,497.3 426.6,497.3 427.0,497.3 427.4,497.4 427.7,497.4 428.1,497.5 428.4,497.5 428.8,497.6 429.2,497.7 429.5,497.8 429.9,497.9 430.2,498.0 430.6,498.1 431.0,498.2 431.3,498.3 431.7,498.4 432.0,498.5 432.4,498.7 432.8,498.8 433.1,498.9 433.5,499.1 433.8,499.2 434.2,499.4 434.6,499.5 434.9,499.6 435.3,499.8 435.6,499.9 436.0,500.1 436.4,500.2 436.7,500.3 437.1,500.5 437.4,500.6 437.8,500.7 438.2,500.9 438.5,501.0 438.9,501.1 439.2,501.2 439.6,501.3 440.0,501.4 440.3,501.6 440.7,501.7 441.0,501.8 441.4,501.9 441.8,501.9 442.1,502.0 442.5,502.1 442.8,502.2 443.2,502.3 443.6,502.3 443.9,502.4 444.3,502.5 444.6,502.5 445.0,502.6 445.4,502.7 445.7,502.7 446.1,502.8 446.4,502.8 446.8,502.8 447.2,502.9 447.5,502.9 447.9,502.9 448.2,503.0 448.6,503.0 449.0,503.0 449.3,503.1 449.7,503.1 450.0,503.1 450.4,503.1 450.8,503.1 451.1,503.2 451.5,503.2 451.8,503.2 452.2,503.2 452.6,503.2 452.9,503.2 453.3,503.2 453.6,503.2 454.0,503.2 454.4,503.2 454.7,503.3 455.1,503.3 455.4,503.3 455.8,503.3 456.2,503.3 456.5,503.3 456.9,503.3 457.2,503.3 457.6,503.3 458.0,503.3 458.3,503.3 458.7,503.3 459.0,503.3 459.4,503.3 459.8,503.3 460.1,503.3 460.5,503.3 460.8,503.3 461.2,503.3 461.6,503.3 461.9,503.3 462.3,503.3 462.6,503.3 463.0,503.3 463.4,503.3 463.7,503.3 464.1,503.3 464.4,503.3 464.8,503.3 465.2,503.3 465.5,503.3 465.9,503.3 466.2,503.3 466.6,503.3 467.0,503.3 467.3,503.3 467.7,503.3 468.0,503.3 468.4,503.3 468.8,503.3 469.1,503.3 469.5,503.3 469.8,503.3 470.2,503.3 470.6,503.3 470.9,503.3 471.3,503.3 471.6,503.3 472.0,503.3 472.4,503.3 472.7,503.3 473.1,503.3 473.4,503.3 473.8,503.3 474.2,503.3 474.5,503.3 474.9,503.3 475.2,503.3 475.6,503.3 476.0,503.3 476.3,503.3 476.7,503.3 477.0,503.3 477.4,503.3 477.8,503.3 478.1,503.3 478.5,503.3 478.8,503.3 479.2,503.3 479.6,503.3 479.9,503.3 480.3,503.3 480.6,503.3 481.0,503.3 481.4,503.3 481.7,503.3 482.1,503.3 482.4,503.3 482.8,503.3 483.2,503.3 483.5,503.3 483.9,503.3 484.2,503.3 484.6,503.3 485.0,503.3 485.3,503.3 485.7,503.3 486.0,503.3 486.4,503.3 486.8,503.3 487.1,503.3 487.5,503.3 487.8,503.3 488.2,503.3 488.6,503.3 488.9,503.3 489.3,503.3 489.6,503.3 490.0,503.3 490.4,503.3 490.7,503.3 491.1,503.3 491.4,503.3 491.8,503.3 492.2,503.3 492.5,503.3 492.9,503.3 493.2,503.3 493.6,503.3 494.0,503.3 494.3,503.3 494.7,503.3 495.0,503.3 495.4,503.3 495.8,503.3 496.1,503.3 496.5,503.3 496.8,503.3 497.2,503.3 497.6,503.3 497.9,503.3 498.3,503.3 498.6,503.3 499.0,503.3 499.4,503.3 499.7,503.3 500.1,503.3 500.4,503.3 500.8,503.3 501.2,503.3 501.5,503.3 501.9,503.3 502.2,503.3 502.6,503.3 503.0,503.3 503.3,503.3 503.7,503.3 504.0,503.3 504.4,503.3 504.8,503.3 505.1,503.3 505.5,503.3 505.8,503.3 506.2,503.3 506.6,503.3 506.9,503.3 507.3,503.3 507.6,503.3 508.0,503.3 508.4,503.3 508.7,503.3 509.1,503.3 509.4,503.3 509.8,503.3 510.2,503.3 510.5,503.3 510.9,503.3 511.2,503.3 511.6,503.3 512.0,503.3 512.3,503.3 512.7,503.3 513.0,503.3 513.4,503.3 513.8,503.3 514.1,503.3 514.5,503.3 514.8,503.3 515.2,503.3 515.6,503.3 515.9,503.3 516.3,503.3 516.6,503.3 517.0,503.3 517.4,503.3 517.7,503.3 518.1,503.3 518.4,503.3 518.8,503.3 519.2,503.3 519.5,503.3 519.9,503.3 520.2,503.3 520.6,503.3 521.0,503.3 521.3,503.3 521.7,503.3 522.0,503.3 522.4,503.3 522.8,503.3 523.1,503.3 523.5,503.3 523.8,503.3 524.2,503.3 524.6,503.3 524.9,503.3 525.3,503.3 525.6,503.3 526.0,503.3 526.4,503.3 526.7,503.3 527.1,503.3 527.4,503.3 527.8,503.3 528.2,503.3 528.5,503.3 528.9,503.3 529.2,503.3 529.6,503.3 530.0,503.3 530.3,503.3 530.7,503.3 531.0,503.3 531.4,503.3 531.8,503.3 532.1,503.3 532.5,503.3 532.8,503.3 533.2,503.3 533.6,503.3 533.9,503.3 534.3,503.3 534.6,503.3 535.0,503.3 535.4,503.3 535.7,503.3 536.1,503.3 536.4,503.3 536.8,503.3 537.2,503.3 537.5,503.3 537.9,503.3 538.2,503.3 538.6,503.3 539.0,503.3 539.3,503.3 539.7,503.3 540.0,503.3 540.4,503.3 540.8,503.3 541.1,503.3 541.5,503.3 541.8,503.3 542.2,503.3 542.6,503.3 542.9,503.3 543.3,503.3 543.6,503.3 544.0,503.3 544.4,503.3 544.7,503.3 545.1,503.3 545.4,503.3 545.8,503.3 546.2,503.3 546.5,503.3 546.9,503.3 547.2,503.3 547.6,503.3 548.0,503.3 548.3,503.3 548.7,503.3 549.0,503.3 549.4,503.3 549.8,503.3 550.1,503.3 550.5,503.3 550.8,503.3 551.2,503.3 551.6,503.3 551.9,503.3 552.3,503.3 552.6,503.3 553.0,503.3 553.4,503.3 553.7,503.3 554.1,503.3 554.4,503.3 554.8,503.3 555.2,503.3 555.5,503.3 555.9,503.3 556.2,503.3 556.6,503.3 557.0,503.3 557.3,503.3 557.7,503.3 558.0,503.3 558.4,503.3 558.8,503.3 559.1,503.3 559.5,503.3 559.8,503.3 560.2,503.3 560.6,503.3 560.9,503.3 561.3,503.3 561.6,503.3 562.0,503.3 562.4,503.3 562.7,503.3 563.1,503.3 563.4,503.3 563.8,503.3 564.2,503.3 564.5,503.3 564.9,503.3 565.2,503.3 565.6,503.3 566.0,503.3 566.3,503.3 566.7,503.3 567.0,503.3 567.4,503.3 567.8,503.3 568.1,503.3 568.5,503.3 568.8,503.3 569.2,503.3 569.6,503.3 569.9,503.3 570.3,503.3 570.6,503.3 571.0,503.3 571.4,503.3 571.7,503.3 572.1,503.3 572.4,503.3 572.8,503.3 573.2,503.3 573.5,503.3 573.9,503.3 574.2,503.3 574.6,503.3 575.0,503.3 575.3,503.3 575.7,503.3 576.0,503.3 576.4,503.3 576.8,503.3 577.1,503.3 577.5,503.3 577.8,503.3 578.2,503.3 578.6,503.3 578.9,503.3 579.3,503.3 579.6,503.3 580.0,503.3 580.4,503.3 580.7,503.3 581.1,503.3 581.4,503.3 581.8,503.3 582.2,503.3 582.5,503.3 582.9,503.3 583.2,503.3 583.6,503.3 584.0,503.3 584.3,503.3 584.7,503.3 585.0,503.3 585.4,503.3 585.8,503.3 586.1,503.3 586.5,503.3 586.8,503.3 587.2,503.3 587.6,503.3 587.9,503.3 588.3,503.3 588.6,503.3 589.0,503.3 589.4,503.3 589.7,503.3 590.1,503.3 590.4,503.3 590.8,503.3 591.2,503.3 591.5,503.3 591.9,503.3 592.2,503.3 592.6,503.3 593.0,503.3 593.3,503.3 593.7,503.3 594.0,503.3 594.4,503.3 594.8,503.3 595.1,503.3 595.5,503.3 595.8,503.3 596.2,503.3 596.6,503.3 596.9,503.3 597.3,503.3 597.6,503.3 598.0,503.3 598.4,503.3 598.7,503.3 599.1,503.3 599.4,503.3 599.8,503.3 600.2,503.3 600.5,503.3 600.9,503.3 601.2,503.3 601.6,503.3 602.0,503.3 602.3,503.3 602.7,503.3 603.0,503.3 603.4,503.3 603.8,503.3 604.1,503.3 604.5,503.3 604.8,503.3 605.2,503.3 605.6,503.3 605.9,503.3 606.3,503.3 606.6,503.3 607.0,503.3" fill="none" stroke="#a4a4a4" stroke-width="1.9" stroke-linejoin="round"/>
<line x1="391.00" y1="359.00" x2="391.00" y2="503.30" stroke="#7a7a7a" stroke-width="1.2"/>
<line x1="391.00" y1="503.30" x2="607.00" y2="503.30" stroke="#7a7a7a" stroke-width="1.2"/>
<line x1="388.50" y1="359.00" x2="391.00" y2="359.00" stroke="#7a7a7a" stroke-width="1"/>
<text x="387.00" y="362.80" font-size="10.4" text-anchor="end" fill="#222">10000</text>
<line x1="388.50" y1="431.20" x2="391.00" y2="431.20" stroke="#7a7a7a" stroke-width="1"/>
<text x="387.00" y="435.00" font-size="10.4" text-anchor="end" fill="#222">5000</text>
<line x1="388.50" y1="503.30" x2="391.00" y2="503.30" stroke="#7a7a7a" stroke-width="1"/>
<text x="387.00" y="507.10" font-size="10.4" text-anchor="end" fill="#222">0</text>
<line x1="391.00" y1="503.30" x2="391.00" y2="505.80" stroke="#7a7a7a" stroke-width="1"/>
<text x="391.00" y="517.80" font-size="10.4" text-anchor="middle" fill="#222">10</text>
<line x1="463.00" y1="503.30" x2="463.00" y2="505.80" stroke="#7a7a7a" stroke-width="1"/>
<text x="463.00" y="517.80" font-size="10.4" text-anchor="middle" fill="#222">20</text>
<line x1="535.00" y1="503.30" x2="535.00" y2="505.80" stroke="#7a7a7a" stroke-width="1"/>
<text x="535.00" y="517.80" font-size="10.4" text-anchor="middle" fill="#222">30</text>
<line x1="607.00" y1="503.30" x2="607.00" y2="505.80" stroke="#7a7a7a" stroke-width="1"/>
<text x="607.00" y="517.80" font-size="10.4" text-anchor="middle" fill="#222">40</text>
<text x="499.50" y="532.40" font-size="10.4" text-anchor="middle" fill="#222">Time (ns)</text>
<text x="349.00" y="431.00" font-size="10.4" text-anchor="middle" fill="#222" transform="rotate(-90 349.00 431.00)">Fluorescence Intensity</text>
<line x1="71.70" y1="587.40" x2="281.30" y2="587.40" stroke="#3a3a3a" stroke-width="1.1"/>
<line x1="71.70" y1="587.40" x2="71.70" y2="749.00" stroke="#3a3a3a" stroke-width="1.1"/>
<line x1="71.70" y1="749.00" x2="281.30" y2="749.00" stroke="#3a3a3a" stroke-width="1.1"/>
<line x1="281.30" y1="587.40" x2="281.30" y2="749.00" stroke="#3a3a3a" stroke-width="1.1"/>
<line x1="69.00" y1="587.40" x2="71.70" y2="587.40" stroke="#3a3a3a" stroke-width="1"/>
<text x="64.60" y="591.20" font-size="10.8" text-anchor="end" fill="#222">6.5</text>
<line x1="69.00" y1="619.70" x2="71.70" y2="619.70" stroke="#3a3a3a" stroke-width="1"/>
<text x="64.60" y="623.50" font-size="10.8" text-anchor="end" fill="#222">6.0</text>
<line x1="69.00" y1="652.00" x2="71.70" y2="652.00" stroke="#3a3a3a" stroke-width="1"/>
<text x="64.60" y="655.80" font-size="10.8" text-anchor="end" fill="#222">5.5</text>
<line x1="69.00" y1="684.30" x2="71.70" y2="684.30" stroke="#3a3a3a" stroke-width="1"/>
<text x="64.60" y="688.10" font-size="10.8" text-anchor="end" fill="#222">5.0</text>
<line x1="69.00" y1="716.60" x2="71.70" y2="716.60" stroke="#3a3a3a" stroke-width="1"/>
<text x="64.60" y="720.40" font-size="10.8" text-anchor="end" fill="#222">4.5</text>
<line x1="69.00" y1="748.90" x2="71.70" y2="748.90" stroke="#3a3a3a" stroke-width="1"/>
<text x="64.60" y="752.70" font-size="10.8" text-anchor="end" fill="#222">4.0</text>
<line x1="95.00" y1="749.00" x2="95.00" y2="751.50" stroke="#3a3a3a" stroke-width="1"/>
<text x="98.80" y="760.50" font-size="10.4" text-anchor="end" fill="#222" transform="rotate(-45 98.80 760.50)">0′</text>
<line x1="132.26" y1="749.00" x2="132.26" y2="751.50" stroke="#3a3a3a" stroke-width="1"/>
<text x="136.06" y="760.50" font-size="10.4" text-anchor="end" fill="#222" transform="rotate(-45 136.06 760.50)">20′</text>
<line x1="169.52" y1="749.00" x2="169.52" y2="751.50" stroke="#3a3a3a" stroke-width="1"/>
<text x="173.32" y="760.50" font-size="10.4" text-anchor="end" fill="#222" transform="rotate(-45 173.32 760.50)">40′</text>
<line x1="206.78" y1="749.00" x2="206.78" y2="751.50" stroke="#3a3a3a" stroke-width="1"/>
<text x="210.58" y="760.50" font-size="10.4" text-anchor="end" fill="#222" transform="rotate(-45 210.58 760.50)">60′</text>
<line x1="244.04" y1="749.00" x2="244.04" y2="751.50" stroke="#3a3a3a" stroke-width="1"/>
<text x="247.84" y="760.50" font-size="10.4" text-anchor="end" fill="#222" transform="rotate(-45 247.84 760.50)">80′</text>
<line x1="281.30" y1="749.00" x2="281.30" y2="751.50" stroke="#3a3a3a" stroke-width="1"/>
<text x="285.10" y="760.50" font-size="10.4" text-anchor="end" fill="#222" transform="rotate(-45 285.10 760.50)">100′</text>
<line x1="80.84" y1="580.00" x2="80.84" y2="587.50" stroke="#7a7a7a" stroke-width="1.3"/>
<line x1="80.84" y1="589.50" x2="80.84" y2="749.00" stroke="#7a7a7a" stroke-width="1.3" stroke-dasharray="3.4 2.1"/>
<line x1="95.00" y1="580.00" x2="95.00" y2="587.50" stroke="#7a7a7a" stroke-width="1.3"/>
<line x1="95.00" y1="589.50" x2="95.00" y2="749.00" stroke="#7a7a7a" stroke-width="1.3" stroke-dasharray="3.4 2.1"/>
<line x1="206.78" y1="580.00" x2="206.78" y2="587.50" stroke="#7a7a7a" stroke-width="1.3"/>
<line x1="206.78" y1="589.50" x2="206.78" y2="749.00" stroke="#7a7a7a" stroke-width="1.3" stroke-dasharray="3.4 2.1"/>
<text x="83.30" y="575.50" font-size="10.6" text-anchor="start" fill="#222" transform="rotate(-65 83.30 575.50)">+ WT</text>
<text x="97.80" y="575.50" font-size="10.6" text-anchor="start" fill="#222" transform="rotate(-65 97.80 575.50)">+ CTP</text>
<text x="209.30" y="575.50" font-size="10.6" text-anchor="start" fill="#222" transform="rotate(-65 209.30 575.50)">+ ATP</text>
<text x="42.50" y="667.00" font-size="10.6" text-anchor="middle" fill="#222" transform="rotate(-90 42.50 667.00)">Average τ (ns)</text>
<polyline points="80.8,708.2 95.0,706.9 104.3,675.9 132.3,664.3 169.5,654.6 206.8,626.2 234.7,622.9 262.7,621.0" fill="none" stroke="#333" stroke-width="1"/>
<line x1="80.84" y1="705.62" x2="80.84" y2="710.79" stroke="#333" stroke-width="0.9"/>
<line x1="78.34" y1="705.62" x2="83.34" y2="705.62" stroke="#333" stroke-width="0.9"/>
<line x1="78.34" y1="710.79" x2="83.34" y2="710.79" stroke="#333" stroke-width="0.9"/>
<circle cx="80.84" cy="708.20" r="2.7" fill="none" stroke="#333" stroke-width="0.9"/>
<line x1="95.00" y1="703.03" x2="95.00" y2="710.79" stroke="#333" stroke-width="0.9"/>
<line x1="92.50" y1="703.03" x2="97.50" y2="703.03" stroke="#333" stroke-width="0.9"/>
<line x1="92.50" y1="710.79" x2="97.50" y2="710.79" stroke="#333" stroke-width="0.9"/>
<circle cx="95.00" cy="706.91" r="2.7" fill="none" stroke="#333" stroke-width="0.9"/>
<line x1="104.31" y1="672.67" x2="104.31" y2="679.13" stroke="#333" stroke-width="0.9"/>
<line x1="101.81" y1="672.67" x2="106.81" y2="672.67" stroke="#333" stroke-width="0.9"/>
<line x1="101.81" y1="679.13" x2="106.81" y2="679.13" stroke="#333" stroke-width="0.9"/>
<circle cx="104.31" cy="675.90" r="2.7" fill="none" stroke="#333" stroke-width="0.9"/>
<line x1="132.26" y1="661.69" x2="132.26" y2="666.86" stroke="#333" stroke-width="0.9"/>
<line x1="129.76" y1="661.69" x2="134.76" y2="661.69" stroke="#333" stroke-width="0.9"/>
<line x1="129.76" y1="666.86" x2="134.76" y2="666.86" stroke="#333" stroke-width="0.9"/>
<circle cx="132.26" cy="664.27" r="2.7" fill="none" stroke="#333" stroke-width="0.9"/>
<line x1="169.52" y1="652.00" x2="169.52" y2="657.17" stroke="#333" stroke-width="0.9"/>
<line x1="167.02" y1="652.00" x2="172.02" y2="652.00" stroke="#333" stroke-width="0.9"/>
<line x1="167.02" y1="657.17" x2="172.02" y2="657.17" stroke="#333" stroke-width="0.9"/>
<circle cx="169.52" cy="654.58" r="2.7" fill="none" stroke="#333" stroke-width="0.9"/>
<line x1="206.78" y1="624.87" x2="206.78" y2="627.45" stroke="#333" stroke-width="0.9"/>
<line x1="204.28" y1="624.87" x2="209.28" y2="624.87" stroke="#333" stroke-width="0.9"/>
<line x1="204.28" y1="627.45" x2="209.28" y2="627.45" stroke="#333" stroke-width="0.9"/>
<circle cx="206.78" cy="626.16" r="2.7" fill="none" stroke="#333" stroke-width="0.9"/>
<line x1="234.72" y1="622.28" x2="234.72" y2="623.58" stroke="#333" stroke-width="0.9"/>
<line x1="232.22" y1="622.28" x2="237.22" y2="622.28" stroke="#333" stroke-width="0.9"/>
<line x1="232.22" y1="623.58" x2="237.22" y2="623.58" stroke="#333" stroke-width="0.9"/>
<circle cx="234.72" cy="622.93" r="2.7" fill="none" stroke="#333" stroke-width="0.9"/>
<line x1="262.67" y1="619.70" x2="262.67" y2="622.28" stroke="#333" stroke-width="0.9"/>
<line x1="260.17" y1="619.70" x2="265.17" y2="619.70" stroke="#333" stroke-width="0.9"/>
<line x1="260.17" y1="622.28" x2="265.17" y2="622.28" stroke="#333" stroke-width="0.9"/>
<circle cx="262.67" cy="620.99" r="2.7" fill="none" stroke="#333" stroke-width="0.9"/>
<line x1="391.70" y1="587.40" x2="601.30" y2="587.40" stroke="#3a3a3a" stroke-width="1.1"/>
<line x1="391.70" y1="587.40" x2="391.70" y2="749.00" stroke="#3a3a3a" stroke-width="1.1"/>
<line x1="391.70" y1="749.00" x2="601.30" y2="749.00" stroke="#3a3a3a" stroke-width="1.1"/>
<line x1="601.30" y1="587.40" x2="601.30" y2="749.00" stroke="#3a3a3a" stroke-width="1.1"/>
<line x1="389.00" y1="587.40" x2="391.70" y2="587.40" stroke="#3a3a3a" stroke-width="1"/>
<text x="384.60" y="591.20" font-size="10.8" text-anchor="end" fill="#222">6.5</text>
<line x1="389.00" y1="619.70" x2="391.70" y2="619.70" stroke="#3a3a3a" stroke-width="1"/>
<text x="384.60" y="623.50" font-size="10.8" text-anchor="end" fill="#222">6.0</text>
<line x1="389.00" y1="652.00" x2="391.70" y2="652.00" stroke="#3a3a3a" stroke-width="1"/>
<text x="384.60" y="655.80" font-size="10.8" text-anchor="end" fill="#222">5.5</text>
<line x1="389.00" y1="684.30" x2="391.70" y2="684.30" stroke="#3a3a3a" stroke-width="1"/>
<text x="384.60" y="688.10" font-size="10.8" text-anchor="end" fill="#222">5.0</text>
<line x1="389.00" y1="716.60" x2="391.70" y2="716.60" stroke="#3a3a3a" stroke-width="1"/>
<text x="384.60" y="720.40" font-size="10.8" text-anchor="end" fill="#222">4.5</text>
<line x1="389.00" y1="748.90" x2="391.70" y2="748.90" stroke="#3a3a3a" stroke-width="1"/>
<text x="384.60" y="752.70" font-size="10.8" text-anchor="end" fill="#222">4.0</text>
<line x1="415.00" y1="749.00" x2="415.00" y2="751.50" stroke="#3a3a3a" stroke-width="1"/>
<text x="418.80" y="760.50" font-size="10.4" text-anchor="end" fill="#222" transform="rotate(-45 418.80 760.50)">0′</text>
<line x1="452.26" y1="749.00" x2="452.26" y2="751.50" stroke="#3a3a3a" stroke-width="1"/>
<text x="456.06" y="760.50" font-size="10.4" text-anchor="end" fill="#222" transform="rotate(-45 456.06 760.50)">20′</text>
<line x1="489.52" y1="749.00" x2="489.52" y2="751.50" stroke="#3a3a3a" stroke-width="1"/>
<text x="493.32" y="760.50" font-size="10.4" text-anchor="end" fill="#222" transform="rotate(-45 493.32 760.50)">40′</text>
<line x1="526.78" y1="749.00" x2="526.78" y2="751.50" stroke="#3a3a3a" stroke-width="1"/>
<text x="530.58" y="760.50" font-size="10.4" text-anchor="end" fill="#222" transform="rotate(-45 530.58 760.50)">60′</text>
<line x1="564.04" y1="749.00" x2="564.04" y2="751.50" stroke="#3a3a3a" stroke-width="1"/>
<text x="567.84" y="760.50" font-size="10.4" text-anchor="end" fill="#222" transform="rotate(-45 567.84 760.50)">80′</text>
<line x1="601.30" y1="749.00" x2="601.30" y2="751.50" stroke="#3a3a3a" stroke-width="1"/>
<text x="605.10" y="760.50" font-size="10.4" text-anchor="end" fill="#222" transform="rotate(-45 605.10 760.50)">100′</text>
<line x1="400.84" y1="580.00" x2="400.84" y2="587.50" stroke="#7a7a7a" stroke-width="1.3"/>
<line x1="400.84" y1="589.50" x2="400.84" y2="749.00" stroke="#7a7a7a" stroke-width="1.3" stroke-dasharray="3.4 2.1"/>
<line x1="415.00" y1="580.00" x2="415.00" y2="587.50" stroke="#7a7a7a" stroke-width="1.3"/>
<line x1="415.00" y1="589.50" x2="415.00" y2="749.00" stroke="#7a7a7a" stroke-width="1.3" stroke-dasharray="3.4 2.1"/>
<line x1="526.78" y1="580.00" x2="526.78" y2="587.50" stroke="#7a7a7a" stroke-width="1.3"/>
<line x1="526.78" y1="589.50" x2="526.78" y2="749.00" stroke="#7a7a7a" stroke-width="1.3" stroke-dasharray="3.4 2.1"/>
<text x="403.30" y="575.50" font-size="10.6" text-anchor="start" fill="#222" transform="rotate(-65 403.30 575.50)">+ ΔTail</text>
<text x="417.80" y="575.50" font-size="10.6" text-anchor="start" fill="#222" transform="rotate(-65 417.80 575.50)">+ CTP</text>
<text x="529.30" y="575.50" font-size="10.6" text-anchor="start" fill="#222" transform="rotate(-65 529.30 575.50)">+ ATP</text>
<text x="362.50" y="667.00" font-size="10.6" text-anchor="middle" fill="#222" transform="rotate(-90 362.50 667.00)">Average τ (ns)</text>
<polyline points="400.8,708.2 415.0,700.4 424.3,675.3 452.3,663.6 489.5,655.9 526.8,623.6 554.7,623.6 582.7,622.9" fill="none" stroke="#333" stroke-width="1"/>
<line x1="400.84" y1="705.62" x2="400.84" y2="710.79" stroke="#333" stroke-width="0.9"/>
<line x1="398.34" y1="705.62" x2="403.34" y2="705.62" stroke="#333" stroke-width="0.9"/>
<line x1="398.34" y1="710.79" x2="403.34" y2="710.79" stroke="#333" stroke-width="0.9"/>
<circle cx="400.84" cy="708.20" r="2.7" fill="none" stroke="#333" stroke-width="0.9"/>
<line x1="415.00" y1="699.16" x2="415.00" y2="701.74" stroke="#333" stroke-width="0.9"/>
<line x1="412.50" y1="699.16" x2="417.50" y2="699.16" stroke="#333" stroke-width="0.9"/>
<line x1="412.50" y1="701.74" x2="417.50" y2="701.74" stroke="#333" stroke-width="0.9"/>
<circle cx="415.00" cy="700.45" r="2.7" fill="none" stroke="#333" stroke-width="0.9"/>
<line x1="424.31" y1="667.50" x2="424.31" y2="683.01" stroke="#333" stroke-width="0.9"/>
<line x1="421.81" y1="667.50" x2="426.81" y2="667.50" stroke="#333" stroke-width="0.9"/>
<line x1="421.81" y1="683.01" x2="426.81" y2="683.01" stroke="#333" stroke-width="0.9"/>
<circle cx="424.31" cy="675.26" r="2.7" fill="none" stroke="#333" stroke-width="0.9"/>
<line x1="452.26" y1="658.46" x2="452.26" y2="668.80" stroke="#333" stroke-width="0.9"/>
<line x1="449.76" y1="658.46" x2="454.76" y2="658.46" stroke="#333" stroke-width="0.9"/>
<line x1="449.76" y1="668.80" x2="454.76" y2="668.80" stroke="#333" stroke-width="0.9"/>
<circle cx="452.26" cy="663.63" r="2.7" fill="none" stroke="#333" stroke-width="0.9"/>
<line x1="489.52" y1="654.58" x2="489.52" y2="657.17" stroke="#333" stroke-width="0.9"/>
<line x1="487.02" y1="654.58" x2="492.02" y2="654.58" stroke="#333" stroke-width="0.9"/>
<line x1="487.02" y1="657.17" x2="492.02" y2="657.17" stroke="#333" stroke-width="0.9"/>
<circle cx="489.52" cy="655.88" r="2.7" fill="none" stroke="#333" stroke-width="0.9"/>
<line x1="526.78" y1="622.28" x2="526.78" y2="624.87" stroke="#333" stroke-width="0.9"/>
<line x1="524.28" y1="622.28" x2="529.28" y2="622.28" stroke="#333" stroke-width="0.9"/>
<line x1="524.28" y1="624.87" x2="529.28" y2="624.87" stroke="#333" stroke-width="0.9"/>
<circle cx="526.78" cy="623.58" r="2.7" fill="none" stroke="#333" stroke-width="0.9"/>
<line x1="554.73" y1="620.99" x2="554.73" y2="626.16" stroke="#333" stroke-width="0.9"/>
<line x1="552.23" y1="620.99" x2="557.23" y2="620.99" stroke="#333" stroke-width="0.9"/>
<line x1="552.23" y1="626.16" x2="557.23" y2="626.16" stroke="#333" stroke-width="0.9"/>
<circle cx="554.73" cy="623.58" r="2.7" fill="none" stroke="#333" stroke-width="0.9"/>
<line x1="582.67" y1="622.28" x2="582.67" y2="623.58" stroke="#333" stroke-width="0.9"/>
<line x1="580.17" y1="622.28" x2="585.17" y2="622.28" stroke="#333" stroke-width="0.9"/>
<line x1="580.17" y1="623.58" x2="585.17" y2="623.58" stroke="#333" stroke-width="0.9"/>
<circle cx="582.67" cy="622.93" r="2.7" fill="none" stroke="#333" stroke-width="0.9"/>
<rect x="48.50" y="792.30" width="21.20" height="17.46" fill="#f5f882" stroke="#34361e" stroke-width="0.9"/>
<rect x="48.50" y="809.76" width="21.20" height="58.74" fill="#c2f4be" stroke="#2c3e2c" stroke-width="0.9"/>
<rect x="48.50" y="868.50" width="21.20" height="74.90" fill="#d982f6" stroke="#3a2450" stroke-width="0.9"/>
<text transform="translate(59.40,804.4) scale(0.8,1)" x="0" y="0" font-size="9.4" text-anchor="middle" fill="#2a2a10">7.4</text>
<text transform="translate(59.40,848.2) scale(0.8,1)" x="0" y="0" font-size="9.4" text-anchor="middle" fill="#1e2e1e">3.3</text>
<text transform="translate(59.40,927.9) scale(0.8,1)" x="0" y="0" font-size="9.4" text-anchor="middle" fill="#2a1045">0.7</text>
<rect x="80.95" y="792.30" width="21.20" height="17.46" fill="#f5f882" stroke="#34361e" stroke-width="0.9"/>
<rect x="80.95" y="809.76" width="21.20" height="58.74" fill="#c2f4be" stroke="#2c3e2c" stroke-width="0.9"/>
<rect x="80.95" y="868.50" width="21.20" height="74.90" fill="#d982f6" stroke="#3a2450" stroke-width="0.9"/>
<text transform="translate(91.85,804.4) scale(0.8,1)" x="0" y="0" font-size="9.4" text-anchor="middle" fill="#2a2a10">7.3</text>
<text transform="translate(91.85,848.2) scale(0.8,1)" x="0" y="0" font-size="9.4" text-anchor="middle" fill="#1e2e1e">3.3</text>
<text transform="translate(91.85,927.9) scale(0.8,1)" x="0" y="0" font-size="9.4" text-anchor="middle" fill="#2a1045">0.7</text>
<rect x="113.40" y="792.30" width="21.20" height="23.61" fill="#f5f882" stroke="#34361e" stroke-width="0.9"/>
<rect x="113.40" y="815.91" width="21.20" height="52.59" fill="#c2f4be" stroke="#2c3e2c" stroke-width="0.9"/>
<rect x="113.40" y="868.50" width="21.20" height="74.90" fill="#d982f6" stroke="#3a2450" stroke-width="0.9"/>
<text transform="translate(124.30,804.4) scale(0.8,1)" x="0" y="0" font-size="9.4" text-anchor="middle" fill="#2a2a10">7.5</text>
<text transform="translate(124.30,848.2) scale(0.8,1)" x="0" y="0" font-size="9.4" text-anchor="middle" fill="#1e2e1e">3.3</text>
<text transform="translate(124.30,927.9) scale(0.8,1)" x="0" y="0" font-size="9.4" text-anchor="middle" fill="#2a1045">0.6</text>
<rect x="145.85" y="792.30" width="21.20" height="26.43" fill="#f5f882" stroke="#34361e" stroke-width="0.9"/>
<rect x="145.85" y="818.73" width="21.20" height="72.71" fill="#c2f4be" stroke="#2c3e2c" stroke-width="0.9"/>
<rect x="145.85" y="891.44" width="21.20" height="51.96" fill="#d982f6" stroke="#3a2450" stroke-width="0.9"/>
<text transform="translate(156.75,804.4) scale(0.8,1)" x="0" y="0" font-size="9.4" text-anchor="middle" fill="#2a2a10">7.4</text>
<text transform="translate(156.75,848.2) scale(0.8,1)" x="0" y="0" font-size="9.4" text-anchor="middle" fill="#1e2e1e">3.2</text>
<text transform="translate(156.75,927.9) scale(0.8,1)" x="0" y="0" font-size="9.4" text-anchor="middle" fill="#2a1045">0.6</text>
<rect x="178.30" y="792.30" width="21.20" height="24.29" fill="#f5f882" stroke="#34361e" stroke-width="0.9"/>
<rect x="178.30" y="816.59" width="21.20" height="63.71" fill="#c2f4be" stroke="#2c3e2c" stroke-width="0.9"/>
<rect x="178.30" y="880.30" width="21.20" height="63.10" fill="#d982f6" stroke="#3a2450" stroke-width="0.9"/>
<text transform="translate(189.20,804.4) scale(0.8,1)" x="0" y="0" font-size="9.4" text-anchor="middle" fill="#2a2a10">7.6</text>
<text transform="translate(189.20,848.2) scale(0.8,1)" x="0" y="0" font-size="9.4" text-anchor="middle" fill="#1e2e1e">3.4</text>
<text transform="translate(189.20,927.9) scale(0.8,1)" x="0" y="0" font-size="9.4" text-anchor="middle" fill="#2a1045">0.7</text>
<rect x="210.75" y="792.30" width="21.20" height="34.74" fill="#f5f882" stroke="#34361e" stroke-width="0.9"/>
<rect x="210.75" y="827.04" width="21.20" height="64.40" fill="#c2f4be" stroke="#2c3e2c" stroke-width="0.9"/>
<rect x="210.75" y="891.44" width="21.20" height="51.96" fill="#d982f6" stroke="#3a2450" stroke-width="0.9"/>
<text transform="translate(221.65,804.4) scale(0.8,1)" x="0" y="0" font-size="9.4" text-anchor="middle" fill="#2a2a10">7.5</text>
<text transform="translate(221.65,848.2) scale(0.8,1)" x="0" y="0" font-size="9.4" text-anchor="middle" fill="#1e2e1e">3.3</text>
<text transform="translate(221.65,927.9) scale(0.8,1)" x="0" y="0" font-size="9.4" text-anchor="middle" fill="#2a1045">0.7</text>
<rect x="243.20" y="792.30" width="21.20" height="34.74" fill="#f5f882" stroke="#34361e" stroke-width="0.9"/>
<rect x="243.20" y="827.04" width="21.20" height="64.40" fill="#c2f4be" stroke="#2c3e2c" stroke-width="0.9"/>
<rect x="243.20" y="891.44" width="21.20" height="51.96" fill="#d982f6" stroke="#3a2450" stroke-width="0.9"/>
<text transform="translate(254.10,804.4) scale(0.8,1)" x="0" y="0" font-size="9.4" text-anchor="middle" fill="#2a2a10">7.6</text>
<text transform="translate(254.10,848.2) scale(0.8,1)" x="0" y="0" font-size="9.4" text-anchor="middle" fill="#1e2e1e">3.2</text>
<text transform="translate(254.10,927.9) scale(0.8,1)" x="0" y="0" font-size="9.4" text-anchor="middle" fill="#2a1045">0.6</text>
<rect x="275.65" y="792.30" width="21.20" height="34.74" fill="#f5f882" stroke="#34361e" stroke-width="0.9"/>
<rect x="275.65" y="827.04" width="21.20" height="64.40" fill="#c2f4be" stroke="#2c3e2c" stroke-width="0.9"/>
<rect x="275.65" y="891.44" width="21.20" height="51.96" fill="#d982f6" stroke="#3a2450" stroke-width="0.9"/>
<text transform="translate(286.55,804.4) scale(0.8,1)" x="0" y="0" font-size="9.4" text-anchor="middle" fill="#2a2a10">7.6</text>
<text transform="translate(286.55,848.2) scale(0.8,1)" x="0" y="0" font-size="9.4" text-anchor="middle" fill="#1e2e1e">3.3</text>
<text transform="translate(286.55,927.9) scale(0.8,1)" x="0" y="0" font-size="9.4" text-anchor="middle" fill="#2a1045">0.7</text>
<line x1="37.30" y1="792.30" x2="37.30" y2="943.40" stroke="#3a3a3a" stroke-width="1.1"/>
<line x1="37.30" y1="943.40" x2="307.00" y2="943.40" stroke="#3a3a3a" stroke-width="1.1"/>
<line x1="34.50" y1="792.30" x2="37.30" y2="792.30" stroke="#3a3a3a" stroke-width="1"/>
<text x="32.20" y="795.10" font-size="10.5" text-anchor="end" fill="#222">1</text>
<line x1="34.50" y1="868.50" x2="37.30" y2="868.50" stroke="#3a3a3a" stroke-width="1"/>
<text x="32.20" y="871.30" font-size="10.5" text-anchor="end" fill="#222">0.1</text>
<line x1="34.50" y1="944.70" x2="37.30" y2="944.70" stroke="#3a3a3a" stroke-width="1"/>
<text x="32.20" y="947.50" font-size="10.5" text-anchor="end" fill="#222">0.01</text>
<text x="9.00" y="863.50" font-size="10" text-anchor="middle" fill="#222" transform="rotate(-90 9.00 863.50)">Norm. Amplitude</text>
<text x="61.60" y="953.50" font-size="10.4" text-anchor="end" fill="#222" transform="rotate(-45 61.60 953.50)">No Enzyme</text>
<text x="94.05" y="953.50" font-size="10.4" text-anchor="end" fill="#222" transform="rotate(-45 94.05 953.50)">+ WT</text>
<text x="126.50" y="953.50" font-size="10.4" text-anchor="end" fill="#222" transform="rotate(-45 126.50 953.50)">5′</text>
<text x="158.95" y="953.50" font-size="10.4" text-anchor="end" fill="#222" transform="rotate(-45 158.95 953.50)">20′</text>
<text x="191.40" y="953.50" font-size="10.4" text-anchor="end" fill="#222" transform="rotate(-45 191.40 953.50)">40′</text>
<text x="223.85" y="953.50" font-size="10.4" text-anchor="end" fill="#222" transform="rotate(-45 223.85 953.50)">60′</text>
<text x="256.30" y="953.50" font-size="10.4" text-anchor="end" fill="#222" transform="rotate(-45 256.30 953.50)">75′</text>
<text x="288.75" y="953.50" font-size="10.4" text-anchor="end" fill="#222" transform="rotate(-45 288.75 953.50)">90′</text>
<path d="M109.6,964.4 V967.4 H235.8 V964.4" fill="none" stroke="#3a3a3a" stroke-width="0.9"/>
<text x="172.70" y="979.80" font-size="10" text-anchor="middle" fill="#222">+ CTP</text>
<path d="M239.0,964.4 V967.4 H300.7 V964.4" fill="none" stroke="#3a3a3a" stroke-width="0.9"/>
<text x="269.85" y="979.80" font-size="10" text-anchor="middle" fill="#222">+ CTP, ATP</text>
<path d="M78.8,984.4 V987.4 H300.7 V984.4" fill="none" stroke="#3a3a3a" stroke-width="0.9"/>
<text x="189.75" y="1000.50" font-size="10" text-anchor="middle" fill="#222">+ WT</text>
<rect x="368.00" y="792.30" width="21.20" height="17.46" fill="#f5f882" stroke="#34361e" stroke-width="0.9"/>
<rect x="368.00" y="809.76" width="21.20" height="58.74" fill="#c2f4be" stroke="#2c3e2c" stroke-width="0.9"/>
<rect x="368.00" y="868.50" width="21.20" height="74.90" fill="#d982f6" stroke="#3a2450" stroke-width="0.9"/>
<text transform="translate(378.90,804.4) scale(0.8,1)" x="0" y="0" font-size="9.4" text-anchor="middle" fill="#2a2a10">7.4</text>
<text transform="translate(378.90,848.2) scale(0.8,1)" x="0" y="0" font-size="9.4" text-anchor="middle" fill="#1e2e1e">3.3</text>
<text transform="translate(378.90,927.9) scale(0.8,1)" x="0" y="0" font-size="9.4" text-anchor="middle" fill="#2a1045">0.7</text>
<rect x="400.45" y="792.30" width="21.20" height="17.46" fill="#f5f882" stroke="#34361e" stroke-width="0.9"/>
<rect x="400.45" y="809.76" width="21.20" height="58.74" fill="#c2f4be" stroke="#2c3e2c" stroke-width="0.9"/>
<rect x="400.45" y="868.50" width="21.20" height="74.90" fill="#d982f6" stroke="#3a2450" stroke-width="0.9"/>
<text transform="translate(411.35,804.4) scale(0.8,1)" x="0" y="0" font-size="9.4" text-anchor="middle" fill="#2a2a10">7.5</text>
<text transform="translate(411.35,848.2) scale(0.8,1)" x="0" y="0" font-size="9.4" text-anchor="middle" fill="#1e2e1e">3.4</text>
<text transform="translate(411.35,927.9) scale(0.8,1)" x="0" y="0" font-size="9.4" text-anchor="middle" fill="#2a1045">0.7</text>
<rect x="432.90" y="792.30" width="21.20" height="21.01" fill="#f5f882" stroke="#34361e" stroke-width="0.9"/>
<rect x="432.90" y="813.31" width="21.20" height="55.19" fill="#c2f4be" stroke="#2c3e2c" stroke-width="0.9"/>
<rect x="432.90" y="868.50" width="21.20" height="74.90" fill="#d982f6" stroke="#3a2450" stroke-width="0.9"/>
<text transform="translate(443.80,804.4) scale(0.8,1)" x="0" y="0" font-size="9.4" text-anchor="middle" fill="#2a2a10">7.5</text>
<text transform="translate(443.80,848.2) scale(0.8,1)" x="0" y="0" font-size="9.4" text-anchor="middle" fill="#1e2e1e">3.3</text>
<text transform="translate(443.80,927.9) scale(0.8,1)" x="0" y="0" font-size="9.4" text-anchor="middle" fill="#2a1045">0.6</text>
<rect x="465.35" y="792.30" width="21.20" height="24.29" fill="#f5f882" stroke="#34361e" stroke-width="0.9"/>
<rect x="465.35" y="816.59" width="21.20" height="59.30" fill="#c2f4be" stroke="#2c3e2c" stroke-width="0.9"/>
<rect x="465.35" y="875.88" width="21.20" height="67.52" fill="#d982f6" stroke="#3a2450" stroke-width="0.9"/>
<text transform="translate(476.25,804.4) scale(0.8,1)" x="0" y="0" font-size="9.4" text-anchor="middle" fill="#2a2a10">7.5</text>
<text transform="translate(476.25,848.2) scale(0.8,1)" x="0" y="0" font-size="9.4" text-anchor="middle" fill="#1e2e1e">3.3</text>
<text transform="translate(476.25,927.9) scale(0.8,1)" x="0" y="0" font-size="9.4" text-anchor="middle" fill="#2a1045">0.6</text>
<rect x="497.80" y="792.30" width="21.20" height="24.99" fill="#f5f882" stroke="#34361e" stroke-width="0.9"/>
<rect x="497.80" y="817.29" width="21.20" height="58.60" fill="#c2f4be" stroke="#2c3e2c" stroke-width="0.9"/>
<rect x="497.80" y="875.88" width="21.20" height="67.52" fill="#d982f6" stroke="#3a2450" stroke-width="0.9"/>
<text transform="translate(508.70,804.4) scale(0.8,1)" x="0" y="0" font-size="9.4" text-anchor="middle" fill="#2a2a10">7.7</text>
<text transform="translate(508.70,848.2) scale(0.8,1)" x="0" y="0" font-size="9.4" text-anchor="middle" fill="#1e2e1e">3.4</text>
<text transform="translate(508.70,927.9) scale(0.8,1)" x="0" y="0" font-size="9.4" text-anchor="middle" fill="#2a1045">0.7</text>
<rect x="530.25" y="792.30" width="21.20" height="32.90" fill="#f5f882" stroke="#34361e" stroke-width="0.9"/>
<rect x="530.25" y="825.20" width="21.20" height="60.20" fill="#c2f4be" stroke="#2c3e2c" stroke-width="0.9"/>
<rect x="530.25" y="885.40" width="21.20" height="58.00" fill="#d982f6" stroke="#3a2450" stroke-width="0.9"/>
<text transform="translate(541.15,804.4) scale(0.8,1)" x="0" y="0" font-size="9.4" text-anchor="middle" fill="#2a2a10">7.6</text>
<text transform="translate(541.15,848.2) scale(0.8,1)" x="0" y="0" font-size="9.4" text-anchor="middle" fill="#1e2e1e">3.5</text>
<text transform="translate(541.15,927.9) scale(0.8,1)" x="0" y="0" font-size="9.4" text-anchor="middle" fill="#2a1045">0.7</text>
<rect x="562.70" y="792.30" width="21.20" height="32.02" fill="#f5f882" stroke="#34361e" stroke-width="0.9"/>
<rect x="562.70" y="824.32" width="21.20" height="55.98" fill="#c2f4be" stroke="#2c3e2c" stroke-width="0.9"/>
<rect x="562.70" y="880.30" width="21.20" height="63.10" fill="#d982f6" stroke="#3a2450" stroke-width="0.9"/>
<text transform="translate(573.60,804.4) scale(0.8,1)" x="0" y="0" font-size="9.4" text-anchor="middle" fill="#2a2a10">7.8</text>
<text transform="translate(573.60,848.2) scale(0.8,1)" x="0" y="0" font-size="9.4" text-anchor="middle" fill="#1e2e1e">3.5</text>
<text transform="translate(573.60,927.9) scale(0.8,1)" x="0" y="0" font-size="9.4" text-anchor="middle" fill="#2a1045">0.8</text>
<rect x="595.15" y="792.30" width="21.20" height="32.90" fill="#f5f882" stroke="#34361e" stroke-width="0.9"/>
<rect x="595.15" y="825.20" width="21.20" height="60.20" fill="#c2f4be" stroke="#2c3e2c" stroke-width="0.9"/>
<rect x="595.15" y="885.40" width="21.20" height="58.00" fill="#d982f6" stroke="#3a2450" stroke-width="0.9"/>
<text transform="translate(606.05,804.4) scale(0.8,1)" x="0" y="0" font-size="9.4" text-anchor="middle" fill="#2a2a10">7.7</text>
<text transform="translate(606.05,848.2) scale(0.8,1)" x="0" y="0" font-size="9.4" text-anchor="middle" fill="#1e2e1e">3.4</text>
<text transform="translate(606.05,927.9) scale(0.8,1)" x="0" y="0" font-size="9.4" text-anchor="middle" fill="#2a1045">0.7</text>
<line x1="356.80" y1="792.30" x2="356.80" y2="943.40" stroke="#3a3a3a" stroke-width="1.1"/>
<line x1="356.80" y1="943.40" x2="626.50" y2="943.40" stroke="#3a3a3a" stroke-width="1.1"/>
<line x1="354.00" y1="792.30" x2="356.80" y2="792.30" stroke="#3a3a3a" stroke-width="1"/>
<text x="351.70" y="795.10" font-size="10.5" text-anchor="end" fill="#222">1</text>
<line x1="354.00" y1="868.50" x2="356.80" y2="868.50" stroke="#3a3a3a" stroke-width="1"/>
<text x="351.70" y="871.30" font-size="10.5" text-anchor="end" fill="#222">0.1</text>
<line x1="354.00" y1="944.70" x2="356.80" y2="944.70" stroke="#3a3a3a" stroke-width="1"/>
<text x="351.70" y="947.50" font-size="10.5" text-anchor="end" fill="#222">0.01</text>
<text x="328.50" y="863.50" font-size="10" text-anchor="middle" fill="#222" transform="rotate(-90 328.50 863.50)">Norm. Amplitude</text>
<text x="381.10" y="953.50" font-size="10.4" text-anchor="end" fill="#222" transform="rotate(-45 381.10 953.50)">No Enzyme</text>
<text x="413.55" y="953.50" font-size="10.4" text-anchor="end" fill="#222" transform="rotate(-45 413.55 953.50)">+ ΔTail</text>
<text x="446.00" y="953.50" font-size="10.4" text-anchor="end" fill="#222" transform="rotate(-45 446.00 953.50)">5′</text>
<text x="478.45" y="953.50" font-size="10.4" text-anchor="end" fill="#222" transform="rotate(-45 478.45 953.50)">20′</text>
<text x="510.90" y="953.50" font-size="10.4" text-anchor="end" fill="#222" transform="rotate(-45 510.90 953.50)">40′</text>
<text x="543.35" y="953.50" font-size="10.4" text-anchor="end" fill="#222" transform="rotate(-45 543.35 953.50)">60′</text>
<text x="575.80" y="953.50" font-size="10.4" text-anchor="end" fill="#222" transform="rotate(-45 575.80 953.50)">75′</text>
<text x="608.25" y="953.50" font-size="10.4" text-anchor="end" fill="#222" transform="rotate(-45 608.25 953.50)">90′</text>
<path d="M429.1,964.4 V967.4 H555.3 V964.4" fill="none" stroke="#3a3a3a" stroke-width="0.9"/>
<text x="492.20" y="979.80" font-size="10" text-anchor="middle" fill="#222">+ CTP</text>
<path d="M558.5,964.4 V967.4 H620.2 V964.4" fill="none" stroke="#3a3a3a" stroke-width="0.9"/>
<text x="589.35" y="979.80" font-size="10" text-anchor="middle" fill="#222">+ CTP, ATP</text>
<path d="M398.3,984.4 V987.4 H620.2 V984.4" fill="none" stroke="#3a3a3a" stroke-width="0.9"/>
<text x="509.25" y="1000.50" font-size="10" text-anchor="middle" fill="#222">+ ΔTail</text>
</svg></body></html>
